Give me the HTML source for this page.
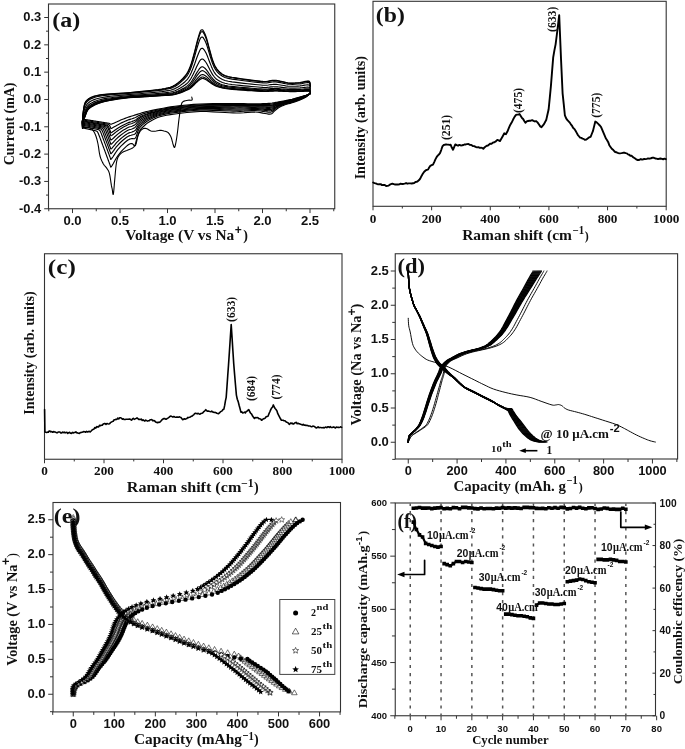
<!DOCTYPE html>
<html><head><meta charset="utf-8"><title>Figure</title>
<style>html,body{margin:0;padding:0;background:#fff;} svg{display:block;}</style>
</head><body>
<svg width="685" height="749" viewBox="0 0 685 749">
<rect x="0" y="0" width="685" height="749" fill="#fff"/>
<rect x="48.50" y="4.00" width="286.25" height="204.75" fill="none" stroke="#333" stroke-width="1.1"/>
<line x1="72.50" y1="208.75" x2="72.50" y2="213.05" stroke="#333" stroke-width="1.0" />
<line x1="120.00" y1="208.75" x2="120.00" y2="213.05" stroke="#333" stroke-width="1.0" />
<line x1="167.50" y1="208.75" x2="167.50" y2="213.05" stroke="#333" stroke-width="1.0" />
<line x1="215.00" y1="208.75" x2="215.00" y2="213.05" stroke="#333" stroke-width="1.0" />
<line x1="262.50" y1="208.75" x2="262.50" y2="213.05" stroke="#333" stroke-width="1.0" />
<line x1="310.00" y1="208.75" x2="310.00" y2="213.05" stroke="#333" stroke-width="1.0" />
<line x1="48.75" y1="208.75" x2="48.75" y2="211.25" stroke="#333" stroke-width="1.0" />
<line x1="96.25" y1="208.75" x2="96.25" y2="211.25" stroke="#333" stroke-width="1.0" />
<line x1="143.75" y1="208.75" x2="143.75" y2="211.25" stroke="#333" stroke-width="1.0" />
<line x1="191.25" y1="208.75" x2="191.25" y2="211.25" stroke="#333" stroke-width="1.0" />
<line x1="238.75" y1="208.75" x2="238.75" y2="211.25" stroke="#333" stroke-width="1.0" />
<line x1="286.25" y1="208.75" x2="286.25" y2="211.25" stroke="#333" stroke-width="1.0" />
<line x1="333.75" y1="208.75" x2="333.75" y2="211.25" stroke="#333" stroke-width="1.0" />
<line x1="48.50" y1="208.75" x2="44.20" y2="208.75" stroke="#333" stroke-width="1.0" />
<line x1="48.50" y1="181.43" x2="44.20" y2="181.43" stroke="#333" stroke-width="1.0" />
<line x1="48.50" y1="154.11" x2="44.20" y2="154.11" stroke="#333" stroke-width="1.0" />
<line x1="48.50" y1="126.79" x2="44.20" y2="126.79" stroke="#333" stroke-width="1.0" />
<line x1="48.50" y1="99.47" x2="44.20" y2="99.47" stroke="#333" stroke-width="1.0" />
<line x1="48.50" y1="72.15" x2="44.20" y2="72.15" stroke="#333" stroke-width="1.0" />
<line x1="48.50" y1="44.83" x2="44.20" y2="44.83" stroke="#333" stroke-width="1.0" />
<line x1="48.50" y1="17.51" x2="44.20" y2="17.51" stroke="#333" stroke-width="1.0" />
<line x1="48.50" y1="195.09" x2="46.00" y2="195.09" stroke="#333" stroke-width="1.0" />
<line x1="48.50" y1="167.77" x2="46.00" y2="167.77" stroke="#333" stroke-width="1.0" />
<line x1="48.50" y1="140.45" x2="46.00" y2="140.45" stroke="#333" stroke-width="1.0" />
<line x1="48.50" y1="113.13" x2="46.00" y2="113.13" stroke="#333" stroke-width="1.0" />
<line x1="48.50" y1="85.81" x2="46.00" y2="85.81" stroke="#333" stroke-width="1.0" />
<line x1="48.50" y1="58.49" x2="46.00" y2="58.49" stroke="#333" stroke-width="1.0" />
<line x1="48.50" y1="31.17" x2="46.00" y2="31.17" stroke="#333" stroke-width="1.0" />
<text x="72.50" y="224.60" font-family='"Liberation Sans", Arial, sans-serif' font-size="12.5" font-weight="bold" fill="#111" text-anchor="middle" textLength="18.20" lengthAdjust="spacingAndGlyphs" >0.0</text>
<text x="120.00" y="224.60" font-family='"Liberation Sans", Arial, sans-serif' font-size="12.5" font-weight="bold" fill="#111" text-anchor="middle" textLength="18.20" lengthAdjust="spacingAndGlyphs" >0.5</text>
<text x="167.50" y="224.60" font-family='"Liberation Sans", Arial, sans-serif' font-size="12.5" font-weight="bold" fill="#111" text-anchor="middle" textLength="18.20" lengthAdjust="spacingAndGlyphs" >1.0</text>
<text x="215.00" y="224.60" font-family='"Liberation Sans", Arial, sans-serif' font-size="12.5" font-weight="bold" fill="#111" text-anchor="middle" textLength="18.20" lengthAdjust="spacingAndGlyphs" >1.5</text>
<text x="262.50" y="224.60" font-family='"Liberation Sans", Arial, sans-serif' font-size="12.5" font-weight="bold" fill="#111" text-anchor="middle" textLength="18.20" lengthAdjust="spacingAndGlyphs" >2.0</text>
<text x="310.00" y="224.60" font-family='"Liberation Sans", Arial, sans-serif' font-size="12.5" font-weight="bold" fill="#111" text-anchor="middle" textLength="18.20" lengthAdjust="spacingAndGlyphs" >2.5</text>
<text x="41.20" y="212.65" font-family='"Liberation Sans", Arial, sans-serif' font-size="12.5" font-weight="bold" fill="#111" text-anchor="end" textLength="22.20" lengthAdjust="spacingAndGlyphs" >-0.4</text>
<text x="41.20" y="185.33" font-family='"Liberation Sans", Arial, sans-serif' font-size="12.5" font-weight="bold" fill="#111" text-anchor="end" textLength="22.20" lengthAdjust="spacingAndGlyphs" >-0.3</text>
<text x="41.20" y="158.01" font-family='"Liberation Sans", Arial, sans-serif' font-size="12.5" font-weight="bold" fill="#111" text-anchor="end" textLength="22.20" lengthAdjust="spacingAndGlyphs" >-0.2</text>
<text x="41.20" y="130.69" font-family='"Liberation Sans", Arial, sans-serif' font-size="12.5" font-weight="bold" fill="#111" text-anchor="end" textLength="22.20" lengthAdjust="spacingAndGlyphs" >-0.1</text>
<text x="41.20" y="103.37" font-family='"Liberation Sans", Arial, sans-serif' font-size="12.5" font-weight="bold" fill="#111" text-anchor="end" textLength="18.00" lengthAdjust="spacingAndGlyphs" >0.0</text>
<text x="41.20" y="76.05" font-family='"Liberation Sans", Arial, sans-serif' font-size="12.5" font-weight="bold" fill="#111" text-anchor="end" textLength="18.00" lengthAdjust="spacingAndGlyphs" >0.1</text>
<text x="41.20" y="48.73" font-family='"Liberation Sans", Arial, sans-serif' font-size="12.5" font-weight="bold" fill="#111" text-anchor="end" textLength="18.00" lengthAdjust="spacingAndGlyphs" >0.2</text>
<text x="41.20" y="21.41" font-family='"Liberation Sans", Arial, sans-serif' font-size="12.5" font-weight="bold" fill="#111" text-anchor="end" textLength="18.00" lengthAdjust="spacingAndGlyphs" >0.3</text>
<text x="52.30" y="26.50" font-family='"Liberation Serif", "Times New Roman", serif' font-size="20" font-weight="bold" fill="#111" textLength="28.00" lengthAdjust="spacingAndGlyphs" >(a)</text>
<text x="125.20" y="240.40" font-family='"Liberation Serif", "Times New Roman", serif' font-size="14" font-weight="bold" fill="#111" textLength="109.00" lengthAdjust="spacingAndGlyphs" >Voltage (V vs Na</text>
<text x="234.80" y="234.40" font-family='"Liberation Sans", Arial, sans-serif' font-size="12" font-weight="bold" fill="#111" >+</text>
<text x="243.20" y="240.40" font-family='"Liberation Serif", "Times New Roman", serif' font-size="14" font-weight="bold" fill="#111" >)</text>
<text x="14.30" y="123.90" font-family='"Liberation Serif", "Times New Roman", serif' font-size="15" font-weight="bold" fill="#111" text-anchor="middle" textLength="82.50" lengthAdjust="spacingAndGlyphs" transform="rotate(-90 14.30 123.90)" >Current (mA)</text>
<rect x="373.00" y="1.30" width="293.20" height="205.00" fill="none" stroke="#333" stroke-width="1.1"/>
<line x1="373.00" y1="206.30" x2="373.00" y2="210.30" stroke="#333" stroke-width="1.0" />
<line x1="431.64" y1="206.30" x2="431.64" y2="210.30" stroke="#333" stroke-width="1.0" />
<line x1="490.28" y1="206.30" x2="490.28" y2="210.30" stroke="#333" stroke-width="1.0" />
<line x1="548.92" y1="206.30" x2="548.92" y2="210.30" stroke="#333" stroke-width="1.0" />
<line x1="607.56" y1="206.30" x2="607.56" y2="210.30" stroke="#333" stroke-width="1.0" />
<line x1="666.20" y1="206.30" x2="666.20" y2="210.30" stroke="#333" stroke-width="1.0" />
<line x1="402.32" y1="206.30" x2="402.32" y2="208.50" stroke="#333" stroke-width="1.0" />
<line x1="460.96" y1="206.30" x2="460.96" y2="208.50" stroke="#333" stroke-width="1.0" />
<line x1="519.60" y1="206.30" x2="519.60" y2="208.50" stroke="#333" stroke-width="1.0" />
<line x1="578.24" y1="206.30" x2="578.24" y2="208.50" stroke="#333" stroke-width="1.0" />
<line x1="636.88" y1="206.30" x2="636.88" y2="208.50" stroke="#333" stroke-width="1.0" />
<text x="373.00" y="222.50" font-family='"Liberation Serif", "Times New Roman", serif' font-size="12.5" font-weight="bold" fill="#111" text-anchor="middle" textLength="6.60" lengthAdjust="spacingAndGlyphs" >0</text>
<text x="431.64" y="222.50" font-family='"Liberation Serif", "Times New Roman", serif' font-size="12.5" font-weight="bold" fill="#111" text-anchor="middle" textLength="19.80" lengthAdjust="spacingAndGlyphs" >200</text>
<text x="490.28" y="222.50" font-family='"Liberation Serif", "Times New Roman", serif' font-size="12.5" font-weight="bold" fill="#111" text-anchor="middle" textLength="19.80" lengthAdjust="spacingAndGlyphs" >400</text>
<text x="548.92" y="222.50" font-family='"Liberation Serif", "Times New Roman", serif' font-size="12.5" font-weight="bold" fill="#111" text-anchor="middle" textLength="19.80" lengthAdjust="spacingAndGlyphs" >600</text>
<text x="607.56" y="222.50" font-family='"Liberation Serif", "Times New Roman", serif' font-size="12.5" font-weight="bold" fill="#111" text-anchor="middle" textLength="19.80" lengthAdjust="spacingAndGlyphs" >800</text>
<text x="666.20" y="222.50" font-family='"Liberation Serif", "Times New Roman", serif' font-size="12.5" font-weight="bold" fill="#111" text-anchor="middle" textLength="26.40" lengthAdjust="spacingAndGlyphs" >1000</text>
<text x="375.80" y="22.00" font-family='"Liberation Serif", "Times New Roman", serif' font-size="20" font-weight="bold" fill="#111" textLength="29.00" lengthAdjust="spacingAndGlyphs" >(b)</text>
<text x="462.20" y="240.00" font-family='"Liberation Serif", "Times New Roman", serif' font-size="14" font-weight="bold" fill="#111" textLength="109.80" lengthAdjust="spacingAndGlyphs" >Raman shift (cm</text>
<text x="572.60" y="234.20" font-family='"Liberation Serif", "Times New Roman", serif' font-size="11.5" font-weight="bold" fill="#111" textLength="11.60" lengthAdjust="spacingAndGlyphs" >−1</text>
<text x="584.80" y="240.00" font-family='"Liberation Serif", "Times New Roman", serif' font-size="12" font-weight="bold" fill="#111" >)</text>
<text x="365.00" y="117.70" font-family='"Liberation Serif", "Times New Roman", serif' font-size="14" font-weight="bold" fill="#111" text-anchor="middle" transform="rotate(-90 365.00 117.70)" >Intensity (arb. units)</text>
<rect x="44.50" y="253.75" width="297.50" height="205.50" fill="none" stroke="#333" stroke-width="1.1"/>
<line x1="44.50" y1="459.25" x2="44.50" y2="463.25" stroke="#333" stroke-width="1.0" />
<line x1="104.00" y1="459.25" x2="104.00" y2="463.25" stroke="#333" stroke-width="1.0" />
<line x1="163.50" y1="459.25" x2="163.50" y2="463.25" stroke="#333" stroke-width="1.0" />
<line x1="223.00" y1="459.25" x2="223.00" y2="463.25" stroke="#333" stroke-width="1.0" />
<line x1="282.50" y1="459.25" x2="282.50" y2="463.25" stroke="#333" stroke-width="1.0" />
<line x1="342.00" y1="459.25" x2="342.00" y2="463.25" stroke="#333" stroke-width="1.0" />
<line x1="74.25" y1="459.25" x2="74.25" y2="461.45" stroke="#333" stroke-width="1.0" />
<line x1="133.75" y1="459.25" x2="133.75" y2="461.45" stroke="#333" stroke-width="1.0" />
<line x1="193.25" y1="459.25" x2="193.25" y2="461.45" stroke="#333" stroke-width="1.0" />
<line x1="252.75" y1="459.25" x2="252.75" y2="461.45" stroke="#333" stroke-width="1.0" />
<line x1="312.25" y1="459.25" x2="312.25" y2="461.45" stroke="#333" stroke-width="1.0" />
<text x="44.50" y="475.20" font-family='"Liberation Serif", "Times New Roman", serif' font-size="12.5" font-weight="bold" fill="#111" text-anchor="middle" textLength="6.60" lengthAdjust="spacingAndGlyphs" >0</text>
<text x="104.00" y="475.20" font-family='"Liberation Serif", "Times New Roman", serif' font-size="12.5" font-weight="bold" fill="#111" text-anchor="middle" textLength="19.80" lengthAdjust="spacingAndGlyphs" >200</text>
<text x="163.50" y="475.20" font-family='"Liberation Serif", "Times New Roman", serif' font-size="12.5" font-weight="bold" fill="#111" text-anchor="middle" textLength="19.80" lengthAdjust="spacingAndGlyphs" >400</text>
<text x="223.00" y="475.20" font-family='"Liberation Serif", "Times New Roman", serif' font-size="12.5" font-weight="bold" fill="#111" text-anchor="middle" textLength="19.80" lengthAdjust="spacingAndGlyphs" >600</text>
<text x="282.50" y="475.20" font-family='"Liberation Serif", "Times New Roman", serif' font-size="12.5" font-weight="bold" fill="#111" text-anchor="middle" textLength="19.80" lengthAdjust="spacingAndGlyphs" >800</text>
<text x="342.00" y="475.20" font-family='"Liberation Serif", "Times New Roman", serif' font-size="12.5" font-weight="bold" fill="#111" text-anchor="middle" textLength="26.40" lengthAdjust="spacingAndGlyphs" >1000</text>
<text x="47.80" y="274.00" font-family='"Liberation Serif", "Times New Roman", serif' font-size="20" font-weight="bold" fill="#111" textLength="28.00" lengthAdjust="spacingAndGlyphs" >(c)</text>
<text x="126.80" y="491.50" font-family='"Liberation Serif", "Times New Roman", serif' font-size="14" font-weight="bold" fill="#111" textLength="114.50" lengthAdjust="spacingAndGlyphs" >Raman shift (cm</text>
<text x="241.00" y="486.60" font-family='"Liberation Serif", "Times New Roman", serif' font-size="11.5" font-weight="bold" fill="#111" textLength="12.60" lengthAdjust="spacingAndGlyphs" >−1</text>
<text x="254.00" y="491.50" font-family='"Liberation Serif", "Times New Roman", serif' font-size="14" font-weight="bold" fill="#111" >)</text>
<text x="33.50" y="353.00" font-family='"Liberation Serif", "Times New Roman", serif' font-size="14" font-weight="bold" fill="#111" text-anchor="middle" transform="rotate(-90 33.50 353.00)" >Intensity (arb. units)</text>
<rect x="395.25" y="253.75" width="282.35" height="205.25" fill="none" stroke="#333" stroke-width="1.1"/>
<line x1="408.25" y1="459.00" x2="408.25" y2="463.50" stroke="#333" stroke-width="1.0" />
<line x1="457.09" y1="459.00" x2="457.09" y2="463.50" stroke="#333" stroke-width="1.0" />
<line x1="505.93" y1="459.00" x2="505.93" y2="463.50" stroke="#333" stroke-width="1.0" />
<line x1="554.77" y1="459.00" x2="554.77" y2="463.50" stroke="#333" stroke-width="1.0" />
<line x1="603.61" y1="459.00" x2="603.61" y2="463.50" stroke="#333" stroke-width="1.0" />
<line x1="652.45" y1="459.00" x2="652.45" y2="463.50" stroke="#333" stroke-width="1.0" />
<line x1="432.67" y1="459.00" x2="432.67" y2="462.00" stroke="#333" stroke-width="1.0" />
<line x1="481.51" y1="459.00" x2="481.51" y2="462.00" stroke="#333" stroke-width="1.0" />
<line x1="530.35" y1="459.00" x2="530.35" y2="462.00" stroke="#333" stroke-width="1.0" />
<line x1="579.19" y1="459.00" x2="579.19" y2="462.00" stroke="#333" stroke-width="1.0" />
<line x1="628.03" y1="459.00" x2="628.03" y2="462.00" stroke="#333" stroke-width="1.0" />
<line x1="676.87" y1="459.00" x2="676.87" y2="462.00" stroke="#333" stroke-width="1.0" />
<line x1="395.25" y1="442.25" x2="390.75" y2="442.25" stroke="#333" stroke-width="1.0" />
<line x1="395.25" y1="408.00" x2="390.75" y2="408.00" stroke="#333" stroke-width="1.0" />
<line x1="395.25" y1="373.75" x2="390.75" y2="373.75" stroke="#333" stroke-width="1.0" />
<line x1="395.25" y1="339.50" x2="390.75" y2="339.50" stroke="#333" stroke-width="1.0" />
<line x1="395.25" y1="305.25" x2="390.75" y2="305.25" stroke="#333" stroke-width="1.0" />
<line x1="395.25" y1="271.00" x2="390.75" y2="271.00" stroke="#333" stroke-width="1.0" />
<line x1="395.25" y1="459.38" x2="392.25" y2="459.38" stroke="#333" stroke-width="1.0" />
<line x1="395.25" y1="425.12" x2="392.25" y2="425.12" stroke="#333" stroke-width="1.0" />
<line x1="395.25" y1="390.88" x2="392.25" y2="390.88" stroke="#333" stroke-width="1.0" />
<line x1="395.25" y1="356.62" x2="392.25" y2="356.62" stroke="#333" stroke-width="1.0" />
<line x1="395.25" y1="322.38" x2="392.25" y2="322.38" stroke="#333" stroke-width="1.0" />
<line x1="395.25" y1="288.12" x2="392.25" y2="288.12" stroke="#333" stroke-width="1.0" />
<text x="408.25" y="474.80" font-family='"Liberation Sans", Arial, sans-serif' font-size="12.8" font-weight="bold" fill="#111" text-anchor="middle" >0</text>
<text x="457.09" y="474.80" font-family='"Liberation Sans", Arial, sans-serif' font-size="12.8" font-weight="bold" fill="#111" text-anchor="middle" >200</text>
<text x="505.93" y="474.80" font-family='"Liberation Sans", Arial, sans-serif' font-size="12.8" font-weight="bold" fill="#111" text-anchor="middle" >400</text>
<text x="554.77" y="474.80" font-family='"Liberation Sans", Arial, sans-serif' font-size="12.8" font-weight="bold" fill="#111" text-anchor="middle" >600</text>
<text x="603.61" y="474.80" font-family='"Liberation Sans", Arial, sans-serif' font-size="12.8" font-weight="bold" fill="#111" text-anchor="middle" >800</text>
<text x="652.45" y="474.80" font-family='"Liberation Sans", Arial, sans-serif' font-size="12.8" font-weight="bold" fill="#111" text-anchor="middle" >1000</text>
<text x="388.80" y="445.95" font-family='"Liberation Sans", Arial, sans-serif' font-size="13" font-weight="bold" fill="#111" text-anchor="end" >0.0</text>
<text x="388.80" y="411.70" font-family='"Liberation Sans", Arial, sans-serif' font-size="13" font-weight="bold" fill="#111" text-anchor="end" >0.5</text>
<text x="388.80" y="377.45" font-family='"Liberation Sans", Arial, sans-serif' font-size="13" font-weight="bold" fill="#111" text-anchor="end" >1.0</text>
<text x="388.80" y="343.20" font-family='"Liberation Sans", Arial, sans-serif' font-size="13" font-weight="bold" fill="#111" text-anchor="end" >1.5</text>
<text x="388.80" y="308.95" font-family='"Liberation Sans", Arial, sans-serif' font-size="13" font-weight="bold" fill="#111" text-anchor="end" >2.0</text>
<text x="388.80" y="274.70" font-family='"Liberation Sans", Arial, sans-serif' font-size="13" font-weight="bold" fill="#111" text-anchor="end" >2.5</text>
<text x="397.50" y="273.30" font-family='"Liberation Serif", "Times New Roman", serif' font-size="20" font-weight="bold" fill="#111" textLength="27.50" lengthAdjust="spacingAndGlyphs" >(d)</text>
<text x="453.40" y="490.50" font-family='"Liberation Serif", "Times New Roman", serif' font-size="14" font-weight="bold" fill="#111" textLength="112.60" lengthAdjust="spacingAndGlyphs" >Capacity (mAh. g</text>
<text x="566.60" y="483.60" font-family='"Liberation Serif", "Times New Roman", serif' font-size="11.5" font-weight="bold" fill="#111" textLength="11.20" lengthAdjust="spacingAndGlyphs" >−1</text>
<text x="578.80" y="490.60" font-family='"Liberation Serif", "Times New Roman", serif' font-size="12" font-weight="bold" fill="#111" >)</text>
<text x="360.60" y="425.60" font-family='"Liberation Serif", "Times New Roman", serif' font-size="14.5" font-weight="bold" fill="#111" transform="rotate(-90 360.60 425.60)" >Voltage (Na vs Na</text>
<text x="355.60" y="315.60" font-family='"Liberation Sans", Arial, sans-serif' font-size="12.5" font-weight="bold" fill="#111" transform="rotate(-90 355.60 315.60)" >+</text>
<text x="360.60" y="308.60" font-family='"Liberation Serif", "Times New Roman", serif' font-size="14.5" font-weight="bold" fill="#111" transform="rotate(-90 360.60 308.60)" >)</text>
<rect x="53.00" y="502.50" width="287.50" height="209.40" fill="none" stroke="#333" stroke-width="1.1"/>
<line x1="73.25" y1="711.90" x2="73.25" y2="716.40" stroke="#333" stroke-width="1.0" />
<line x1="114.30" y1="711.90" x2="114.30" y2="716.40" stroke="#333" stroke-width="1.0" />
<line x1="155.35" y1="711.90" x2="155.35" y2="716.40" stroke="#333" stroke-width="1.0" />
<line x1="196.40" y1="711.90" x2="196.40" y2="716.40" stroke="#333" stroke-width="1.0" />
<line x1="237.45" y1="711.90" x2="237.45" y2="716.40" stroke="#333" stroke-width="1.0" />
<line x1="278.50" y1="711.90" x2="278.50" y2="716.40" stroke="#333" stroke-width="1.0" />
<line x1="319.55" y1="711.90" x2="319.55" y2="716.40" stroke="#333" stroke-width="1.0" />
<line x1="52.73" y1="711.90" x2="52.73" y2="714.90" stroke="#333" stroke-width="1.0" />
<line x1="93.78" y1="711.90" x2="93.78" y2="714.90" stroke="#333" stroke-width="1.0" />
<line x1="134.82" y1="711.90" x2="134.82" y2="714.90" stroke="#333" stroke-width="1.0" />
<line x1="175.88" y1="711.90" x2="175.88" y2="714.90" stroke="#333" stroke-width="1.0" />
<line x1="216.92" y1="711.90" x2="216.92" y2="714.90" stroke="#333" stroke-width="1.0" />
<line x1="257.98" y1="711.90" x2="257.98" y2="714.90" stroke="#333" stroke-width="1.0" />
<line x1="299.02" y1="711.90" x2="299.02" y2="714.90" stroke="#333" stroke-width="1.0" />
<line x1="340.07" y1="711.90" x2="340.07" y2="714.90" stroke="#333" stroke-width="1.0" />
<line x1="53.00" y1="694.25" x2="48.20" y2="694.25" stroke="#333" stroke-width="1.0" />
<line x1="53.00" y1="659.35" x2="48.20" y2="659.35" stroke="#333" stroke-width="1.0" />
<line x1="53.00" y1="624.45" x2="48.20" y2="624.45" stroke="#333" stroke-width="1.0" />
<line x1="53.00" y1="589.55" x2="48.20" y2="589.55" stroke="#333" stroke-width="1.0" />
<line x1="53.00" y1="554.65" x2="48.20" y2="554.65" stroke="#333" stroke-width="1.0" />
<line x1="53.00" y1="519.75" x2="48.20" y2="519.75" stroke="#333" stroke-width="1.0" />
<line x1="53.00" y1="711.70" x2="50.00" y2="711.70" stroke="#333" stroke-width="1.0" />
<line x1="53.00" y1="676.80" x2="50.00" y2="676.80" stroke="#333" stroke-width="1.0" />
<line x1="53.00" y1="641.90" x2="50.00" y2="641.90" stroke="#333" stroke-width="1.0" />
<line x1="53.00" y1="607.00" x2="50.00" y2="607.00" stroke="#333" stroke-width="1.0" />
<line x1="53.00" y1="572.10" x2="50.00" y2="572.10" stroke="#333" stroke-width="1.0" />
<line x1="53.00" y1="537.20" x2="50.00" y2="537.20" stroke="#333" stroke-width="1.0" />
<text x="73.25" y="727.90" font-family='"Liberation Sans", Arial, sans-serif' font-size="12.9" font-weight="bold" fill="#111" text-anchor="middle" >0</text>
<text x="114.30" y="727.90" font-family='"Liberation Sans", Arial, sans-serif' font-size="12.9" font-weight="bold" fill="#111" text-anchor="middle" >100</text>
<text x="155.35" y="727.90" font-family='"Liberation Sans", Arial, sans-serif' font-size="12.9" font-weight="bold" fill="#111" text-anchor="middle" >200</text>
<text x="196.40" y="727.90" font-family='"Liberation Sans", Arial, sans-serif' font-size="12.9" font-weight="bold" fill="#111" text-anchor="middle" >300</text>
<text x="237.45" y="727.90" font-family='"Liberation Sans", Arial, sans-serif' font-size="12.9" font-weight="bold" fill="#111" text-anchor="middle" >400</text>
<text x="278.50" y="727.90" font-family='"Liberation Sans", Arial, sans-serif' font-size="12.9" font-weight="bold" fill="#111" text-anchor="middle" >500</text>
<text x="319.55" y="727.90" font-family='"Liberation Sans", Arial, sans-serif' font-size="12.9" font-weight="bold" fill="#111" text-anchor="middle" >600</text>
<text x="45.60" y="697.95" font-family='"Liberation Sans", Arial, sans-serif' font-size="13" font-weight="bold" fill="#111" text-anchor="end" >0.0</text>
<text x="45.60" y="663.05" font-family='"Liberation Sans", Arial, sans-serif' font-size="13" font-weight="bold" fill="#111" text-anchor="end" >0.5</text>
<text x="45.60" y="628.15" font-family='"Liberation Sans", Arial, sans-serif' font-size="13" font-weight="bold" fill="#111" text-anchor="end" >1.0</text>
<text x="45.60" y="593.25" font-family='"Liberation Sans", Arial, sans-serif' font-size="13" font-weight="bold" fill="#111" text-anchor="end" >1.5</text>
<text x="45.60" y="558.35" font-family='"Liberation Sans", Arial, sans-serif' font-size="13" font-weight="bold" fill="#111" text-anchor="end" >2.0</text>
<text x="45.60" y="523.45" font-family='"Liberation Sans", Arial, sans-serif' font-size="13" font-weight="bold" fill="#111" text-anchor="end" >2.5</text>
<text x="53.75" y="523.00" font-family='"Liberation Serif", "Times New Roman", serif' font-size="20" font-weight="bold" fill="#111" textLength="26.75" lengthAdjust="spacingAndGlyphs" >(e)</text>
<text x="134.00" y="744.30" font-family='"Liberation Serif", "Times New Roman", serif' font-size="14" font-weight="bold" fill="#111" textLength="107.90" lengthAdjust="spacingAndGlyphs" >Capacity (mAhg</text>
<text x="242.30" y="739.80" font-family='"Liberation Serif", "Times New Roman", serif' font-size="13" font-weight="bold" fill="#111" textLength="11.50" lengthAdjust="spacingAndGlyphs" >−1</text>
<text x="254.00" y="744.30" font-family='"Liberation Serif", "Times New Roman", serif' font-size="14" font-weight="bold" fill="#111" >)</text>
<text x="16.70" y="665.80" font-family='"Liberation Serif", "Times New Roman", serif' font-size="14.3" font-weight="bold" fill="#111" transform="rotate(-90 16.70 665.80)" >Voltage (V vs Na</text>
<text x="9.60" y="565.00" font-family='"Liberation Sans", Arial, sans-serif' font-size="12.5" font-weight="bold" fill="#111" transform="rotate(-90 9.60 565.00)" >+</text>
<text x="16.70" y="557.80" font-family='"Liberation Serif", "Times New Roman", serif' font-size="14.3" font-weight="normal" fill="#111" transform="rotate(-90 16.70 557.80)" >)</text>
<rect x="279.8" y="599.5" width="55" height="74.9" fill="#fff" stroke="#444" stroke-width="1"/>
<rect x="395.25" y="503.00" width="260.25" height="212.75" fill="none" stroke="#333" stroke-width="1.1"/>
<line x1="410.25" y1="715.75" x2="410.25" y2="720.25" stroke="#333" stroke-width="1.0" />
<line x1="441.05" y1="715.75" x2="441.05" y2="720.25" stroke="#333" stroke-width="1.0" />
<line x1="471.85" y1="715.75" x2="471.85" y2="720.25" stroke="#333" stroke-width="1.0" />
<line x1="502.65" y1="715.75" x2="502.65" y2="720.25" stroke="#333" stroke-width="1.0" />
<line x1="533.45" y1="715.75" x2="533.45" y2="720.25" stroke="#333" stroke-width="1.0" />
<line x1="564.25" y1="715.75" x2="564.25" y2="720.25" stroke="#333" stroke-width="1.0" />
<line x1="595.05" y1="715.75" x2="595.05" y2="720.25" stroke="#333" stroke-width="1.0" />
<line x1="625.85" y1="715.75" x2="625.85" y2="720.25" stroke="#333" stroke-width="1.0" />
<line x1="656.65" y1="715.75" x2="656.65" y2="720.25" stroke="#333" stroke-width="1.0" />
<line x1="394.85" y1="715.75" x2="394.85" y2="718.75" stroke="#333" stroke-width="1.0" />
<line x1="425.65" y1="715.75" x2="425.65" y2="718.75" stroke="#333" stroke-width="1.0" />
<line x1="456.45" y1="715.75" x2="456.45" y2="718.75" stroke="#333" stroke-width="1.0" />
<line x1="487.25" y1="715.75" x2="487.25" y2="718.75" stroke="#333" stroke-width="1.0" />
<line x1="518.05" y1="715.75" x2="518.05" y2="718.75" stroke="#333" stroke-width="1.0" />
<line x1="548.85" y1="715.75" x2="548.85" y2="718.75" stroke="#333" stroke-width="1.0" />
<line x1="579.65" y1="715.75" x2="579.65" y2="718.75" stroke="#333" stroke-width="1.0" />
<line x1="610.45" y1="715.75" x2="610.45" y2="718.75" stroke="#333" stroke-width="1.0" />
<line x1="641.25" y1="715.75" x2="641.25" y2="718.75" stroke="#333" stroke-width="1.0" />
<line x1="395.25" y1="715.75" x2="390.25" y2="715.75" stroke="#333" stroke-width="1.0" />
<line x1="395.25" y1="662.55" x2="390.25" y2="662.55" stroke="#333" stroke-width="1.0" />
<line x1="395.25" y1="609.35" x2="390.25" y2="609.35" stroke="#333" stroke-width="1.0" />
<line x1="395.25" y1="556.15" x2="390.25" y2="556.15" stroke="#333" stroke-width="1.0" />
<line x1="395.25" y1="502.95" x2="390.25" y2="502.95" stroke="#333" stroke-width="1.0" />
<line x1="395.25" y1="689.15" x2="391.95" y2="689.15" stroke="#333" stroke-width="1.0" />
<line x1="395.25" y1="635.95" x2="391.95" y2="635.95" stroke="#333" stroke-width="1.0" />
<line x1="395.25" y1="582.75" x2="391.95" y2="582.75" stroke="#333" stroke-width="1.0" />
<line x1="395.25" y1="529.55" x2="391.95" y2="529.55" stroke="#333" stroke-width="1.0" />
<line x1="655.50" y1="715.75" x2="652.50" y2="715.75" stroke="#333" stroke-width="1.0" />
<line x1="655.50" y1="673.20" x2="652.50" y2="673.20" stroke="#333" stroke-width="1.0" />
<line x1="655.50" y1="630.65" x2="652.50" y2="630.65" stroke="#333" stroke-width="1.0" />
<line x1="655.50" y1="588.10" x2="652.50" y2="588.10" stroke="#333" stroke-width="1.0" />
<line x1="655.50" y1="545.55" x2="652.50" y2="545.55" stroke="#333" stroke-width="1.0" />
<line x1="655.50" y1="503.00" x2="652.50" y2="503.00" stroke="#333" stroke-width="1.0" />
<line x1="655.50" y1="694.48" x2="653.50" y2="694.48" stroke="#333" stroke-width="1.0" />
<line x1="655.50" y1="651.92" x2="653.50" y2="651.92" stroke="#333" stroke-width="1.0" />
<line x1="655.50" y1="609.38" x2="653.50" y2="609.38" stroke="#333" stroke-width="1.0" />
<line x1="655.50" y1="566.83" x2="653.50" y2="566.83" stroke="#333" stroke-width="1.0" />
<line x1="655.50" y1="524.27" x2="653.50" y2="524.27" stroke="#333" stroke-width="1.0" />
<text x="410.25" y="731.80" font-family='"Liberation Sans", Arial, sans-serif' font-size="9.5" font-weight="bold" fill="#111" text-anchor="middle" >0</text>
<text x="441.05" y="731.80" font-family='"Liberation Sans", Arial, sans-serif' font-size="9.5" font-weight="bold" fill="#111" text-anchor="middle" >10</text>
<text x="471.85" y="731.80" font-family='"Liberation Sans", Arial, sans-serif' font-size="9.5" font-weight="bold" fill="#111" text-anchor="middle" >20</text>
<text x="502.65" y="731.80" font-family='"Liberation Sans", Arial, sans-serif' font-size="9.5" font-weight="bold" fill="#111" text-anchor="middle" >30</text>
<text x="533.45" y="731.80" font-family='"Liberation Sans", Arial, sans-serif' font-size="9.5" font-weight="bold" fill="#111" text-anchor="middle" >40</text>
<text x="564.25" y="731.80" font-family='"Liberation Sans", Arial, sans-serif' font-size="9.5" font-weight="bold" fill="#111" text-anchor="middle" >50</text>
<text x="595.05" y="731.80" font-family='"Liberation Sans", Arial, sans-serif' font-size="9.5" font-weight="bold" fill="#111" text-anchor="middle" >60</text>
<text x="625.85" y="731.80" font-family='"Liberation Sans", Arial, sans-serif' font-size="9.5" font-weight="bold" fill="#111" text-anchor="middle" >70</text>
<text x="656.65" y="731.80" font-family='"Liberation Sans", Arial, sans-serif' font-size="9.5" font-weight="bold" fill="#111" text-anchor="middle" >80</text>
<text x="387.00" y="718.75" font-family='"Liberation Sans", Arial, sans-serif' font-size="9.5" font-weight="bold" fill="#111" text-anchor="end" >400</text>
<text x="387.00" y="665.55" font-family='"Liberation Sans", Arial, sans-serif' font-size="9.5" font-weight="bold" fill="#111" text-anchor="end" >450</text>
<text x="387.00" y="612.35" font-family='"Liberation Sans", Arial, sans-serif' font-size="9.5" font-weight="bold" fill="#111" text-anchor="end" >500</text>
<text x="387.00" y="559.15" font-family='"Liberation Sans", Arial, sans-serif' font-size="9.5" font-weight="bold" fill="#111" text-anchor="end" >550</text>
<text x="387.00" y="505.95" font-family='"Liberation Sans", Arial, sans-serif' font-size="9.5" font-weight="bold" fill="#111" text-anchor="end" >600</text>
<text x="659.60" y="719.35" font-family='"Liberation Sans", Arial, sans-serif' font-size="10.2" font-weight="bold" fill="#111" >0</text>
<text x="659.60" y="676.80" font-family='"Liberation Sans", Arial, sans-serif' font-size="10.2" font-weight="bold" fill="#111" >20</text>
<text x="659.60" y="634.25" font-family='"Liberation Sans", Arial, sans-serif' font-size="10.2" font-weight="bold" fill="#111" >40</text>
<text x="659.60" y="591.70" font-family='"Liberation Sans", Arial, sans-serif' font-size="10.2" font-weight="bold" fill="#111" >60</text>
<text x="659.60" y="549.15" font-family='"Liberation Sans", Arial, sans-serif' font-size="10.2" font-weight="bold" fill="#111" >80</text>
<text x="659.60" y="506.60" font-family='"Liberation Sans", Arial, sans-serif' font-size="10.2" font-weight="bold" fill="#111" >100</text>
<text x="397.50" y="527.50" font-family='"Liberation Serif", "Times New Roman", serif' font-size="20" font-weight="bold" fill="#111" textLength="19.50" lengthAdjust="spacingAndGlyphs" >(f)</text>
<text x="472.20" y="744.20" font-family='"Liberation Serif", "Times New Roman", serif' font-size="13" font-weight="bold" fill="#111" textLength="76.40" lengthAdjust="spacingAndGlyphs" >Cycle number</text>
<text x="367.00" y="708.30" font-family='"Liberation Serif", "Times New Roman", serif' font-size="12.4" font-weight="bold" fill="#111" textLength="163.00" lengthAdjust="spacingAndGlyphs" transform="rotate(-90 367.00 708.30)" >Discharge capacity (mAh.g</text>
<text x="361.60" y="545.00" font-family='"Liberation Sans", Arial, sans-serif' font-size="9.5" font-weight="bold" fill="#111" transform="rotate(-90 361.60 545.00)" >-1</text>
<text x="367.00" y="535.00" font-family='"Liberation Serif", "Times New Roman", serif' font-size="12.4" font-weight="bold" fill="#111" transform="rotate(-90 367.00 535.00)" >)</text>
<text x="681.70" y="611.40" font-family='"Liberation Serif", "Times New Roman", serif' font-size="12.9" font-weight="bold" fill="#111" text-anchor="middle" textLength="145.50" lengthAdjust="spacingAndGlyphs" transform="rotate(-90 681.70 611.40)" >Coulombic efficency (%)</text>
<polyline points="373.20,182.51 374.42,183.11 375.64,183.36 376.86,183.94 378.08,184.40 379.30,184.18 380.67,184.12 382.03,185.13 383.40,184.98 384.77,185.03 386.13,186.02 387.50,185.91 388.67,185.61 389.83,184.72 391.00,184.19 392.40,183.72 393.80,184.12 395.20,184.54 396.60,184.33 398.00,184.53 399.34,184.40 400.69,183.63 402.03,184.05 403.37,183.95 404.71,183.54 406.06,183.03 407.40,183.70 408.80,183.37 410.20,183.40 411.60,183.48 413.00,183.21 414.23,182.98 415.45,182.05 416.67,181.89 417.90,181.17 419.07,180.04 420.23,178.56 421.40,176.16 422.80,173.82 424.20,171.72 425.60,170.44 426.80,169.85 428.00,169.66 429.15,167.54 430.30,165.85 431.65,165.21 433.00,164.59 434.20,162.09 435.40,159.43 436.60,157.08 437.73,155.63 438.87,154.53 440.00,153.20 441.20,150.05 442.40,146.45 443.60,145.02 444.80,144.79 446.00,144.32 447.15,144.66 448.30,144.61 449.45,144.94 450.60,144.70 451.80,147.55 453.00,149.78 454.15,147.08 455.30,144.36 456.67,145.18 458.03,145.68 459.40,144.91 460.77,145.48 462.13,145.30 463.50,145.01 464.67,144.47 465.83,144.44 467.00,144.17 468.45,143.94 469.90,144.86 471.35,144.93 472.80,146.07 474.20,146.08 475.60,146.84 477.00,147.38 478.40,147.20 479.80,147.83 480.97,147.78 482.13,147.87 483.30,148.85 484.47,147.40 485.63,146.45 486.80,145.72 487.98,145.45 489.15,144.48 490.32,143.64 491.50,143.88 492.95,142.58 494.40,142.21 495.85,141.37 497.30,139.87 498.65,140.38 500.00,141.02 501.43,138.56 502.87,135.96 504.30,133.32 506.00,134.17 507.40,131.55 508.80,128.20 510.20,124.99 511.65,122.62 513.10,119.55 514.55,116.83 516.00,114.92 517.17,114.67 518.33,114.61 519.50,114.00 520.75,115.98 522.00,117.99 523.13,119.04 524.27,121.08 525.40,122.83 526.70,121.41 528.00,120.99 529.40,120.72 530.80,120.72 532.20,120.20 533.47,120.89 534.73,121.43 536.00,121.09 537.50,122.37 539.00,124.47 540.25,126.40 541.50,127.20 542.75,125.57 544.00,124.07 545.10,121.98 546.20,120.09 547.40,114.77 548.60,109.56 549.75,98.12 550.90,86.19 552.05,71.59 553.20,57.43 554.40,50.36 555.60,44.32 556.80,35.00 558.00,25.01 559.20,15.15 561.00,58.61 562.60,93.29 563.75,104.18 564.90,115.48 566.05,118.14 567.20,119.91 568.37,121.13 569.53,122.33 570.70,124.06 571.88,125.57 573.05,127.70 574.23,128.83 575.40,130.54 576.58,132.65 577.75,134.80 578.92,136.23 580.10,137.63 581.27,137.84 582.45,138.65 583.62,138.86 584.80,139.90 586.40,139.54 588.00,138.31 589.30,137.29 590.60,136.93 591.75,133.99 592.90,131.22 594.10,126.38 595.30,121.58 596.65,122.38 598.00,123.69 599.55,125.22 601.10,127.07 602.27,129.86 603.43,132.62 604.60,135.35 605.77,138.26 606.95,139.96 608.12,141.92 609.30,145.17 610.53,146.95 611.77,148.68 613.00,149.68 614.10,150.99 615.20,152.03 616.30,152.23 617.53,152.78 618.77,153.22 620.00,153.34 621.50,153.14 623.00,152.82 624.50,152.76 625.67,153.12 626.83,153.39 628.00,154.38 629.17,154.76 630.33,155.81 631.50,155.69 632.95,157.20 634.40,158.02 635.85,159.08 637.30,159.94 638.48,160.02 639.66,159.74 640.84,159.06 642.02,159.66 643.20,159.28 644.40,158.99 645.60,159.11 646.80,158.82 648.00,158.42 649.50,158.69 651.00,158.25 652.50,157.62 653.88,157.68 655.25,158.54 656.62,158.60 658.00,159.14 659.30,158.79 660.60,158.52 661.90,158.82 663.20,159.25 664.50,158.72 665.80,159.23" fill="none" stroke="#000" stroke-width="1.9" stroke-linejoin="round" stroke-linecap="round" />
<text x="450.50" y="127.40" font-family='"Liberation Serif", "Times New Roman", serif' font-size="11.5" font-weight="bold" fill="#111" text-anchor="middle" textLength="25.20" lengthAdjust="spacingAndGlyphs" transform="rotate(-90 450.50 127.40)" >(251)</text>
<text x="522.40" y="100.50" font-family='"Liberation Serif", "Times New Roman", serif' font-size="11.5" font-weight="bold" fill="#111" text-anchor="middle" textLength="25.20" lengthAdjust="spacingAndGlyphs" transform="rotate(-90 522.40 100.50)" >(475)</text>
<text x="555.90" y="19.30" font-family='"Liberation Serif", "Times New Roman", serif' font-size="11.5" font-weight="bold" fill="#111" text-anchor="middle" textLength="25.20" lengthAdjust="spacingAndGlyphs" transform="rotate(-90 555.90 19.30)" >(633)</text>
<text x="599.80" y="105.20" font-family='"Liberation Serif", "Times New Roman", serif' font-size="11.5" font-weight="bold" fill="#111" text-anchor="middle" textLength="25.20" lengthAdjust="spacingAndGlyphs" transform="rotate(-90 599.80 105.20)" >(775)</text>
<polyline points="44.60,409.58 44.90,432.03 45.80,432.19 46.64,432.41 47.49,432.15 48.33,432.29 49.17,430.97 50.01,431.12 50.86,431.85 51.70,431.63 52.64,432.27 53.58,431.52 54.52,432.00 55.46,432.04 56.40,432.71 57.27,432.82 58.15,431.97 59.02,431.94 59.90,431.98 60.77,432.91 61.65,432.97 62.52,432.04 63.40,432.63 64.28,432.13 65.15,432.83 66.03,432.50 66.90,432.36 67.80,433.39 68.70,432.68 69.60,432.35 70.50,433.30 71.40,433.38 72.30,432.44 73.20,433.04 74.10,432.53 75.00,432.47 75.88,431.87 76.75,432.83 77.62,432.84 78.50,433.32 79.38,433.43 80.25,432.64 81.12,432.51 82.00,432.23 82.91,431.93 83.82,431.62 84.73,431.78 85.64,432.21 86.56,431.37 87.47,432.00 88.38,431.62 89.29,431.36 90.20,431.95 91.14,430.99 92.08,429.96 93.02,429.39 93.96,429.07 94.90,427.53 95.84,428.15 96.78,426.64 97.72,426.91 98.66,426.84 99.60,425.28 100.51,425.79 101.42,425.18 102.33,425.11 103.24,424.07 104.16,423.59 105.07,423.46 105.98,424.41 106.89,423.44 107.80,423.77 108.67,423.94 109.55,423.82 110.42,422.69 111.30,422.11 112.24,421.57 113.18,421.30 114.12,419.75 115.06,419.72 116.00,419.32 116.92,419.38 117.84,418.08 118.76,418.89 119.68,417.81 120.60,417.71 121.51,418.34 122.42,419.16 123.33,418.72 124.24,419.57 125.16,419.44 126.07,419.19 126.98,419.24 127.89,419.19 128.80,419.16 129.71,418.99 130.62,419.62 131.53,420.18 132.44,419.00 133.36,418.29 134.27,419.33 135.18,418.89 136.09,418.42 137.00,417.88 137.88,418.59 138.75,419.39 139.62,419.30 140.50,419.42 141.38,419.11 142.25,420.48 143.12,419.83 144.00,420.49 144.88,421.05 145.75,420.12 146.62,420.64 147.50,421.10 148.38,420.72 149.25,420.77 150.12,419.70 151.00,419.77 151.91,419.65 152.82,420.82 153.73,420.57 154.64,420.88 155.56,421.98 156.47,422.31 157.38,422.77 158.29,422.32 159.20,422.38 160.07,421.97 160.95,421.00 161.82,419.92 162.70,419.26 163.63,418.58 164.56,418.48 165.49,419.16 166.42,419.16 167.35,418.45 168.28,417.82 169.21,417.15 170.14,416.34 171.07,416.13 172.00,416.62 172.91,417.08 173.82,416.52 174.73,417.00 175.64,417.19 176.56,417.17 177.47,417.15 178.38,417.32 179.29,416.83 180.20,417.20 180.97,417.48 181.73,418.40 182.50,419.67 183.38,419.50 184.25,418.71 185.12,419.27 186.00,418.89 186.88,418.51 187.75,417.39 188.62,417.66 189.50,417.17 190.34,417.05 191.19,416.27 192.03,416.10 192.87,415.36 193.71,414.90 194.56,413.63 195.40,413.21 196.32,413.53 197.24,413.84 198.16,413.30 199.08,413.91 200.00,414.23 200.97,413.47 201.93,413.27 202.90,412.80 203.87,411.61 204.83,410.84 205.80,409.66 206.65,410.65 207.50,411.28 208.35,410.94 209.20,411.27 210.05,411.56 210.90,411.81 211.75,411.18 212.60,412.01 213.45,412.15 214.30,412.48 215.15,412.37 216.00,412.78 216.85,413.30 217.70,413.42 218.55,413.74 219.40,412.95 220.30,411.90 221.20,411.37 222.10,410.91 223.00,409.52 223.90,409.14 224.67,405.45 225.43,400.80 226.20,397.35 226.97,386.57 227.73,375.69 228.50,365.16 229.40,351.83 230.30,338.12 231.20,324.50 232.03,337.09 232.87,350.49 233.70,363.39 234.60,374.32 235.50,384.99 236.40,395.06 237.30,399.29 238.20,401.62 239.10,405.26 240.00,408.55 240.90,412.11 241.80,411.84 242.70,412.90 243.60,412.66 244.50,412.15 245.40,412.91 246.25,411.51 247.10,411.14 247.95,410.15 248.80,409.62 249.75,411.78 250.70,413.29 251.65,414.18 252.60,416.05 253.55,417.41 254.50,418.44 255.38,417.57 256.25,417.70 257.12,417.45 258.00,417.71 258.88,418.61 259.76,418.82 260.64,418.93 261.52,420.21 262.40,419.75 263.33,418.75 264.27,418.59 265.20,418.11 266.13,416.73 267.07,416.49 268.00,416.29 268.88,413.92 269.77,412.01 270.65,409.86 271.53,408.03 272.42,407.24 273.30,404.91 274.20,406.96 275.10,408.50 276.00,409.45 276.90,410.82 277.80,413.69 278.70,415.28 279.60,417.03 280.50,418.81 281.40,420.19 282.30,420.23 283.20,420.23 284.10,420.82 285.00,420.79 285.90,421.83 286.80,422.22 287.70,422.44 288.60,423.54 289.50,424.30 290.35,423.09 291.20,423.39 292.05,423.05 292.90,423.87 293.75,423.87 294.60,423.00 295.45,422.68 296.30,422.34 297.17,423.73 298.04,423.31 298.91,423.78 299.78,423.89 300.65,424.33 301.52,424.57 302.38,425.01 303.25,424.37 304.12,425.25 304.99,425.02 305.86,425.43 306.73,425.42 307.60,425.51 308.48,425.93 309.35,426.06 310.23,426.03 311.11,426.68 311.98,426.75 312.86,426.03 313.74,426.18 314.62,426.61 315.49,427.54 316.37,427.90 317.25,427.59 318.12,426.77 319.00,427.70 319.87,427.43 320.74,427.54 321.61,427.76 322.48,427.70 323.35,427.43 324.22,427.96 325.08,427.34 325.95,427.11 326.82,427.70 327.69,426.90 328.56,426.76 329.43,427.48 330.30,426.57 331.17,427.45 332.04,427.57 332.91,427.23 333.78,426.92 334.65,427.57 335.52,428.01 336.38,427.03 337.25,427.22 338.12,427.40 338.99,427.41 339.86,427.19 340.73,426.86 341.60,427.42" fill="none" stroke="#000" stroke-width="1.6" stroke-linejoin="round" stroke-linecap="round" />
<text x="234.70" y="309.40" font-family='"Liberation Serif", "Times New Roman", serif' font-size="11.5" font-weight="bold" fill="#111" text-anchor="middle" textLength="25.00" lengthAdjust="spacingAndGlyphs" transform="rotate(-90 234.70 309.40)" >(633)</text>
<text x="255.00" y="388.50" font-family='"Liberation Serif", "Times New Roman", serif' font-size="11.5" font-weight="bold" fill="#111" text-anchor="middle" textLength="25.00" lengthAdjust="spacingAndGlyphs" transform="rotate(-90 255.00 388.50)" >(684)</text>
<text x="280.00" y="387.00" font-family='"Liberation Serif", "Times New Roman", serif' font-size="11.5" font-weight="bold" fill="#111" text-anchor="middle" textLength="25.00" lengthAdjust="spacingAndGlyphs" transform="rotate(-90 280.00 387.00)" >(774)</text>
<polyline points="310.30,93.50 309.57,93.80 308.53,94.24 307.30,94.73 306.00,95.20 304.67,95.63 303.23,96.07 301.68,96.52 300.00,97.00 298.12,97.54 296.06,98.12 293.98,98.69 292.00,99.20 290.16,99.63 288.38,100.02 286.66,100.37 285.00,100.70 283.38,101.01 281.81,101.29 280.34,101.56 279.00,101.80 277.86,102.03 276.88,102.23 275.95,102.42 275.00,102.60 274.05,102.77 273.12,102.92 272.14,103.07 271.00,103.20 269.73,103.32 268.38,103.42 266.83,103.52 265.00,103.60 262.90,103.67 260.56,103.74 257.95,103.78 255.00,103.80 251.60,103.78 247.81,103.72 243.87,103.65 240.00,103.60 236.48,103.55 233.12,103.51 229.45,103.48 225.00,103.50 219.45,103.54 213.12,103.60 206.48,103.73 200.00,104.00 193.52,104.44 186.88,105.03 180.55,105.67 175.00,106.30 170.43,106.92 166.56,107.57 163.16,108.21 160.00,108.80 157.05,109.35 154.44,109.87 152.10,110.35 150.00,110.80 148.20,111.19 146.69,111.53 145.34,111.85 144.00,112.20 142.64,112.60 141.34,113.02 140.12,113.43 139.00,113.80 138.02,114.11 137.16,114.38 136.34,114.64 135.50,114.90 134.64,115.17 133.78,115.44 132.91,115.71 132.00,116.00 131.08,116.29 130.16,116.58 129.15,116.91 128.00,117.30 126.62,117.78 125.06,118.34 123.48,118.92 122.00,119.50 120.66,120.08 119.38,120.68 118.16,121.26 117.00,121.80 115.88,122.29 114.81,122.75 113.84,123.16 113.00,123.50 112.32,123.76 111.78,123.96 111.35,124.10 111.00,124.20 110.78,124.25 110.67,124.24 110.61,124.20 110.50,124.13 110.32,124.01 110.12,123.85 109.91,123.68 109.70,123.54 109.50,123.46 109.30,123.40 109.10,123.35 108.90,123.31 108.70,123.27 108.50,123.23 108.30,123.19 108.10,123.16 107.90,123.13 107.70,123.09 107.50,123.06 107.30,123.03 107.10,123.00 106.90,122.96 106.70,122.93 106.50,122.90 106.30,122.87 106.10,122.84 105.90,122.80 105.70,122.77 105.50,122.74 105.30,122.71 105.10,122.68 104.90,122.64 104.70,122.61 104.50,122.58 104.30,122.55 104.10,122.52 103.90,122.48 103.70,122.45 103.50,122.42 103.30,122.39 103.10,122.36 102.90,122.32 102.70,122.29 102.50,122.26 102.30,122.23 102.10,122.20 101.90,122.16 101.70,122.13 101.50,122.10 101.30,122.07 101.10,122.04 100.90,122.00 100.70,121.97 100.50,121.94 100.30,121.91 100.10,121.88 99.90,121.84 99.70,121.81 99.50,121.78 99.30,121.75 99.10,121.72 98.90,121.68 98.70,121.65 98.50,121.62 98.30,121.59 98.10,121.56 97.90,121.52 97.70,121.49 97.50,121.46 97.30,121.43 97.10,121.40 96.90,121.36 96.70,121.33 96.50,121.30 96.30,121.27 96.10,121.24 95.90,121.20 95.70,121.17 95.50,121.14 95.30,121.11 95.10,121.08 94.90,121.04 94.70,121.01 94.50,120.98 94.30,120.95 94.10,120.92 93.90,120.88 93.70,120.85 93.50,120.82 93.30,120.79 93.10,120.76 92.90,120.72 92.70,120.69 92.50,120.66 92.30,120.63 92.10,120.60 91.90,120.56 91.70,120.53 91.50,120.50 91.30,120.47 91.10,120.44 90.90,120.40 90.70,120.37 90.50,120.34 90.30,120.31 90.10,120.28 89.90,120.24 89.70,120.21 89.50,120.18 89.30,120.15 89.10,120.12 88.90,120.08 88.70,120.05 88.50,120.02 88.30,119.99 88.10,119.96 87.90,119.92 87.70,119.89 87.50,119.86 87.30,119.83 87.10,119.80 86.90,119.76 86.70,119.73 86.50,119.70 86.30,119.67 86.10,119.64 85.90,119.60 85.70,119.57 85.50,119.54 85.30,119.51 85.10,119.48 84.90,119.44 84.70,119.41 84.50,119.38 84.30,119.35 84.10,119.32 83.90,119.23 83.71,119.10 83.51,119.05 83.30,119.19 83.02,119.71 82.71,120.49 82.44,121.20 82.30,121.50 82.33,121.18 82.49,120.47 82.72,119.65 83.00,119.00 83.31,118.75 83.66,118.70 84.09,118.50 84.60,117.80 85.18,116.33 85.83,114.34 86.59,112.26 87.50,110.50 88.57,109.19 89.77,108.10 91.12,107.13 92.60,106.20 94.19,105.29 95.89,104.44 97.77,103.65 99.90,102.90 102.22,102.20 104.73,101.55 107.55,100.93 110.80,100.30 114.54,99.64 118.71,98.97 123.21,98.34 128.00,97.80 133.33,97.38 139.14,97.06 144.88,96.78 150.00,96.50 154.36,96.23 158.25,95.98 161.77,95.74 165.00,95.50 167.85,95.31 170.31,95.16 172.62,94.93 175.00,94.50 177.62,93.78 180.31,92.84 182.85,91.86 185.00,91.00 186.62,90.33 187.88,89.75 188.94,89.17 190.00,88.50 191.09,87.68 192.12,86.78 193.09,85.86 194.00,85.00 194.82,84.20 195.56,83.44 196.27,82.70 197.00,82.00 197.78,81.30 198.58,80.62 199.33,80.00 200.00,79.50 200.54,79.14 200.98,78.89 201.39,78.72 201.80,78.60 202.20,78.50 202.58,78.46 202.99,78.48 203.50,78.60 204.15,78.83 204.89,79.14 205.68,79.54 206.50,80.00 207.35,80.56 208.25,81.21 209.15,81.88 210.00,82.50 210.76,83.04 211.47,83.53 212.19,84.01 213.00,84.50 213.84,85.00 214.69,85.50 215.70,86.00 217.00,86.50 218.55,87.01 220.31,87.53 222.41,88.04 225.00,88.50 228.26,88.92 232.06,89.31 236.09,89.67 240.00,90.00 243.87,90.30 247.81,90.56 251.60,90.80 255.00,91.00 257.95,91.18 260.56,91.33 262.90,91.44 265.00,91.50 266.80,91.48 268.31,91.39 269.66,91.29 271.00,91.20 272.30,91.13 273.50,91.06 274.70,91.01 276.00,91.00 277.38,91.04 278.81,91.12 280.34,91.21 282.00,91.30 283.81,91.38 285.75,91.47 287.81,91.55 290.00,91.60 292.45,91.61 295.12,91.59 297.73,91.55 300.00,91.50 301.84,91.42 303.41,91.33 304.77,91.24 306.00,91.20 307.11,91.19 308.07,91.21 308.87,91.29 309.50,91.50 309.91,91.93 310.12,92.52 310.22,93.10 310.30,93.50" fill="none" stroke="#000" stroke-width="1.15" stroke-linejoin="round" stroke-linecap="round" />
<polyline points="310.30,93.50 309.57,93.84 308.53,94.32 307.30,94.86 306.00,95.38 304.67,95.85 303.23,96.32 301.68,96.80 300.00,97.30 298.12,97.86 296.06,98.45 293.98,99.04 292.00,99.56 290.16,100.00 288.38,100.40 286.66,100.76 285.00,101.11 283.38,101.45 281.81,101.77 280.34,102.08 279.00,102.37 277.86,102.64 276.88,102.90 275.95,103.15 275.00,103.39 274.05,103.64 273.12,103.88 272.14,104.10 271.00,104.28 269.73,104.40 268.38,104.49 266.83,104.55 265.00,104.59 262.90,104.62 260.56,104.63 257.95,104.63 255.00,104.62 251.60,104.61 247.81,104.59 243.87,104.57 240.00,104.54 236.48,104.50 233.12,104.44 229.45,104.40 225.00,104.40 219.45,104.41 213.12,104.42 206.48,104.51 200.00,104.75 193.52,105.19 186.88,105.77 180.55,106.43 175.00,107.07 170.43,107.69 166.56,108.34 163.16,108.98 160.00,109.60 157.05,110.20 154.44,110.78 152.10,111.34 150.00,111.86 148.20,112.32 146.69,112.73 145.34,113.14 144.00,113.58 142.64,114.07 141.34,114.60 140.12,115.12 139.00,115.62 138.02,116.10 137.16,116.56 136.34,117.00 135.50,117.41 134.64,117.78 133.78,118.11 132.91,118.43 132.00,118.75 131.08,119.05 130.16,119.33 129.15,119.65 128.00,120.07 126.62,120.62 125.06,121.26 123.48,121.94 122.00,122.62 120.66,123.30 119.38,123.99 118.16,124.67 117.00,125.32 115.88,125.94 114.81,126.55 113.84,127.09 113.00,127.55 112.32,127.92 111.78,128.22 111.35,128.42 111.00,128.48 110.78,128.37 110.67,128.12 110.61,127.79 110.50,127.43 110.32,127.02 110.12,126.55 109.91,126.09 109.70,125.68 109.50,125.36 109.30,125.09 109.10,124.86 108.90,124.66 108.70,124.52 108.50,124.41 108.30,124.33 108.10,124.26 107.90,124.20 107.70,124.15 107.50,124.11 107.30,124.07 107.10,124.03 106.90,124.00 106.70,123.96 106.50,123.93 106.30,123.89 106.10,123.86 105.90,123.83 105.70,123.79 105.50,123.76 105.30,123.73 105.10,123.69 104.90,123.66 104.70,123.63 104.50,123.59 104.30,123.56 104.10,123.53 103.90,123.49 103.70,123.46 103.50,123.43 103.30,123.39 103.10,123.36 102.90,123.33 102.70,123.29 102.50,123.26 102.30,123.23 102.10,123.19 101.90,123.16 101.70,123.13 101.50,123.10 101.30,123.06 101.10,123.03 100.90,123.00 100.70,122.96 100.50,122.93 100.30,122.90 100.10,122.86 99.90,122.83 99.70,122.80 99.50,122.76 99.30,122.73 99.10,122.70 98.90,122.66 98.70,122.63 98.50,122.60 98.30,122.56 98.10,122.53 97.90,122.50 97.70,122.46 97.50,122.43 97.30,122.40 97.10,122.36 96.90,122.33 96.70,122.30 96.50,122.27 96.30,122.23 96.10,122.20 95.90,122.17 95.70,122.13 95.50,122.10 95.30,122.07 95.10,122.03 94.90,122.00 94.70,121.97 94.50,121.93 94.30,121.90 94.10,121.87 93.90,121.83 93.70,121.80 93.50,121.77 93.30,121.73 93.10,121.70 92.90,121.67 92.70,121.63 92.50,121.60 92.30,121.57 92.10,121.53 91.90,121.50 91.70,121.47 91.50,121.43 91.30,121.40 91.10,121.37 90.90,121.34 90.70,121.30 90.50,121.27 90.30,121.24 90.10,121.20 89.90,121.17 89.70,121.14 89.50,121.10 89.30,121.07 89.10,121.04 88.90,121.00 88.70,120.97 88.50,120.94 88.30,120.90 88.10,120.87 87.90,120.84 87.70,120.80 87.50,120.77 87.30,120.74 87.10,120.70 86.90,120.67 86.70,120.64 86.50,120.61 86.30,120.57 86.10,120.54 85.90,120.51 85.70,120.47 85.50,120.44 85.30,120.41 85.10,120.37 84.90,120.34 84.70,120.31 84.50,120.27 84.30,120.24 84.10,120.21 83.90,120.12 83.71,120.01 83.51,119.96 83.30,120.07 83.02,120.55 82.71,121.27 82.44,121.90 82.30,122.08 82.33,121.60 82.49,120.69 82.72,119.66 83.00,118.86 83.31,118.50 83.66,118.37 84.09,118.12 84.60,117.39 85.18,115.92 85.83,113.95 86.59,111.90 87.50,110.17 88.57,108.88 89.77,107.80 91.12,106.84 92.60,105.92 94.19,105.01 95.89,104.18 97.77,103.40 99.90,102.66 102.22,101.97 104.73,101.33 107.55,100.72 110.80,100.11 114.54,99.46 118.71,98.80 123.21,98.18 128.00,97.65 133.33,97.23 139.14,96.89 144.88,96.60 150.00,96.32 154.36,96.04 158.25,95.79 161.77,95.54 165.00,95.29 167.85,95.09 170.31,94.92 172.62,94.67 175.00,94.22 177.62,93.46 180.31,92.48 182.85,91.46 185.00,90.55 186.62,89.83 187.88,89.21 188.94,88.58 190.00,87.86 191.09,86.97 192.12,86.00 193.09,85.01 194.00,84.07 194.82,83.20 195.56,82.37 196.27,81.57 197.00,80.80 197.78,80.04 198.58,79.29 199.33,78.62 200.00,78.08 200.54,77.69 200.98,77.43 201.39,77.26 201.80,77.14 202.20,77.04 202.58,77.00 202.99,77.03 203.50,77.17 204.15,77.43 204.89,77.78 205.68,78.22 206.50,78.74 207.35,79.37 208.25,80.11 209.15,80.86 210.00,81.56 210.76,82.16 211.47,82.71 212.19,83.25 213.00,83.80 213.84,84.35 214.69,84.89 215.70,85.43 217.00,85.97 218.55,86.53 220.31,87.08 222.41,87.62 225.00,88.11 228.26,88.55 232.06,88.95 236.09,89.32 240.00,89.66 243.87,89.96 247.81,90.23 251.60,90.48 255.00,90.69 257.95,90.87 260.56,91.03 262.90,91.14 265.00,91.20 266.80,91.18 268.31,91.08 269.66,90.97 271.00,90.88 272.30,90.81 273.50,90.74 274.70,90.69 276.00,90.68 277.38,90.72 278.81,90.81 280.34,90.91 282.00,91.01 283.81,91.10 285.75,91.20 287.81,91.29 290.00,91.34 292.45,91.35 295.12,91.33 297.73,91.28 300.00,91.23 301.84,91.15 303.41,91.04 304.77,90.94 306.00,90.90 307.11,90.89 308.07,90.90 308.87,90.99 309.50,91.20 309.91,91.64 310.12,92.26 310.22,92.86 310.30,93.28" fill="none" stroke="#000" stroke-width="1.15" stroke-linejoin="round" stroke-linecap="round" />
<polyline points="310.30,93.50 309.57,93.87 308.53,94.40 307.30,95.00 306.00,95.56 304.67,96.06 303.23,96.56 301.68,97.07 300.00,97.60 298.12,98.18 296.06,98.79 293.98,99.38 292.00,99.92 290.16,100.37 288.38,100.78 286.66,101.15 285.00,101.52 283.38,101.89 281.81,102.25 280.34,102.60 279.00,102.94 277.86,103.26 276.88,103.57 275.95,103.88 275.00,104.18 274.05,104.50 273.12,104.83 272.14,105.13 271.00,105.36 269.73,105.49 268.38,105.55 266.83,105.57 265.00,105.58 262.90,105.57 260.56,105.52 257.95,105.47 255.00,105.44 251.60,105.44 247.81,105.46 243.87,105.48 240.00,105.48 236.48,105.44 233.12,105.38 229.45,105.32 225.00,105.30 219.45,105.27 213.12,105.24 206.48,105.29 200.00,105.50 193.52,105.93 186.88,106.52 180.55,107.19 175.00,107.84 170.43,108.47 166.56,109.11 163.16,109.76 160.00,110.40 157.05,111.04 154.44,111.69 152.10,112.32 150.00,112.92 148.20,113.45 146.69,113.94 145.34,114.43 144.00,114.96 142.64,115.55 141.34,116.17 140.12,116.81 139.00,117.44 138.02,118.08 137.16,118.74 136.34,119.37 135.50,119.93 134.64,120.39 133.78,120.79 132.91,121.14 132.00,121.50 131.08,121.81 130.16,122.09 129.15,122.40 128.00,122.84 126.62,123.45 125.06,124.18 123.48,124.96 122.00,125.74 120.66,126.51 119.38,127.30 118.16,128.08 117.00,128.84 115.88,129.59 114.81,130.34 113.84,131.03 113.00,131.60 112.32,132.06 111.78,132.42 111.35,132.67 111.00,132.76 110.78,132.66 110.67,132.40 110.61,132.04 110.50,131.64 110.32,131.17 110.12,130.63 109.91,130.06 109.70,129.51 109.50,129.00 109.30,128.48 109.10,127.99 108.90,127.53 108.70,127.10 108.50,126.70 108.30,126.33 108.10,126.02 107.90,125.77 107.70,125.57 107.50,125.42 107.30,125.28 107.10,125.17 106.90,125.10 106.70,125.04 106.50,124.99 106.30,124.94 106.10,124.89 105.90,124.86 105.70,124.82 105.50,124.78 105.30,124.75 105.10,124.71 104.90,124.68 104.70,124.64 104.50,124.61 104.30,124.57 104.10,124.54 103.90,124.50 103.70,124.47 103.50,124.43 103.30,124.40 103.10,124.37 102.90,124.33 102.70,124.30 102.50,124.26 102.30,124.23 102.10,124.19 101.90,124.16 101.70,124.12 101.50,124.09 101.30,124.06 101.10,124.02 100.90,123.99 100.70,123.95 100.50,123.92 100.30,123.88 100.10,123.85 99.90,123.81 99.70,123.78 99.50,123.75 99.30,123.71 99.10,123.68 98.90,123.64 98.70,123.61 98.50,123.57 98.30,123.54 98.10,123.51 97.90,123.47 97.70,123.44 97.50,123.40 97.30,123.37 97.10,123.33 96.90,123.30 96.70,123.26 96.50,123.23 96.30,123.20 96.10,123.16 95.90,123.13 95.70,123.09 95.50,123.06 95.30,123.02 95.10,122.99 94.90,122.95 94.70,122.92 94.50,122.89 94.30,122.85 94.10,122.82 93.90,122.78 93.70,122.75 93.50,122.71 93.30,122.68 93.10,122.65 92.90,122.61 92.70,122.58 92.50,122.54 92.30,122.51 92.10,122.47 91.90,122.44 91.70,122.40 91.50,122.37 91.30,122.34 91.10,122.30 90.90,122.27 90.70,122.23 90.50,122.20 90.30,122.16 90.10,122.13 89.90,122.09 89.70,122.06 89.50,122.03 89.30,121.99 89.10,121.96 88.90,121.92 88.70,121.89 88.50,121.85 88.30,121.82 88.10,121.79 87.90,121.75 87.70,121.72 87.50,121.68 87.30,121.65 87.10,121.61 86.90,121.58 86.70,121.54 86.50,121.51 86.30,121.48 86.10,121.44 85.90,121.41 85.70,121.37 85.50,121.34 85.30,121.30 85.10,121.27 84.90,121.23 84.70,121.20 84.50,121.17 84.30,121.13 84.10,121.10 83.90,121.02 83.71,120.91 83.51,120.86 83.30,120.96 83.02,121.39 82.71,122.05 82.44,122.60 82.30,122.66 82.33,122.00 82.49,120.86 82.72,119.61 83.00,118.62 83.31,118.11 83.66,117.84 84.09,117.49 84.60,116.70 85.18,115.22 85.83,113.30 86.59,111.31 87.50,109.63 88.57,108.35 89.77,107.29 91.12,106.35 92.60,105.44 94.19,104.56 95.89,103.74 97.77,102.98 99.90,102.26 102.22,101.59 104.73,100.97 107.55,100.38 110.80,99.78 114.54,99.15 118.71,98.52 123.21,97.92 128.00,97.39 133.33,96.97 139.14,96.62 144.88,96.32 150.00,96.02 154.36,95.73 158.25,95.47 161.77,95.21 165.00,94.94 167.85,94.71 170.31,94.52 172.62,94.24 175.00,93.74 177.62,92.93 180.31,91.88 182.85,90.78 185.00,89.80 186.62,89.01 187.88,88.31 188.94,87.60 190.00,86.78 191.09,85.79 192.12,84.69 193.09,83.58 194.00,82.52 194.82,81.54 195.56,80.59 196.27,79.67 197.00,78.80 197.78,77.93 198.58,77.08 199.33,76.31 200.00,75.70 200.54,75.28 200.98,75.00 201.39,74.82 201.80,74.70 202.20,74.60 202.58,74.57 202.99,74.62 203.50,74.79 204.15,75.10 204.89,75.51 205.68,76.03 206.50,76.64 207.35,77.39 208.25,78.26 209.15,79.16 210.00,79.98 210.76,80.69 211.47,81.35 212.19,81.99 213.00,82.62 213.84,83.25 214.69,83.88 215.70,84.49 217.00,85.10 218.55,85.72 220.31,86.33 222.41,86.92 225.00,87.46 228.26,87.93 232.06,88.35 236.09,88.73 240.00,89.08 243.87,89.40 247.81,89.69 251.60,89.94 255.00,90.16 257.95,90.35 260.56,90.52 262.90,90.64 265.00,90.70 266.80,90.67 268.31,90.57 269.66,90.44 271.00,90.34 272.30,90.27 273.50,90.20 274.70,90.15 276.00,90.14 277.38,90.20 278.81,90.29 280.34,90.41 282.00,90.52 283.81,90.63 285.75,90.75 287.81,90.85 290.00,90.91 292.45,90.92 295.12,90.89 297.73,90.84 300.00,90.78 301.84,90.69 303.41,90.56 304.77,90.45 306.00,90.40 307.11,90.38 308.07,90.39 308.87,90.48 309.50,90.70 309.91,91.17 310.12,91.82 310.22,92.46 310.30,92.90" fill="none" stroke="#000" stroke-width="1.15" stroke-linejoin="round" stroke-linecap="round" />
<polyline points="310.30,93.50 309.57,93.89 308.53,94.46 307.30,95.09 306.00,95.69 304.67,96.22 303.23,96.74 301.68,97.26 300.00,97.81 298.12,98.40 296.06,99.02 293.98,99.63 292.00,100.17 290.16,100.63 288.38,101.04 286.66,101.42 285.00,101.81 283.38,102.20 281.81,102.59 280.34,102.97 279.00,103.34 277.86,103.70 276.88,104.05 275.95,104.39 275.00,104.73 274.05,105.11 273.12,105.50 272.14,105.86 271.00,106.12 269.73,106.25 268.38,106.30 266.83,106.29 265.00,106.27 262.90,106.23 260.56,106.15 257.95,106.06 255.00,106.01 251.60,106.03 247.81,106.07 243.87,106.12 240.00,106.14 236.48,106.10 233.12,106.04 229.45,105.97 225.00,105.93 219.45,105.88 213.12,105.82 206.48,105.84 200.00,106.03 193.52,106.45 186.88,107.05 180.55,107.72 175.00,108.38 170.43,109.01 166.56,109.65 163.16,110.30 160.00,110.96 157.05,111.64 154.44,112.33 152.10,113.01 150.00,113.66 148.20,114.25 146.69,114.79 145.34,115.33 144.00,115.93 142.64,116.58 141.34,117.27 140.12,117.99 139.00,118.71 138.02,119.48 137.16,120.28 136.34,121.04 135.50,121.71 134.64,122.23 133.78,122.67 132.91,123.05 132.00,123.43 131.08,123.75 130.16,124.01 129.15,124.32 128.00,124.78 126.62,125.43 125.06,126.22 123.48,127.08 122.00,127.92 120.66,128.76 119.38,129.61 118.16,130.47 117.00,131.30 115.88,132.15 114.81,133.00 113.84,133.79 113.00,134.44 112.32,134.95 111.78,135.36 111.35,135.64 111.00,135.76 110.78,135.68 110.67,135.42 110.61,135.06 110.50,134.66 110.32,134.19 110.12,133.64 109.91,133.06 109.70,132.50 109.50,131.96 109.30,131.43 109.10,130.89 108.90,130.37 108.70,129.85 108.50,129.33 108.30,128.82 108.10,128.35 107.90,127.90 107.70,127.47 107.50,127.08 107.30,126.75 107.10,126.47 106.90,126.25 106.70,126.06 106.50,125.91 106.30,125.78 106.10,125.70 105.90,125.64 105.70,125.57 105.50,125.52 105.30,125.47 105.10,125.43 104.90,125.39 104.70,125.36 104.50,125.32 104.30,125.28 104.10,125.25 103.90,125.21 103.70,125.17 103.50,125.14 103.30,125.10 103.10,125.07 102.90,125.03 102.70,125.00 102.50,124.96 102.30,124.93 102.10,124.89 101.90,124.86 101.70,124.82 101.50,124.79 101.30,124.75 101.10,124.72 100.90,124.68 100.70,124.65 100.50,124.61 100.30,124.58 100.10,124.54 99.90,124.50 99.70,124.47 99.50,124.43 99.30,124.40 99.10,124.36 98.90,124.33 98.70,124.29 98.50,124.26 98.30,124.22 98.10,124.19 97.90,124.15 97.70,124.12 97.50,124.08 97.30,124.05 97.10,124.01 96.90,123.98 96.70,123.94 96.50,123.91 96.30,123.87 96.10,123.84 95.90,123.80 95.70,123.76 95.50,123.73 95.30,123.69 95.10,123.66 94.90,123.62 94.70,123.59 94.50,123.55 94.30,123.52 94.10,123.48 93.90,123.45 93.70,123.41 93.50,123.38 93.30,123.34 93.10,123.31 92.90,123.27 92.70,123.24 92.50,123.20 92.30,123.17 92.10,123.13 91.90,123.09 91.70,123.06 91.50,123.02 91.30,122.99 91.10,122.95 90.90,122.92 90.70,122.88 90.50,122.85 90.30,122.81 90.10,122.78 89.90,122.74 89.70,122.71 89.50,122.67 89.30,122.64 89.10,122.60 88.90,122.57 88.70,122.53 88.50,122.50 88.30,122.46 88.10,122.43 87.90,122.39 87.70,122.35 87.50,122.32 87.30,122.28 87.10,122.25 86.90,122.21 86.70,122.18 86.50,122.14 86.30,122.11 86.10,122.07 85.90,122.04 85.70,122.00 85.50,121.97 85.30,121.93 85.10,121.90 84.90,121.86 84.70,121.83 84.50,121.79 84.30,121.76 84.10,121.72 83.90,121.65 83.71,121.55 83.51,121.50 83.30,121.58 83.02,121.98 82.71,122.62 82.44,123.10 82.30,123.07 82.33,122.25 82.49,120.91 82.72,119.43 83.00,118.23 83.31,117.52 83.66,117.04 84.09,116.50 84.60,115.59 85.18,114.11 85.83,112.26 86.59,110.37 87.50,108.76 88.57,107.52 89.77,106.48 91.12,105.56 92.60,104.68 94.19,103.83 95.89,103.04 97.77,102.31 99.90,101.62 102.22,100.98 104.73,100.39 107.55,99.83 110.80,99.26 114.54,98.67 118.71,98.06 123.21,97.49 128.00,96.98 133.33,96.56 139.14,96.19 144.88,95.86 150.00,95.54 154.36,95.24 158.25,94.96 161.77,94.68 165.00,94.38 167.85,94.12 170.31,93.88 172.62,93.55 175.00,92.98 177.62,92.07 180.31,90.92 182.85,89.71 185.00,88.60 186.62,87.69 187.88,86.87 188.94,86.03 190.00,85.06 191.09,83.90 192.12,82.61 193.09,81.29 194.00,80.04 194.82,78.87 195.56,77.74 196.27,76.64 197.00,75.60 197.78,74.56 198.58,73.54 199.33,72.63 200.00,71.90 200.54,71.41 200.98,71.10 201.39,70.92 201.80,70.79 202.20,70.70 202.58,70.68 202.99,70.76 203.50,70.98 204.15,71.37 204.89,71.88 205.68,72.52 206.50,73.28 207.35,74.21 208.25,75.31 209.15,76.43 210.00,77.46 210.76,78.35 211.47,79.18 212.19,79.96 213.00,80.74 213.84,81.51 214.69,82.25 215.70,82.98 217.00,83.70 218.55,84.42 220.31,85.14 222.41,85.81 225.00,86.42 228.26,86.94 232.06,87.39 236.09,87.79 240.00,88.16 243.87,88.50 247.81,88.81 251.60,89.08 255.00,89.32 257.95,89.53 260.56,89.71 262.90,89.84 265.00,89.90 266.80,89.86 268.31,89.74 269.66,89.60 271.00,89.49 272.30,89.41 273.50,89.33 274.70,89.29 276.00,89.29 277.38,89.35 278.81,89.47 280.34,89.60 282.00,89.73 283.81,89.87 285.75,90.02 287.81,90.15 290.00,90.22 292.45,90.24 295.12,90.20 297.73,90.14 300.00,90.06 301.84,89.95 303.41,89.80 304.77,89.67 306.00,89.60 307.11,89.57 308.07,89.57 308.87,89.66 309.50,89.90 309.91,90.41 310.12,91.12 310.22,91.82 310.30,92.30" fill="none" stroke="#000" stroke-width="1.15" stroke-linejoin="round" stroke-linecap="round" />
<polyline points="310.30,93.50 309.57,93.93 308.53,94.54 307.30,95.23 306.00,95.87 304.67,96.43 303.23,96.98 301.68,97.54 300.00,98.11 298.12,98.72 296.06,99.36 293.98,99.97 292.00,100.53 290.16,101.00 288.38,101.42 286.66,101.81 285.00,102.22 283.38,102.64 281.81,103.07 280.34,103.49 279.00,103.91 277.86,104.32 276.88,104.72 275.95,105.12 275.00,105.52 274.05,105.97 273.12,106.46 272.14,106.89 271.00,107.20 269.73,107.34 268.38,107.36 266.83,107.32 265.00,107.26 262.90,107.17 260.56,107.04 257.95,106.91 255.00,106.83 251.60,106.86 247.81,106.94 243.87,107.04 240.00,107.08 236.48,107.05 233.12,106.97 229.45,106.89 225.00,106.83 219.45,106.75 213.12,106.64 206.48,106.61 200.00,106.78 193.52,107.19 186.88,107.80 180.55,108.48 175.00,109.15 170.43,109.78 166.56,110.42 163.16,111.08 160.00,111.76 157.05,112.48 154.44,113.24 152.10,114.00 150.00,114.72 148.20,115.38 146.69,116.00 145.34,116.62 144.00,117.31 142.64,118.06 141.34,118.85 140.12,119.68 139.00,120.53 138.02,121.48 137.16,122.49 136.34,123.47 135.50,124.29 134.64,124.90 133.78,125.38 132.91,125.78 132.00,126.18 131.08,126.51 130.16,126.76 129.15,127.07 128.00,127.55 126.62,128.27 125.06,129.15 123.48,130.10 122.00,131.04 120.66,131.97 119.38,132.92 118.16,133.88 117.00,134.82 115.88,135.80 114.81,136.79 113.84,137.72 113.00,138.49 112.32,139.08 111.78,139.56 111.35,139.88 111.00,140.04 110.78,139.98 110.67,139.74 110.61,139.38 110.50,138.97 110.32,138.51 110.12,137.96 109.91,137.38 109.70,136.81 109.50,136.27 109.30,135.73 109.10,135.20 108.90,134.66 108.70,134.12 108.50,133.58 108.30,133.04 108.10,132.51 107.90,131.97 107.70,131.44 107.50,130.91 107.30,130.40 107.10,129.89 106.90,129.39 106.70,128.91 106.50,128.48 106.30,128.09 106.10,127.73 105.90,127.41 105.70,127.14 105.50,126.93 105.30,126.77 105.10,126.65 104.90,126.54 104.70,126.45 104.50,126.38 104.30,126.33 104.10,126.28 103.90,126.23 103.70,126.19 103.50,126.15 103.30,126.11 103.10,126.08 102.90,126.04 102.70,126.00 102.50,125.96 102.30,125.93 102.10,125.89 101.90,125.85 101.70,125.82 101.50,125.78 101.30,125.75 101.10,125.71 100.90,125.67 100.70,125.64 100.50,125.60 100.30,125.56 100.10,125.53 99.90,125.49 99.70,125.45 99.50,125.42 99.30,125.38 99.10,125.34 98.90,125.31 98.70,125.27 98.50,125.23 98.30,125.20 98.10,125.16 97.90,125.13 97.70,125.09 97.50,125.05 97.30,125.02 97.10,124.98 96.90,124.94 96.70,124.91 96.50,124.87 96.30,124.83 96.10,124.80 95.90,124.76 95.70,124.72 95.50,124.69 95.30,124.65 95.10,124.62 94.90,124.58 94.70,124.54 94.50,124.51 94.30,124.47 94.10,124.43 93.90,124.40 93.70,124.36 93.50,124.32 93.30,124.29 93.10,124.25 92.90,124.21 92.70,124.18 92.50,124.14 92.30,124.11 92.10,124.07 91.90,124.03 91.70,124.00 91.50,123.96 91.30,123.92 91.10,123.89 90.90,123.85 90.70,123.81 90.50,123.78 90.30,123.74 90.10,123.70 89.90,123.67 89.70,123.63 89.50,123.60 89.30,123.56 89.10,123.52 88.90,123.49 88.70,123.45 88.50,123.41 88.30,123.38 88.10,123.34 87.90,123.30 87.70,123.27 87.50,123.23 87.30,123.19 87.10,123.16 86.90,123.12 86.70,123.08 86.50,123.05 86.30,123.01 86.10,122.98 85.90,122.94 85.70,122.90 85.50,122.87 85.30,122.83 85.10,122.79 84.90,122.76 84.70,122.72 84.50,122.68 84.30,122.65 84.10,122.61 83.90,122.54 83.71,122.46 83.51,122.41 83.30,122.47 83.02,122.83 82.71,123.41 82.44,123.81 82.30,123.65 82.33,122.63 82.49,121.03 82.72,119.29 83.00,117.85 83.31,116.91 83.66,116.22 84.09,115.50 84.60,114.49 85.18,113.00 85.83,111.22 86.59,109.43 87.50,107.88 88.57,106.68 89.77,105.67 91.12,104.78 92.60,103.92 94.19,103.10 95.89,102.34 97.77,101.64 99.90,100.98 102.22,100.37 104.73,99.81 107.55,99.28 110.80,98.74 114.54,98.18 118.71,97.61 123.21,97.07 128.00,96.58 133.33,96.14 139.14,95.76 144.88,95.40 150.00,95.06 154.36,94.74 158.25,94.45 161.77,94.15 165.00,93.82 167.85,93.52 170.31,93.24 172.62,92.85 175.00,92.22 177.62,91.22 180.31,89.96 182.85,88.63 185.00,87.40 186.62,86.37 187.88,85.43 188.94,84.46 190.00,83.34 191.09,82.00 192.12,80.52 193.09,79.00 194.00,77.56 194.82,76.21 195.56,74.89 196.27,73.62 197.00,72.40 197.78,71.19 198.58,70.00 199.33,68.94 200.00,68.10 200.54,67.54 200.98,67.21 201.39,67.01 201.80,66.89 202.20,66.80 202.58,66.78 202.99,66.90 203.50,67.18 204.15,67.64 204.89,68.25 205.68,69.02 206.50,69.92 207.35,71.04 208.25,72.36 209.15,73.71 210.00,74.94 210.76,76.01 211.47,77.00 212.19,77.94 213.00,78.86 213.84,79.76 214.69,80.63 215.70,81.48 217.00,82.30 218.55,83.12 220.31,83.94 222.41,84.70 225.00,85.38 228.26,85.95 232.06,86.42 236.09,86.85 240.00,87.24 243.87,87.61 247.81,87.94 251.60,88.23 255.00,88.48 257.95,88.70 260.56,88.90 262.90,89.04 265.00,89.10 266.80,89.05 268.31,88.92 269.66,88.76 271.00,88.63 272.30,88.55 273.50,88.47 274.70,88.43 276.00,88.43 277.38,88.51 278.81,88.64 280.34,88.80 282.00,88.95 283.81,89.11 285.75,89.29 287.81,89.44 290.00,89.54 292.45,89.55 295.12,89.51 297.73,89.43 300.00,89.34 301.84,89.21 303.41,89.04 304.77,88.88 306.00,88.80 307.11,88.76 308.07,88.75 308.87,88.84 309.50,89.10 309.91,89.65 310.12,90.42 310.22,91.18 310.30,91.70" fill="none" stroke="#000" stroke-width="1.15" stroke-linejoin="round" stroke-linecap="round" />
<polyline points="310.30,93.50 309.57,93.96 308.53,94.63 307.30,95.36 306.00,96.05 304.67,96.65 303.23,97.23 301.68,97.81 300.00,98.41 298.12,99.04 296.06,99.69 293.98,100.32 292.00,100.89 290.16,101.38 288.38,101.80 286.66,102.20 285.00,102.63 283.38,103.08 281.81,103.55 280.34,104.01 279.00,104.48 277.86,104.94 276.88,105.39 275.95,105.85 275.00,106.31 274.05,106.84 273.12,107.41 272.14,107.92 271.00,108.28 269.73,108.42 268.38,108.42 266.83,108.35 265.00,108.25 262.90,108.12 260.56,107.93 257.95,107.75 255.00,107.65 251.60,107.69 247.81,107.82 243.87,107.95 240.00,108.02 236.48,107.99 233.12,107.91 229.45,107.81 225.00,107.73 219.45,107.61 213.12,107.46 206.48,107.39 200.00,107.53 193.52,107.93 186.88,108.54 180.55,109.24 175.00,109.92 170.43,110.55 166.56,111.19 163.16,111.85 160.00,112.56 157.05,113.33 154.44,114.15 152.10,114.99 150.00,115.78 148.20,116.51 146.69,117.21 145.34,117.91 144.00,118.69 142.64,119.53 141.34,120.41 140.12,121.35 139.00,122.35 138.02,123.50 137.16,124.76 136.34,125.97 135.50,126.96 134.64,127.65 133.78,128.14 132.91,128.54 132.00,128.93 131.08,129.26 130.16,129.51 129.15,129.81 128.00,130.32 126.62,131.10 125.06,132.07 123.48,133.12 122.00,134.16 120.66,135.19 119.38,136.23 118.16,137.29 117.00,138.34 115.88,139.45 114.81,140.59 113.84,141.66 113.00,142.53 112.32,143.22 111.78,143.75 111.35,144.12 111.00,144.32 110.78,144.28 110.67,144.05 110.61,143.70 110.50,143.29 110.32,142.83 110.12,142.29 109.91,141.70 109.70,141.13 109.50,140.59 109.30,140.05 109.10,139.51 108.90,138.97 108.70,138.43 108.50,137.89 108.30,137.35 108.10,136.81 107.90,136.28 107.70,135.74 107.50,135.20 107.30,134.66 107.10,134.12 106.90,133.58 106.70,133.05 106.50,132.52 106.30,131.99 106.10,131.46 105.90,130.94 105.70,130.45 105.50,129.97 105.30,129.50 105.10,129.07 104.90,128.69 104.70,128.36 104.50,128.07 104.30,127.83 104.10,127.63 103.90,127.47 103.70,127.36 103.50,127.27 103.30,127.19 103.10,127.12 102.90,127.07 102.70,127.02 102.50,126.98 102.30,126.94 102.10,126.89 101.90,126.86 101.70,126.82 101.50,126.78 101.30,126.74 101.10,126.70 100.90,126.66 100.70,126.63 100.50,126.59 100.30,126.55 100.10,126.51 99.90,126.48 99.70,126.44 99.50,126.40 99.30,126.36 99.10,126.32 98.90,126.29 98.70,126.25 98.50,126.21 98.30,126.17 98.10,126.14 97.90,126.10 97.70,126.06 97.50,126.02 97.30,125.99 97.10,125.95 96.90,125.91 96.70,125.87 96.50,125.84 96.30,125.80 96.10,125.76 95.90,125.72 95.70,125.68 95.50,125.65 95.30,125.61 95.10,125.57 94.90,125.53 94.70,125.50 94.50,125.46 94.30,125.42 94.10,125.38 93.90,125.35 93.70,125.31 93.50,125.27 93.30,125.23 93.10,125.20 92.90,125.16 92.70,125.12 92.50,125.08 92.30,125.05 92.10,125.01 91.90,124.97 91.70,124.93 91.50,124.89 91.30,124.86 91.10,124.82 90.90,124.78 90.70,124.74 90.50,124.71 90.30,124.67 90.10,124.63 89.90,124.59 89.70,124.56 89.50,124.52 89.30,124.48 89.10,124.44 88.90,124.41 88.70,124.37 88.50,124.33 88.30,124.29 88.10,124.25 87.90,124.22 87.70,124.18 87.50,124.14 87.30,124.10 87.10,124.07 86.90,124.03 86.70,123.99 86.50,123.95 86.30,123.92 86.10,123.88 85.90,123.84 85.70,123.80 85.50,123.77 85.30,123.73 85.10,123.69 84.90,123.65 84.70,123.61 84.50,123.58 84.30,123.54 84.10,123.50 83.90,123.44 83.71,123.36 83.51,123.32 83.30,123.35 83.02,123.69 82.71,124.23 82.44,124.55 82.30,124.23 82.33,122.95 82.49,121.01 82.72,118.89 83.00,117.08 83.31,115.75 83.66,114.62 84.09,113.52 84.60,112.28 85.18,110.78 85.83,109.14 86.59,107.54 87.50,106.14 88.57,105.01 89.77,104.05 91.12,103.21 92.60,102.40 94.19,101.64 95.89,100.94 97.77,100.30 99.90,99.70 102.22,99.15 104.73,98.65 107.55,98.18 110.80,97.70 114.54,97.20 118.71,96.71 123.21,96.22 128.00,95.76 133.33,95.32 139.14,94.90 144.88,94.49 150.00,94.10 154.36,93.75 158.25,93.42 161.77,93.09 165.00,92.70 167.85,92.33 170.31,91.97 172.62,91.47 175.00,90.70 177.62,89.52 180.31,88.04 182.85,86.47 185.00,85.00 186.62,83.73 187.88,82.55 188.94,81.32 190.00,79.90 191.09,78.21 192.12,76.34 193.09,74.43 194.00,72.60 194.82,70.88 195.56,69.19 196.27,67.56 197.00,66.00 197.78,64.45 198.58,62.93 199.33,61.56 200.00,60.50 200.54,59.81 200.98,59.42 201.39,59.21 201.80,59.08 202.20,58.99 202.58,59.00 202.99,59.17 203.50,59.56 204.15,60.18 204.89,60.99 205.68,62.00 206.50,63.20 207.35,64.70 208.25,66.45 209.15,68.26 210.00,69.90 210.76,71.32 211.47,72.64 212.19,73.89 213.00,75.10 213.84,76.27 214.69,77.39 215.70,78.46 217.00,79.50 218.55,80.53 220.31,81.54 222.41,82.48 225.00,83.30 228.26,83.96 232.06,84.50 236.09,84.96 240.00,85.40 243.87,85.82 247.81,86.19 251.60,86.52 255.00,86.80 257.95,87.05 260.56,87.27 262.90,87.43 265.00,87.50 266.80,87.44 268.31,87.27 269.66,87.07 271.00,86.92 272.30,86.82 273.50,86.74 274.70,86.70 276.00,86.72 277.38,86.82 278.81,86.99 280.34,87.19 282.00,87.38 283.81,87.59 285.75,87.83 287.81,88.04 290.00,88.16 292.45,88.18 295.12,88.12 297.73,88.02 300.00,87.90 301.84,87.73 303.41,87.52 304.77,87.32 306.00,87.20 307.11,87.14 308.07,87.12 308.87,87.21 309.50,87.50 309.91,88.13 310.12,89.02 310.22,89.90 310.30,90.50" fill="none" stroke="#000" stroke-width="1.15" stroke-linejoin="round" stroke-linecap="round" />
<polyline points="310.30,93.50 309.57,94.00 308.53,94.72 307.30,95.51 306.00,96.24 304.67,96.88 303.23,97.50 301.68,98.12 300.00,98.74 298.12,99.39 296.06,100.06 293.98,100.70 292.00,101.29 290.16,101.78 288.38,102.22 286.66,102.63 285.00,103.08 283.38,103.57 281.81,104.07 280.34,104.59 279.00,105.11 277.86,105.62 276.88,106.13 275.95,106.65 275.00,107.18 274.05,107.79 273.12,108.46 272.14,109.06 271.00,109.46 269.73,109.62 268.38,109.59 266.83,109.48 265.00,109.34 262.90,109.16 260.56,108.91 257.95,108.68 255.00,108.56 251.60,108.61 247.81,108.78 243.87,108.96 240.00,109.05 236.48,109.03 233.12,108.94 229.45,108.83 225.00,108.72 219.45,108.56 213.12,108.36 206.48,108.25 200.00,108.35 193.52,108.75 186.88,109.37 180.55,110.08 175.00,110.77 170.43,111.40 166.56,112.03 163.16,112.71 160.00,113.44 157.05,114.26 154.44,115.16 152.10,116.07 150.00,116.95 148.20,117.76 146.69,118.54 145.34,119.33 144.00,120.20 142.64,121.14 141.34,122.13 140.12,123.19 139.00,124.36 138.02,125.76 137.16,127.35 136.34,128.87 135.50,130.07 134.64,130.82 133.78,131.28 132.91,131.60 132.00,131.95 131.08,132.27 130.16,132.51 129.15,132.83 128.00,133.37 126.62,134.22 125.06,135.28 123.48,136.45 122.00,137.60 120.66,138.72 119.38,139.87 118.16,141.04 117.00,142.22 115.88,143.46 114.81,144.76 113.84,145.99 113.00,146.99 112.32,147.76 111.78,148.37 111.35,148.79 111.00,149.02 110.78,149.02 110.67,148.80 110.61,148.44 110.50,148.05 110.32,147.59 110.12,147.04 109.91,146.45 109.70,145.89 109.50,145.35 109.30,144.81 109.10,144.27 108.90,143.73 108.70,143.19 108.50,142.65 108.30,142.11 108.10,141.57 107.90,141.03 107.70,140.49 107.50,139.95 107.30,139.41 107.10,138.87 106.90,138.33 106.70,137.79 106.50,137.25 106.30,136.71 106.10,136.17 105.90,135.63 105.70,135.09 105.50,134.55 105.30,134.02 105.10,133.48 104.90,132.96 104.70,132.43 104.50,131.91 104.30,131.40 104.10,130.92 103.90,130.46 103.70,130.02 103.50,129.61 103.30,129.26 103.10,128.97 102.90,128.72 102.70,128.52 102.50,128.34 102.30,128.21 102.10,128.11 101.90,128.04 101.70,127.97 101.50,127.90 101.30,127.85 101.10,127.81 100.90,127.77 100.70,127.72 100.50,127.68 100.30,127.64 100.10,127.60 99.90,127.56 99.70,127.52 99.50,127.48 99.30,127.44 99.10,127.40 98.90,127.36 98.70,127.33 98.50,127.29 98.30,127.25 98.10,127.21 97.90,127.17 97.70,127.13 97.50,127.09 97.30,127.05 97.10,127.01 96.90,126.97 96.70,126.94 96.50,126.90 96.30,126.86 96.10,126.82 95.90,126.78 95.70,126.74 95.50,126.70 95.30,126.66 95.10,126.62 94.90,126.59 94.70,126.55 94.50,126.51 94.30,126.47 94.10,126.43 93.90,126.39 93.70,126.35 93.50,126.31 93.30,126.27 93.10,126.23 92.90,126.20 92.70,126.16 92.50,126.12 92.30,126.08 92.10,126.04 91.90,126.00 91.70,125.96 91.50,125.92 91.30,125.88 91.10,125.85 90.90,125.81 90.70,125.77 90.50,125.73 90.30,125.69 90.10,125.65 89.90,125.61 89.70,125.57 89.50,125.53 89.30,125.49 89.10,125.46 88.90,125.42 88.70,125.38 88.50,125.34 88.30,125.30 88.10,125.26 87.90,125.22 87.70,125.18 87.50,125.14 87.30,125.10 87.10,125.07 86.90,125.03 86.70,124.99 86.50,124.95 86.30,124.91 86.10,124.87 85.90,124.83 85.70,124.79 85.50,124.75 85.30,124.72 85.10,124.68 84.90,124.64 84.70,124.60 84.50,124.56 84.30,124.52 84.10,124.48 83.90,124.43 83.71,124.36 83.51,124.32 83.30,124.33 83.02,124.63 82.71,125.14 82.44,125.37 82.30,124.86 82.33,123.27 82.49,120.90 82.72,118.31 83.00,116.02 83.31,114.15 83.66,112.43 84.09,110.80 84.60,109.24 85.18,107.73 85.83,106.28 86.59,104.94 87.50,103.74 88.57,102.71 89.77,101.83 91.12,101.04 92.60,100.31 94.19,99.63 95.89,99.01 97.77,98.46 99.90,97.94 102.22,97.47 104.73,97.06 107.55,96.67 110.80,96.27 114.54,95.86 118.71,95.47 123.21,95.06 128.00,94.64 133.33,94.18 139.14,93.71 144.88,93.23 150.00,92.78 154.36,92.38 158.25,92.01 161.77,91.62 165.00,91.16 167.85,90.69 170.31,90.22 172.62,89.58 175.00,88.61 177.62,87.18 180.31,85.40 182.85,83.50 185.00,81.70 186.62,80.11 187.88,78.59 188.94,76.99 190.00,75.17 191.09,73.00 192.12,70.60 193.09,68.14 194.00,65.78 194.82,63.54 195.56,61.35 196.27,59.23 197.00,57.20 197.78,55.18 198.58,53.20 199.33,51.42 200.00,50.05 200.54,49.18 200.98,48.70 201.39,48.47 201.80,48.34 202.20,48.26 202.58,48.30 202.99,48.55 203.50,49.09 204.15,49.92 204.89,51.01 205.68,52.35 206.50,53.96 207.35,55.97 208.25,58.33 209.15,60.76 210.00,62.97 210.76,64.88 211.47,66.66 212.19,68.33 213.00,69.93 213.84,71.47 214.69,72.93 215.70,74.31 217.00,75.65 218.55,76.97 220.31,78.25 222.41,79.43 225.00,80.44 228.26,81.23 232.06,81.85 236.09,82.37 240.00,82.87 243.87,83.35 247.81,83.78 251.60,84.16 255.00,84.49 257.95,84.79 260.56,85.04 262.90,85.23 265.00,85.30 266.80,85.21 268.31,85.00 269.66,84.75 271.00,84.57 272.30,84.45 273.50,84.37 274.70,84.33 276.00,84.37 277.38,84.50 278.81,84.72 280.34,84.97 282.00,85.22 283.81,85.50 285.75,85.82 287.81,86.10 290.00,86.27 292.45,86.29 295.12,86.22 297.73,86.08 300.00,85.92 301.84,85.70 303.41,85.42 304.77,85.16 306.00,85.00 307.11,84.91 308.07,84.87 308.87,84.97 309.50,85.30 309.91,86.04 310.12,87.09 310.22,88.14 310.30,88.85" fill="none" stroke="#000" stroke-width="1.15" stroke-linejoin="round" stroke-linecap="round" />
<polyline points="310.30,93.50 309.57,94.04 308.53,94.81 307.30,95.66 306.00,96.44 304.67,97.12 303.23,97.78 301.68,98.42 300.00,99.07 298.12,99.74 296.06,100.43 293.98,101.08 292.00,101.68 290.16,102.19 288.38,102.63 286.66,103.06 285.00,103.53 283.38,104.05 281.81,104.60 280.34,105.17 279.00,105.73 277.86,106.30 276.88,106.87 275.95,107.45 275.00,108.05 274.05,108.75 273.12,109.51 272.14,110.19 271.00,110.65 269.73,110.81 268.38,110.76 266.83,110.61 265.00,110.43 262.90,110.20 260.56,109.89 257.95,109.61 255.00,109.46 251.60,109.53 247.81,109.73 243.87,109.96 240.00,110.09 236.48,110.07 233.12,109.97 229.45,109.84 225.00,109.71 219.45,109.52 213.12,109.27 206.48,109.10 200.00,109.17 193.52,109.57 186.88,110.19 180.55,110.91 175.00,111.61 170.43,112.25 166.56,112.88 163.16,113.56 160.00,114.32 157.05,115.20 154.44,116.16 152.10,117.15 150.00,118.11 148.20,119.00 146.69,119.87 145.34,120.75 144.00,121.72 142.64,122.75 141.34,123.82 140.12,125.00 139.00,126.36 138.02,128.09 137.16,130.09 136.34,132.00 135.50,133.44 134.64,134.22 133.78,134.56 132.91,134.73 132.00,134.98 131.08,135.27 130.16,135.50 129.15,135.83 128.00,136.41 126.62,137.33 125.06,138.49 123.48,139.77 122.00,141.03 120.66,142.25 119.38,143.51 118.16,144.79 117.00,146.09 115.88,147.48 114.81,148.94 113.84,150.31 113.00,151.44 112.32,152.31 111.78,152.98 111.35,153.46 111.00,153.73 110.78,153.75 110.67,153.54 110.61,153.19 110.50,152.80 110.32,152.34 110.12,151.79 109.91,151.21 109.70,150.64 109.50,150.10 109.30,149.56 109.10,149.02 108.90,148.48 108.70,147.94 108.50,147.40 108.30,146.86 108.10,146.32 107.90,145.78 107.70,145.24 107.50,144.70 107.30,144.16 107.10,143.62 106.90,143.08 106.70,142.54 106.50,142.00 106.30,141.46 106.10,140.92 105.90,140.38 105.70,139.84 105.50,139.30 105.30,138.76 105.10,138.22 104.90,137.68 104.70,137.14 104.50,136.60 104.30,136.06 104.10,135.53 103.90,134.99 103.70,134.45 103.50,133.92 103.30,133.40 103.10,132.88 102.90,132.36 102.70,131.87 102.50,131.40 102.30,130.96 102.10,130.55 101.90,130.18 101.70,129.85 101.50,129.59 101.30,129.38 101.10,129.21 100.90,129.06 100.70,128.94 100.50,128.85 100.30,128.79 100.10,128.73 99.90,128.67 99.70,128.62 99.50,128.57 99.30,128.53 99.10,128.49 98.90,128.44 98.70,128.40 98.50,128.36 98.30,128.32 98.10,128.28 97.90,128.24 97.70,128.20 97.50,128.16 97.30,128.12 97.10,128.08 96.90,128.04 96.70,128.00 96.50,127.96 96.30,127.92 96.10,127.88 95.90,127.84 95.70,127.80 95.50,127.76 95.30,127.72 95.10,127.68 94.90,127.64 94.70,127.60 94.50,127.56 94.30,127.52 94.10,127.48 93.90,127.43 93.70,127.39 93.50,127.35 93.30,127.31 93.10,127.27 92.90,127.23 92.70,127.19 92.50,127.15 92.30,127.11 92.10,127.07 91.90,127.03 91.70,126.99 91.50,126.95 91.30,126.91 91.10,126.87 90.90,126.83 90.70,126.79 90.50,126.75 90.30,126.71 90.10,126.67 89.90,126.63 89.70,126.59 89.50,126.55 89.30,126.51 89.10,126.47 88.90,126.43 88.70,126.39 88.50,126.35 88.30,126.31 88.10,126.27 87.90,126.23 87.70,126.19 87.50,126.15 87.30,126.11 87.10,126.07 86.90,126.03 86.70,125.98 86.50,125.94 86.30,125.90 86.10,125.86 85.90,125.82 85.70,125.78 85.50,125.74 85.30,125.70 85.10,125.66 84.90,125.62 84.70,125.58 84.50,125.54 84.30,125.50 84.10,125.46 83.90,125.41 83.71,125.36 83.51,125.31 83.30,125.30 83.02,125.58 82.71,126.05 82.44,126.20 82.30,125.50 82.33,123.57 82.49,120.78 82.72,117.70 83.00,114.92 83.31,112.49 83.66,110.14 84.09,107.96 84.60,106.07 85.18,104.54 85.83,103.29 86.59,102.23 87.50,101.23 88.57,100.31 89.77,99.50 91.12,98.79 92.60,98.12 94.19,97.53 95.89,97.00 97.77,96.53 99.90,96.10 102.22,95.72 104.73,95.39 107.55,95.09 110.80,94.77 114.54,94.46 118.71,94.17 123.21,93.85 128.00,93.47 133.33,93.00 139.14,92.47 144.88,91.92 150.00,91.40 154.36,90.95 158.25,90.54 161.77,90.10 165.00,89.55 167.85,88.98 170.31,88.38 172.62,87.59 175.00,86.42 177.62,84.73 180.31,82.64 182.85,80.40 185.00,78.25 186.62,76.32 187.88,74.45 188.94,72.48 190.00,70.22 191.09,67.56 192.12,64.60 193.09,61.56 194.00,58.65 194.82,55.88 195.56,53.16 196.27,50.52 197.00,48.00 197.78,45.50 198.58,43.02 199.33,40.82 200.00,39.12 200.54,38.07 200.98,37.50 201.39,37.25 201.80,37.12 202.20,37.04 202.58,37.12 202.99,37.45 203.50,38.14 204.15,39.20 204.89,40.57 205.68,42.27 206.50,44.30 207.35,46.85 208.25,49.85 209.15,52.93 210.00,55.73 210.76,58.15 211.47,60.40 212.19,62.51 213.00,64.53 213.84,66.45 214.69,68.26 215.70,69.98 217.00,71.62 218.55,73.24 220.31,74.81 222.41,76.24 225.00,77.45 228.26,78.38 232.06,79.09 236.09,79.67 240.00,80.22 243.87,80.77 247.81,81.27 251.60,81.70 255.00,82.08 257.95,82.41 260.56,82.71 262.90,82.92 265.00,83.00 266.80,82.89 268.31,82.62 269.66,82.32 271.00,82.11 272.30,81.98 273.50,81.88 274.70,81.85 276.00,81.91 277.38,82.08 278.81,82.34 280.34,82.66 282.00,82.97 283.81,83.32 285.75,83.72 287.81,84.08 290.00,84.29 292.45,84.32 295.12,84.22 297.73,84.05 300.00,83.85 301.84,83.58 303.41,83.23 304.77,82.90 306.00,82.70 307.11,82.58 308.07,82.52 308.87,82.62 309.50,83.00 309.91,83.86 310.12,85.08 310.22,86.29 310.30,87.12" fill="none" stroke="#000" stroke-width="1.15" stroke-linejoin="round" stroke-linecap="round" />
<polyline points="310.30,93.50 309.57,94.08 308.53,94.91 307.30,95.84 306.00,96.68 304.67,97.40 303.23,98.10 301.68,98.78 300.00,99.46 298.12,100.16 296.06,100.86 293.98,101.54 292.00,102.15 290.16,102.67 288.38,103.12 286.66,103.57 285.00,104.06 283.38,104.63 281.81,105.22 280.34,105.85 279.00,106.47 277.86,107.10 276.88,107.74 275.95,108.40 275.00,109.08 274.05,109.87 273.12,110.75 272.14,111.54 271.00,112.06 269.73,112.22 268.38,112.15 266.83,111.94 265.00,111.72 262.90,111.43 260.56,111.05 257.95,110.70 255.00,110.52 251.60,110.61 247.81,110.87 243.87,111.15 240.00,111.31 236.48,111.29 233.12,111.19 229.45,111.04 225.00,110.88 219.45,110.64 213.12,110.33 206.48,110.11 200.00,110.15 193.52,110.53 186.88,111.16 180.55,111.90 175.00,112.61 170.43,113.25 166.56,113.88 163.16,114.57 160.00,115.36 157.05,116.30 154.44,117.35 152.10,118.43 150.00,119.49 148.20,120.48 146.69,121.44 145.34,122.43 144.00,123.52 142.64,124.64 141.34,125.80 140.12,127.12 139.00,128.73 138.02,130.94 137.16,133.61 136.34,136.13 135.50,137.92 134.64,138.66 133.78,138.72 132.91,138.54 132.00,138.56 131.08,138.78 130.16,139.01 129.15,139.38 128.00,140.01 126.62,141.02 125.06,142.29 123.48,143.70 122.00,145.08 120.66,146.43 119.38,147.81 118.16,149.22 117.00,150.66 115.88,152.22 114.81,153.87 113.84,155.43 113.00,156.71 112.32,157.68 111.78,158.44 111.35,158.97 111.00,159.30 110.78,159.35 110.67,159.15 110.61,158.81 110.50,158.41 110.32,157.96 110.12,157.41 109.91,156.82 109.70,156.25 109.50,155.71 109.30,155.17 109.10,154.63 108.90,154.09 108.70,153.55 108.50,153.01 108.30,152.47 108.10,151.93 107.90,151.39 107.70,150.85 107.50,150.31 107.30,149.77 107.10,149.23 106.90,148.69 106.70,148.15 106.50,147.61 106.30,147.07 106.10,146.53 105.90,145.99 105.70,145.45 105.50,144.91 105.30,144.37 105.10,143.83 104.90,143.29 104.70,142.75 104.50,142.21 104.30,141.67 104.10,141.13 103.90,140.59 103.70,140.05 103.50,139.51 103.30,138.98 103.10,138.44 102.90,137.90 102.70,137.36 102.50,136.82 102.30,136.28 102.10,135.75 101.90,135.21 101.70,134.69 101.50,134.16 101.30,133.64 101.10,133.13 100.90,132.65 100.70,132.19 100.50,131.75 100.30,131.35 100.10,131.00 99.90,130.70 99.70,130.46 99.50,130.25 99.30,130.07 99.10,129.94 98.90,129.84 98.70,129.76 98.50,129.69 98.30,129.62 98.10,129.57 97.90,129.52 97.70,129.48 97.50,129.43 97.30,129.38 97.10,129.34 96.90,129.30 96.70,129.26 96.50,129.21 96.30,129.17 96.10,129.13 95.90,129.09 95.70,129.05 95.50,129.00 95.30,128.96 95.10,128.92 94.90,128.88 94.70,128.84 94.50,128.79 94.30,128.75 94.10,128.71 93.90,128.67 93.70,128.63 93.50,128.59 93.30,128.54 93.10,128.50 92.90,128.46 92.70,128.42 92.50,128.38 92.30,128.33 92.10,128.29 91.90,128.25 91.70,128.21 91.50,128.17 91.30,128.13 91.10,128.08 90.90,128.04 90.70,128.00 90.50,127.96 90.30,127.92 90.10,127.87 89.90,127.83 89.70,127.79 89.50,127.75 89.30,127.71 89.10,127.66 88.90,127.62 88.70,127.58 88.50,127.54 88.30,127.50 88.10,127.46 87.90,127.41 87.70,127.37 87.50,127.33 87.30,127.29 87.10,127.25 86.90,127.20 86.70,127.16 86.50,127.12 86.30,127.08 86.10,127.04 85.90,127.00 85.70,126.95 85.50,126.91 85.30,126.87 85.10,126.83 84.90,126.79 84.70,126.74 84.50,126.70 84.30,126.66 84.10,126.62 83.90,126.58 83.71,126.54 83.51,126.50 83.30,126.45 83.02,126.68 82.71,127.08 82.44,127.13 82.30,126.26 82.33,124.06 82.49,120.93 82.72,117.49 83.00,114.39 83.31,111.66 83.66,109.01 84.09,106.59 84.60,104.55 85.18,103.01 85.83,101.86 86.59,100.93 87.50,100.04 88.57,99.16 89.77,98.39 91.12,97.71 92.60,97.08 94.19,96.52 95.89,96.04 97.77,95.61 99.90,95.22 102.22,94.88 104.73,94.60 107.55,94.33 110.80,94.06 114.54,93.79 118.71,93.54 123.21,93.26 128.00,92.90 133.33,92.43 139.14,91.87 144.88,91.29 150.00,90.74 154.36,90.27 158.25,89.84 161.77,89.37 165.00,88.78 167.85,88.16 170.31,87.51 172.62,86.64 175.00,85.38 177.62,83.56 180.31,81.32 182.85,78.92 185.00,76.60 186.62,74.50 187.88,72.47 188.94,70.32 190.00,67.86 191.09,64.95 192.12,61.73 193.09,58.42 194.00,55.24 194.82,52.22 195.56,49.24 196.27,46.35 197.00,43.60 197.78,40.86 198.58,38.16 199.33,35.75 200.00,33.90 200.54,32.75 200.98,32.15 201.39,31.88 201.80,31.75 202.20,31.68 202.58,31.77 202.99,32.14 203.50,32.90 204.15,34.07 204.89,35.58 205.68,37.45 206.50,39.68 207.35,42.48 208.25,45.79 209.15,49.18 210.00,52.26 210.76,54.93 211.47,57.40 212.19,59.72 213.00,61.94 213.84,64.05 214.69,66.03 215.70,67.91 217.00,69.70 218.55,71.46 220.31,73.16 222.41,74.71 225.00,76.02 228.26,77.02 232.06,77.76 236.09,78.37 240.00,78.96 243.87,79.54 247.81,80.06 251.60,80.52 255.00,80.92 257.95,81.28 260.56,81.59 262.90,81.82 265.00,81.90 266.80,81.78 268.31,81.49 269.66,81.16 271.00,80.93 272.30,80.79 273.50,80.69 274.70,80.66 276.00,80.73 277.38,80.92 278.81,81.21 280.34,81.55 282.00,81.89 283.81,82.28 285.75,82.72 287.81,83.11 290.00,83.34 292.45,83.38 295.12,83.27 297.73,83.08 300.00,82.86 301.84,82.56 303.41,82.18 304.77,81.82 306.00,81.60 307.11,81.47 308.07,81.40 308.87,81.50 309.50,81.90 309.91,82.81 310.12,84.12 310.22,85.41 310.30,86.30" fill="none" stroke="#000" stroke-width="1.15" stroke-linejoin="round" stroke-linecap="round" />
<polyline points="310.30,93.50 309.57,94.14 308.53,95.06 307.30,96.08 306.00,97.00 304.67,97.79 303.23,98.54 301.68,99.28 300.00,100.00 298.12,100.73 296.06,101.46 293.98,102.16 292.00,102.80 290.16,103.34 288.38,103.81 286.66,104.27 285.00,104.80 283.38,105.42 281.81,106.09 280.34,106.79 279.00,107.50 277.86,108.22 276.88,108.95 275.95,109.71 275.00,110.50 274.05,111.43 273.12,112.47 272.14,113.39 271.00,114.00 269.73,114.18 268.38,114.06 266.83,113.79 265.00,113.50 262.90,113.14 260.56,112.66 257.95,112.22 255.00,112.00 251.60,112.11 247.81,112.44 243.87,112.80 240.00,113.00 236.48,112.99 233.12,112.88 229.45,112.70 225.00,112.50 219.45,112.20 213.12,111.81 206.48,111.52 200.00,111.50 193.52,111.87 186.88,112.51 180.55,113.27 175.00,114.00 170.43,114.64 166.56,115.27 163.16,115.97 160.00,116.80 157.05,117.82 154.44,118.99 152.10,120.21 150.00,121.40 148.20,122.52 146.69,123.61 145.34,124.75 144.00,126.00 142.64,127.23 141.34,128.45 140.12,129.95 139.00,132.01 138.02,135.19 137.16,139.19 136.34,142.94 135.50,145.39 134.64,145.92 133.78,145.20 132.91,144.11 132.00,143.52 131.08,143.56 130.16,143.79 129.15,144.26 128.00,145.00 126.62,146.11 125.06,147.55 123.48,149.13 122.00,150.70 120.66,152.22 119.38,153.77 118.16,155.36 117.00,157.00 115.88,158.79 114.81,160.71 113.84,162.51 113.00,164.00 112.32,165.12 111.78,165.99 111.35,166.61 111.00,167.00 110.78,167.10 110.67,166.92 110.61,166.58 110.50,166.19 110.32,165.74 110.12,165.19 109.91,164.60 109.70,164.03 109.50,163.49 109.30,162.95 109.10,162.41 108.90,161.87 108.70,161.33 108.50,160.79 108.30,160.25 108.10,159.71 107.90,159.17 107.70,158.63 107.50,158.09 107.30,157.55 107.10,157.01 106.90,156.47 106.70,155.93 106.50,155.39 106.30,154.85 106.10,154.31 105.90,153.77 105.70,153.23 105.50,152.69 105.30,152.15 105.10,151.61 104.90,151.07 104.70,150.53 104.50,149.99 104.30,149.45 104.10,148.91 103.90,148.37 103.70,147.83 103.50,147.29 103.30,146.75 103.10,146.21 102.90,145.67 102.70,145.13 102.50,144.59 102.30,144.05 102.10,143.51 101.90,142.97 101.70,142.43 101.50,141.89 101.30,141.35 101.10,140.81 100.90,140.27 100.70,139.73 100.50,139.19 100.30,138.65 100.10,138.12 99.90,137.58 99.70,137.04 99.50,136.51 99.30,135.98 99.10,135.46 98.90,134.93 98.70,134.42 98.50,133.94 98.30,133.48 98.10,133.04 97.90,132.63 97.70,132.27 97.50,131.97 97.30,131.72 97.10,131.51 96.90,131.33 96.70,131.18 96.50,131.08 96.30,131.00 96.10,130.92 95.90,130.85 95.70,130.80 95.50,130.75 95.30,130.70 95.10,130.65 94.90,130.60 94.70,130.56 94.50,130.51 94.30,130.47 94.10,130.42 93.90,130.38 93.70,130.33 93.50,130.29 93.30,130.25 93.10,130.20 92.90,130.16 92.70,130.11 92.50,130.07 92.30,130.03 92.10,129.98 91.90,129.94 91.70,129.89 91.50,129.85 91.30,129.81 91.10,129.76 90.90,129.72 90.70,129.67 90.50,129.63 90.30,129.59 90.10,129.54 89.90,129.50 89.70,129.45 89.50,129.41 89.30,129.37 89.10,129.32 88.90,129.28 88.70,129.23 88.50,129.19 88.30,129.15 88.10,129.10 87.90,129.06 87.70,129.01 87.50,128.97 87.30,128.93 87.10,128.88 86.90,128.84 86.70,128.79 86.50,128.75 86.30,128.71 86.10,128.66 85.90,128.62 85.70,128.57 85.50,128.53 85.30,128.49 85.10,128.44 84.90,128.40 84.70,128.35 84.50,128.31 84.30,128.27 84.10,128.22 83.90,128.19 83.71,128.17 83.51,128.13 83.30,128.05 83.02,128.19 82.71,128.48 82.44,128.37 82.30,127.30 82.33,124.83 82.49,121.34 82.72,117.56 83.00,114.20 83.31,111.31 83.66,108.56 84.09,106.07 84.60,104.00 85.18,102.46 85.83,101.34 86.59,100.46 87.50,99.60 88.57,98.74 89.77,97.99 91.12,97.31 92.60,96.70 94.19,96.16 95.89,95.69 97.77,95.27 99.90,94.90 102.22,94.58 104.73,94.31 107.55,94.06 110.80,93.80 114.54,93.55 118.71,93.32 123.21,93.05 128.00,92.70 133.33,92.22 139.14,91.66 144.88,91.06 150.00,90.50 154.36,90.02 158.25,89.58 161.77,89.10 165.00,88.50 167.85,87.86 170.31,87.19 172.62,86.30 175.00,85.00 177.62,83.14 180.31,80.84 182.85,78.38 185.00,76.00 186.62,73.84 187.88,71.75 188.94,69.53 190.00,67.00 191.09,64.01 192.12,60.69 193.09,57.27 194.00,54.00 194.82,50.88 195.56,47.81 196.27,44.84 197.00,42.00 197.78,39.18 198.58,36.39 199.33,33.90 200.00,32.00 200.54,30.82 200.98,30.20 201.39,29.93 201.80,29.80 202.20,29.72 202.58,29.82 202.99,30.21 203.50,31.00 204.15,32.20 204.89,33.76 205.68,35.69 206.50,38.00 207.35,40.90 208.25,44.31 209.15,47.82 210.00,51.00 210.76,53.76 211.47,56.31 212.19,58.71 213.00,61.00 213.84,63.18 214.69,65.22 215.70,67.15 217.00,69.00 218.55,70.81 220.31,72.56 222.41,74.16 225.00,75.50 228.26,76.52 232.06,77.28 236.09,77.90 240.00,78.50 243.87,79.09 247.81,79.62 251.60,80.09 255.00,80.50 257.95,80.87 260.56,81.19 262.90,81.41 265.00,81.50 266.80,81.37 268.31,81.08 269.66,80.74 271.00,80.50 272.30,80.36 273.50,80.26 274.70,80.23 276.00,80.30 277.38,80.49 278.81,80.79 280.34,81.15 282.00,81.50 283.81,81.90 285.75,82.36 287.81,82.76 290.00,83.00 292.45,83.03 295.12,82.92 297.73,82.73 300.00,82.50 301.84,82.19 303.41,81.80 304.77,81.43 306.00,81.20 307.11,81.06 308.07,80.99 308.87,81.09 309.50,81.50 309.91,82.44 310.12,83.77 310.22,85.09 310.30,86.00" fill="none" stroke="#000" stroke-width="1.15" stroke-linejoin="round" stroke-linecap="round" />
<polyline points="191.80,97.10 191.93,97.68 192.15,98.54 192.24,99.40 192.00,100.00 191.32,100.21 190.32,100.19 189.17,100.12 188.00,100.20 186.75,100.42 185.38,100.69 184.06,101.10 183.00,101.70 182.29,102.37 181.81,103.13 181.43,104.25 181.00,106.00 180.49,108.64 179.97,111.96 179.46,115.55 179.00,119.00 178.59,122.32 178.22,125.69 177.86,128.96 177.50,132.00 177.12,134.82 176.75,137.47 176.38,139.89 176.00,142.00 175.62,143.90 175.25,145.59 174.88,146.86 174.50,147.50 174.14,147.34 173.78,146.53 173.41,145.33 173.00,144.00 172.56,142.44 172.09,140.56 171.58,138.66 171.00,137.00 170.34,135.63 169.62,134.41 168.84,133.36 168.00,132.50 167.07,131.90 166.06,131.51 165.02,131.25 164.00,131.00 163.02,130.73 162.06,130.50 161.07,130.34 160.00,130.30 158.80,130.44 157.50,130.72 156.20,131.01 155.00,131.20 153.93,131.27 152.94,131.29 151.98,131.22 151.00,131.00 149.99,130.55 148.97,129.91 147.96,129.26 147.00,128.80 146.09,128.51 145.22,128.33 144.36,128.30 143.50,128.50 142.61,128.94 141.72,129.57 140.84,130.43 140.00,131.50 139.19,132.87 138.41,134.50 137.67,136.26 137.00,138.00 136.44,139.81 135.97,141.72 135.51,143.52 135.00,145.00 134.46,146.05 133.91,146.81 133.28,147.41 132.50,148.00 131.53,148.57 130.41,149.06 129.21,149.52 128.00,150.00 126.75,150.48 125.44,150.94 124.16,151.43 123.00,152.00 121.99,152.66 121.08,153.38 120.25,154.16 119.50,155.00 118.84,155.86 118.26,156.75 117.76,157.77 117.30,159.00 116.91,160.38 116.59,161.88 116.30,163.69 116.00,166.00 115.68,169.00 115.36,172.53 115.03,176.30 114.70,180.00 114.35,184.06 113.99,188.47 113.63,192.27 113.30,194.50 113.00,194.49 112.71,192.88 112.45,190.71 112.20,189.00 112.01,188.16 111.86,187.61 111.68,186.85 111.40,185.40 111.00,182.83 110.52,179.51 109.98,176.13 109.40,173.40 108.79,171.58 108.13,170.26 107.43,169.18 106.70,168.10 105.92,167.08 105.09,166.22 104.25,165.27 103.40,164.00 102.52,162.37 101.62,160.49 100.75,158.37 100.00,156.00 99.42,153.22 98.95,150.08 98.51,146.90 98.00,144.00 97.42,141.41 96.83,138.97 96.16,136.73 95.40,134.70 94.53,132.85 93.58,131.19 92.53,129.78 91.40,128.70 90.10,128.05 88.67,127.77 87.25,127.68 86.00,127.60 84.91,127.52 83.91,127.53 83.08,127.57 82.50,127.60" fill="none" stroke="#000" stroke-width="1.1" stroke-linejoin="round" stroke-linecap="round" />
<polyline points="408.25,271.00 408.29,271.90 408.34,273.18 408.41,274.74 408.49,276.48 408.57,278.48 408.66,280.76 408.78,283.13 408.98,285.38 409.27,287.49 409.62,289.54 410.03,291.57 410.49,293.61 411.02,295.75 411.62,297.95 412.22,300.03 412.76,301.83 413.18,303.22 413.54,304.33 413.89,305.30 414.29,306.28 414.73,307.20 415.18,308.01 415.69,308.90 416.29,310.05 417.04,311.51 417.90,313.19 418.80,315.01 419.67,316.89 420.50,318.85 421.34,320.92 422.17,323.03 423.00,325.12 423.86,327.19 424.73,329.27 425.57,331.33 426.32,333.33 426.95,335.27 427.49,337.15 427.99,339.00 428.50,340.87 429.03,342.79 429.54,344.74 430.05,346.64 430.54,348.40 431.01,350.02 431.46,351.53 431.90,352.93 432.33,354.23 432.73,355.40 433.11,356.45 433.49,357.41 433.89,358.34 434.31,359.21 434.74,360.01 435.18,360.78 435.66,361.56 436.13,362.33 436.60,363.09 437.14,363.85 437.78,364.64 438.61,365.47 439.56,366.33 440.54,367.18 441.46,368.00 442.28,368.79 443.06,369.55 443.84,370.29 444.64,371.02 445.46,371.74 446.30,372.44 447.16,373.13 448.05,373.82 449.01,374.50 450.01,375.18 451.01,375.87 451.96,376.57 452.85,377.29 453.69,378.03 454.52,378.79 455.38,379.57 456.28,380.41 457.20,381.28 458.12,382.16 459.04,383.00 459.93,383.81 460.80,384.59 461.70,385.36 462.71,386.08 463.83,386.75 465.04,387.38 466.31,387.99 467.59,388.61 468.87,389.24 470.15,389.85 471.51,390.50 472.96,391.22 474.56,392.04 476.26,392.93 478.02,393.86 479.80,394.78 481.65,395.71 483.59,396.66 485.46,397.58 487.13,398.41 488.53,399.12 489.75,399.73 490.88,400.32 492.01,400.94 493.12,401.62 494.18,402.30 495.25,402.99 496.41,403.68 497.73,404.40 499.15,405.13 500.55,405.82 501.78,406.42 502.81,406.92 503.70,407.34 504.49,407.70 505.20,408.00 505.80,408.19 506.29,408.27 506.72,408.39 507.13,408.69 507.48,409.18 507.77,409.80 508.07,410.55 508.47,411.43 508.97,412.46 509.53,413.65 510.16,414.92 510.86,416.22 511.62,417.51 512.45,418.83 513.34,420.22 514.28,421.70 515.31,423.36 516.41,425.16 517.53,426.94 518.63,428.55 519.67,429.94 520.70,431.20 521.73,432.36 522.78,433.48 523.88,434.58 525.01,435.63 526.12,436.60 527.18,437.45 528.14,438.19 529.05,438.82 529.94,439.36 530.84,439.85 531.75,440.28 532.67,440.65 533.59,440.96 534.50,441.22 535.47,441.44 536.49,441.61 537.42,441.74 538.16,441.84 538.67,441.91 539.00,441.95 539.22,441.96 539.39,441.98" fill="none" stroke="#000" stroke-width="1.25" stroke-linejoin="round" stroke-linecap="round" />
<polyline points="408.25,271.00 408.29,271.90 408.34,273.18 408.41,274.74 408.49,276.48 408.58,278.48 408.66,280.76 408.78,283.13 408.98,285.38 409.27,287.49 409.62,289.54 410.04,291.57 410.49,293.61 411.02,295.75 411.63,297.95 412.23,300.03 412.77,301.83 413.19,303.22 413.55,304.33 413.91,305.30 414.31,306.28 414.75,307.20 415.20,308.01 415.71,308.90 416.32,310.05 417.08,311.51 417.94,313.19 418.85,315.01 419.73,316.89 420.57,318.85 421.42,320.92 422.26,323.03 423.10,325.12 423.97,327.19 424.86,329.27 425.71,331.33 426.47,333.33 427.11,335.27 427.66,337.15 428.18,339.00 428.70,340.87 429.23,342.79 429.76,344.74 430.27,346.64 430.77,348.40 431.25,350.02 431.72,351.53 432.17,352.93 432.61,354.23 433.02,355.40 433.41,356.45 433.79,357.41 434.20,358.34 434.63,359.21 435.07,360.01 435.53,360.78 436.02,361.56 436.51,362.33 437.00,363.09 437.55,363.85 438.21,364.64 439.04,365.47 439.99,366.33 440.98,367.19 441.90,368.02 442.73,368.82 443.51,369.59 444.28,370.36 445.08,371.11 445.90,371.84 446.74,372.55 447.60,373.26 448.49,373.97 449.45,374.68 450.45,375.38 451.45,376.08 452.40,376.81 453.28,377.55 454.13,378.31 454.96,379.08 455.82,379.88 456.72,380.72 457.64,381.59 458.56,382.47 459.48,383.31 460.37,384.11 461.24,384.90 462.14,385.66 463.15,386.39 464.27,387.06 465.48,387.69 466.75,388.30 468.03,388.92 469.30,389.55 470.59,390.16 471.94,390.81 473.40,391.53 475.00,392.35 476.70,393.24 478.46,394.17 480.24,395.09 482.09,396.02 484.03,396.97 485.89,397.89 487.57,398.72 488.97,399.42 490.19,400.04 491.32,400.63 492.45,401.25 493.56,401.92 494.62,402.61 495.69,403.30 496.85,403.99 498.17,404.71 499.59,405.44 500.99,406.13 502.22,406.73 503.24,407.24 504.14,407.67 504.92,408.03 505.64,408.31 506.26,408.43 506.79,408.42 507.25,408.45 507.68,408.69 508.05,409.16 508.36,409.78 508.67,410.54 509.08,411.43 509.61,412.46 510.20,413.65 510.85,414.92 511.57,416.22 512.37,417.51 513.23,418.83 514.15,420.22 515.13,421.70 516.19,423.36 517.32,425.16 518.47,426.94 519.58,428.55 520.63,429.94 521.66,431.20 522.68,432.36 523.73,433.48 524.83,434.58 525.96,435.63 527.07,436.60 528.13,437.45 529.10,438.19 530.01,438.82 530.89,439.36 531.79,439.85 532.71,440.28 533.62,440.65 534.54,440.96 535.45,441.22 536.43,441.44 537.44,441.61 538.37,441.74 539.12,441.84 539.62,441.91 539.96,441.95 540.18,441.96 540.34,441.98" fill="none" stroke="#000" stroke-width="1.25" stroke-linejoin="round" stroke-linecap="round" />
<polyline points="408.25,271.00 408.29,271.90 408.34,273.18 408.41,274.74 408.49,276.48 408.58,278.48 408.66,280.76 408.78,283.13 408.98,285.38 409.27,287.49 409.63,289.54 410.04,291.57 410.49,293.61 411.03,295.75 411.63,297.95 412.24,300.03 412.78,301.83 413.20,303.22 413.57,304.33 413.92,305.30 414.32,306.28 414.76,307.20 415.22,308.01 415.73,308.90 416.35,310.05 417.11,311.51 417.98,313.19 418.90,315.01 419.79,316.89 420.64,318.85 421.50,320.92 422.35,323.03 423.20,325.12 424.08,327.19 424.98,329.27 425.85,331.33 426.62,333.33 427.27,335.27 427.84,337.15 428.36,339.00 428.89,340.87 429.43,342.79 429.97,344.74 430.50,346.64 431.01,348.40 431.50,350.02 431.97,351.53 432.43,352.93 432.88,354.23 433.30,355.40 433.70,356.45 434.10,357.41 434.52,358.34 434.96,359.21 435.41,360.01 435.88,360.78 436.38,361.56 436.88,362.33 437.39,363.09 437.96,363.85 438.63,364.64 439.47,365.47 440.43,366.33 441.42,367.19 442.34,368.03 443.17,368.84 443.95,369.64 444.72,370.42 445.51,371.19 446.34,371.94 447.18,372.67 448.04,373.40 448.93,374.13 449.89,374.85 450.89,375.57 451.89,376.30 452.84,377.04 453.72,377.81 454.57,378.59 455.40,379.38 456.26,380.19 457.16,381.03 458.08,381.91 459.00,382.78 459.92,383.61 460.81,384.42 461.68,385.21 462.58,385.97 463.59,386.70 464.71,387.37 465.92,387.99 467.19,388.61 468.47,389.23 469.74,389.85 471.03,390.47 472.38,391.11 473.84,391.83 475.44,392.66 477.14,393.55 478.90,394.48 480.68,395.40 482.53,396.32 484.46,397.28 486.33,398.19 488.01,399.03 489.41,399.73 490.63,400.35 491.76,400.94 492.89,401.56 494.00,402.23 495.06,402.92 496.13,403.61 497.29,404.30 498.61,405.01 500.03,405.74 501.43,406.44 502.66,407.04 503.68,407.55 504.57,408.00 505.36,408.36 506.08,408.62 506.72,408.68 507.28,408.58 507.78,408.52 508.24,408.69 508.63,409.13 508.94,409.76 509.27,410.53 509.70,411.43 510.25,412.46 510.86,413.65 511.54,414.92 512.29,416.22 513.12,417.51 514.01,418.83 514.97,420.22 515.98,421.70 517.07,423.36 518.23,425.16 519.40,426.94 520.53,428.55 521.59,429.94 522.62,431.20 523.64,432.36 524.68,433.48 525.78,434.58 526.91,435.63 528.03,436.60 529.08,437.45 530.05,438.19 530.96,438.82 531.84,439.36 532.74,439.85 533.66,440.28 534.57,440.65 535.49,440.96 536.41,441.22 537.38,441.44 538.39,441.61 539.33,441.74 540.07,441.84 540.57,441.91 540.91,441.95 541.13,441.96 541.29,441.98" fill="none" stroke="#000" stroke-width="1.25" stroke-linejoin="round" stroke-linecap="round" />
<polyline points="408.25,271.00 408.29,271.90 408.34,273.18 408.41,274.74 408.49,276.48 408.58,278.48 408.66,280.76 408.78,283.13 408.98,285.38 409.27,287.49 409.63,289.54 410.04,291.57 410.49,293.61 411.03,295.75 411.64,297.95 412.25,300.03 412.78,301.83 413.21,303.22 413.58,304.33 413.93,305.30 414.34,306.28 414.78,307.20 415.24,308.01 415.76,308.90 416.38,310.05 417.15,311.51 418.02,313.19 418.95,315.01 419.85,316.89 420.71,318.85 421.57,320.92 422.44,323.03 423.30,325.12 424.20,327.19 425.11,329.27 425.99,331.33 426.77,333.33 427.43,335.27 428.01,337.15 428.54,339.00 429.08,340.87 429.64,342.79 430.18,344.74 430.72,346.64 431.24,348.40 431.74,350.02 432.23,351.53 432.70,352.93 433.16,354.23 433.59,355.40 434.00,356.45 434.40,357.41 434.83,358.34 435.28,359.21 435.75,360.01 436.23,360.78 436.74,361.56 437.26,362.33 437.79,363.09 438.37,363.85 439.06,364.64 439.90,365.47 440.86,366.34 441.85,367.20 442.78,368.05 443.61,368.87 444.39,369.68 445.16,370.48 445.95,371.27 446.78,372.04 447.62,372.79 448.48,373.53 449.37,374.28 450.33,375.03 451.33,375.77 452.33,376.52 453.28,377.28 454.16,378.07 455.01,378.86 455.84,379.67 456.70,380.50 457.60,381.35 458.52,382.22 459.44,383.09 460.36,383.92 461.25,384.73 462.12,385.52 463.02,386.28 464.03,387.00 465.15,387.68 466.36,388.30 467.63,388.91 468.91,389.54 470.18,390.16 471.47,390.78 472.82,391.42 474.28,392.14 475.88,392.96 477.58,393.86 479.34,394.79 481.12,395.70 482.97,396.63 484.90,397.58 486.77,398.50 488.45,399.33 489.85,400.04 491.07,400.66 492.20,401.25 493.33,401.87 494.44,402.54 495.50,403.23 496.57,403.92 497.72,404.61 499.05,405.32 500.47,406.05 501.87,406.75 503.10,407.35 504.12,407.87 505.00,408.32 505.79,408.69 506.52,408.92 507.18,408.92 507.77,408.73 508.30,408.58 508.79,408.69 509.20,409.11 509.53,409.74 509.87,410.53 510.32,411.43 510.88,412.46 511.52,413.65 512.23,414.92 513.01,416.22 513.87,417.51 514.80,418.83 515.79,420.22 516.83,421.70 517.95,423.36 519.14,425.16 520.34,426.94 521.49,428.55 522.55,429.94 523.58,431.20 524.59,432.36 525.64,433.48 526.74,434.58 527.87,435.63 528.98,436.60 530.03,437.45 531.00,438.19 531.91,438.82 532.80,439.36 533.70,439.85 534.61,440.28 535.53,440.65 536.44,440.96 537.36,441.22 538.33,441.44 539.34,441.61 540.28,441.74 541.02,441.84 541.53,441.91 541.86,441.95 542.08,441.96 542.24,441.98" fill="none" stroke="#000" stroke-width="1.25" stroke-linejoin="round" stroke-linecap="round" />
<polyline points="408.25,271.00 408.29,271.90 408.34,273.18 408.41,274.74 408.49,276.48 408.58,278.48 408.66,280.76 408.78,283.13 408.98,285.38 409.27,287.49 409.63,289.54 410.04,291.57 410.50,293.61 411.03,295.75 411.64,297.95 412.25,300.03 412.79,301.83 413.22,303.22 413.59,304.33 413.95,305.30 414.36,306.28 414.80,307.20 415.26,308.01 415.78,308.90 416.41,310.05 417.18,311.51 418.07,313.19 419.00,315.01 419.90,316.89 420.78,318.85 421.65,320.92 422.53,323.03 423.40,325.12 424.31,327.19 425.23,329.27 426.13,331.33 426.92,333.33 427.60,335.27 428.18,337.15 428.72,339.00 429.27,340.87 429.84,342.79 430.40,344.74 430.95,346.64 431.48,348.40 431.99,350.02 432.48,351.53 432.97,352.93 433.43,354.23 433.87,355.40 434.29,356.45 434.71,357.41 435.15,358.34 435.61,359.21 436.09,360.01 436.58,360.78 437.11,361.56 437.64,362.33 438.18,363.09 438.78,363.85 439.48,364.64 440.33,365.47 441.30,366.34 442.29,367.21 443.22,368.06 444.05,368.90 444.83,369.73 445.60,370.55 446.39,371.35 447.22,372.14 448.06,372.91 448.92,373.67 449.81,374.44 450.77,375.20 451.77,375.96 452.77,376.73 453.72,377.52 454.60,378.32 455.44,379.14 456.28,379.97 457.14,380.81 458.04,381.66 458.96,382.53 459.88,383.40 460.80,384.23 461.69,385.04 462.56,385.83 463.46,386.59 464.46,387.31 465.59,387.98 466.80,388.61 468.06,389.22 469.35,389.85 470.62,390.47 471.91,391.08 473.26,391.73 474.72,392.45 476.32,393.27 478.02,394.17 479.78,395.09 481.56,396.01 483.41,396.94 485.34,397.89 487.21,398.81 488.88,399.64 490.29,400.35 491.51,400.97 492.64,401.56 493.77,402.18 494.88,402.85 495.94,403.53 497.01,404.23 498.16,404.92 499.48,405.63 500.91,406.36 502.31,407.05 503.54,407.66 504.55,408.18 505.43,408.65 506.22,409.02 506.96,409.23 507.64,409.17 508.27,408.89 508.83,408.64 509.35,408.69 509.77,409.09 510.12,409.72 510.47,410.52 510.94,411.43 511.52,412.46 512.19,413.65 512.92,414.92 513.73,416.22 514.62,417.51 515.58,418.83 516.61,420.22 517.68,421.70 518.83,423.36 520.05,425.16 521.27,426.94 522.44,428.55 523.51,429.94 524.54,431.20 525.55,432.36 526.59,433.48 527.69,434.58 528.82,435.63 529.93,436.60 530.98,437.45 531.95,438.19 532.86,438.82 533.75,439.36 534.65,439.85 535.56,440.28 536.48,440.65 537.40,440.96 538.31,441.22 539.28,441.44 540.30,441.61 541.23,441.74 541.97,441.84 542.48,441.91 542.81,441.95 543.03,441.96 543.19,441.98" fill="none" stroke="#000" stroke-width="1.25" stroke-linejoin="round" stroke-linecap="round" />
<polyline points="408.25,271.00 408.29,271.90 408.34,273.18 408.41,274.74 408.49,276.48 408.58,278.48 408.66,280.76 408.78,283.13 408.98,285.38 409.27,287.49 409.63,289.54 410.04,291.57 410.50,293.61 411.04,295.75 411.65,297.95 412.26,300.03 412.80,301.83 413.23,303.22 413.60,304.33 413.96,305.30 414.37,306.28 414.82,307.20 415.28,308.01 415.81,308.90 416.44,310.05 417.22,311.51 418.11,313.19 419.05,315.01 419.96,316.89 420.85,318.85 421.73,320.92 422.61,323.03 423.50,325.12 424.42,327.19 425.36,329.27 426.26,331.33 427.08,333.33 427.76,335.27 428.35,337.15 428.91,339.00 429.46,340.87 430.04,342.79 430.61,344.74 431.17,346.64 431.71,348.40 432.23,350.02 432.74,351.53 433.23,352.93 433.71,354.23 434.16,355.40 434.59,356.45 435.01,357.41 435.46,358.34 435.94,359.21 436.42,360.01 436.93,360.78 437.47,361.56 438.02,362.33 438.58,363.08 439.19,363.85 439.91,364.64 440.77,365.48 441.74,366.34 442.73,367.22 443.66,368.08 444.49,368.93 445.27,369.78 446.04,370.61 446.83,371.43 447.66,372.24 448.50,373.02 449.36,373.80 450.25,374.59 451.21,375.38 452.21,376.16 453.21,376.95 454.16,377.75 455.04,378.58 455.88,379.42 456.72,380.26 457.58,381.11 458.48,381.97 459.39,382.84 460.32,383.71 461.24,384.54 462.13,385.35 463.00,386.14 463.90,386.90 464.90,387.62 466.03,388.29 467.24,388.92 468.50,389.53 469.79,390.16 471.06,390.78 472.35,391.39 473.70,392.04 475.16,392.76 476.76,393.58 478.46,394.48 480.22,395.40 482.00,396.32 483.85,397.25 485.78,398.20 487.65,399.12 489.32,399.95 490.73,400.66 491.95,401.27 493.08,401.86 494.21,402.49 495.32,403.16 496.38,403.84 497.45,404.54 498.60,405.23 499.92,405.94 501.35,406.67 502.75,407.36 503.98,407.97 504.99,408.50 505.86,408.98 506.65,409.35 507.40,409.54 508.11,409.41 508.76,409.04 509.36,408.70 509.90,408.69 510.35,409.07 510.71,409.70 511.08,410.51 511.56,411.43 512.16,412.46 512.85,413.65 513.61,414.92 514.45,416.22 515.37,417.51 516.36,418.83 517.42,420.22 518.53,421.70 519.70,423.36 520.95,425.16 522.21,426.94 523.39,428.55 524.47,429.94 525.50,431.20 526.50,432.36 527.54,433.48 528.64,434.58 529.77,435.63 530.88,436.60 531.94,437.45 532.90,438.19 533.81,438.82 534.70,439.36 535.60,439.85 536.52,440.28 537.43,440.65 538.35,440.96 539.26,441.22 540.24,441.44 541.25,441.61 542.18,441.74 542.93,441.84 543.43,441.91 543.77,441.95 543.99,441.96 544.15,441.98" fill="none" stroke="#000" stroke-width="1.25" stroke-linejoin="round" stroke-linecap="round" />
<polyline points="408.25,271.00 408.29,271.90 408.34,273.18 408.41,274.74 408.49,276.48 408.58,278.48 408.66,280.76 408.78,283.13 408.98,285.38 409.27,287.49 409.63,289.54 410.04,291.57 410.50,293.61 411.04,295.75 411.65,297.95 412.27,300.03 412.81,301.83 413.25,303.22 413.61,304.33 413.98,305.30 414.39,306.28 414.84,307.20 415.30,308.01 415.83,308.90 416.47,310.05 417.25,311.51 418.15,313.19 419.10,315.01 420.02,316.89 420.92,318.85 421.81,320.92 422.70,323.03 423.60,325.12 424.53,327.19 425.49,329.27 426.40,331.33 427.23,333.33 427.92,335.27 428.53,337.15 429.09,339.00 429.66,340.87 430.24,342.79 430.83,344.74 431.39,346.64 431.94,348.40 432.48,350.02 433.00,351.53 433.50,352.93 433.99,354.23 434.44,355.40 434.88,356.45 435.32,357.41 435.78,358.34 436.26,359.21 436.76,360.01 437.28,360.78 437.83,361.56 438.39,362.33 438.97,363.08 439.61,363.85 440.33,364.64 441.20,365.48 442.17,366.35 443.17,367.23 444.10,368.10 444.93,368.96 445.71,369.82 446.48,370.68 447.27,371.52 448.10,372.34 448.94,373.14 449.80,373.94 450.69,374.74 451.65,375.55 452.65,376.35 453.65,377.16 454.60,377.99 455.48,378.84 456.32,379.69 457.16,380.56 458.02,381.42 458.92,382.29 459.83,383.16 460.76,384.01 461.68,384.85 462.57,385.65 463.44,386.44 464.34,387.21 465.34,387.93 466.47,388.60 467.68,389.23 468.94,389.84 470.23,390.46 471.50,391.09 472.79,391.70 474.14,392.35 475.60,393.07 477.20,393.89 478.90,394.78 480.66,395.71 482.44,396.63 484.29,397.56 486.22,398.51 488.09,399.43 489.76,400.26 491.17,400.97 492.39,401.58 493.52,402.17 494.65,402.79 495.76,403.46 496.82,404.15 497.89,404.84 499.04,405.53 500.36,406.25 501.79,406.98 503.19,407.67 504.42,408.27 505.43,408.81 506.30,409.31 507.08,409.68 507.83,409.85 508.57,409.66 509.25,409.19 509.89,408.77 510.46,408.69 510.92,409.05 511.29,409.68 511.68,410.50 512.17,411.43 512.80,412.46 513.51,413.65 514.30,414.92 515.17,416.22 516.12,417.51 517.15,418.83 518.24,420.22 519.38,421.70 520.58,423.36 521.86,425.16 523.14,426.94 524.34,428.55 525.43,429.94 526.45,431.20 527.46,432.36 528.49,433.48 529.59,434.58 530.72,435.63 531.84,436.60 532.89,437.45 533.86,438.19 534.77,438.82 535.65,439.36 536.55,439.85 537.47,440.28 538.38,440.65 539.30,440.96 540.22,441.22 541.19,441.44 542.20,441.61 543.13,441.74 543.88,441.84 544.38,441.91 544.72,441.95 544.94,441.96 545.10,441.98" fill="none" stroke="#000" stroke-width="1.25" stroke-linejoin="round" stroke-linecap="round" />
<polyline points="408.25,271.00 408.29,271.90 408.34,273.18 408.41,274.74 408.49,276.48 408.58,278.48 408.66,280.76 408.78,283.13 408.98,285.38 409.27,287.49 409.63,289.54 410.04,291.57 410.50,293.61 411.04,295.75 411.66,297.95 412.27,300.03 412.82,301.83 413.26,303.22 413.63,304.33 413.99,305.30 414.41,306.28 414.86,307.20 415.33,308.01 415.86,308.90 416.50,310.05 417.29,311.51 418.19,313.19 419.15,315.01 420.08,316.89 420.98,318.85 421.89,320.92 422.79,323.03 423.70,325.12 424.65,327.19 425.61,329.27 426.54,331.33 427.38,333.33 428.09,335.27 428.70,337.15 429.27,339.00 429.85,340.87 430.45,342.79 431.04,344.74 431.62,346.64 432.18,348.40 432.72,350.02 433.25,351.53 433.76,352.93 434.26,354.23 434.73,355.40 435.17,356.45 435.62,357.41 436.09,358.34 436.59,359.21 437.10,360.01 437.63,360.78 438.19,361.56 438.77,362.33 439.37,363.08 440.02,363.84 440.75,364.64 441.63,365.48 442.61,366.35 443.61,367.23 444.54,368.11 445.37,368.99 446.15,369.87 446.92,370.74 447.71,371.60 448.54,372.44 449.38,373.26 450.24,374.08 451.13,374.90 452.09,375.72 453.09,376.55 454.08,377.38 455.04,378.23 455.92,379.09 456.76,379.97 457.60,380.86 458.46,381.73 459.36,382.60 460.27,383.47 461.20,384.32 462.12,385.16 463.01,385.96 463.88,386.75 464.78,387.51 465.78,388.24 466.91,388.91 468.12,389.53 469.38,390.15 470.67,390.77 471.94,391.40 473.23,392.01 474.58,392.66 476.04,393.38 477.63,394.20 479.34,395.09 481.10,396.02 482.88,396.94 484.73,397.87 486.66,398.82 488.53,399.74 490.20,400.57 491.61,401.27 492.83,401.89 493.96,402.48 495.09,403.10 496.20,403.77 497.25,404.46 498.33,405.15 499.48,405.84 500.80,406.55 502.23,407.29 503.63,407.98 504.86,408.58 505.86,409.13 506.73,409.63 507.51,410.01 508.27,410.16 509.03,409.91 509.75,409.35 510.41,408.83 511.01,408.69 511.50,409.03 511.88,409.66 512.28,410.50 512.79,411.43 513.44,412.46 514.18,413.65 514.99,414.92 515.88,416.22 516.87,417.51 517.93,418.83 519.06,420.22 520.23,421.70 521.46,423.36 522.77,425.16 524.08,426.94 525.30,428.55 526.39,429.94 527.41,431.20 528.41,432.36 529.45,433.48 530.55,434.58 531.67,435.63 532.79,436.60 533.84,437.45 534.81,438.19 535.72,438.82 536.61,439.36 537.51,439.85 538.42,440.28 539.34,440.65 540.25,440.96 541.17,441.22 542.14,441.44 543.15,441.61 544.09,441.74 544.83,441.84 545.34,441.91 545.67,441.95 545.89,441.96 546.05,441.98" fill="none" stroke="#000" stroke-width="1.25" stroke-linejoin="round" stroke-linecap="round" />
<polyline points="408.25,271.00 408.29,271.90 408.34,273.18 408.41,274.74 408.49,276.48 408.58,278.48 408.66,280.76 408.78,283.13 408.98,285.38 409.27,287.49 409.63,289.54 410.04,291.57 410.51,293.61 411.05,295.75 411.66,297.95 412.28,300.03 412.83,301.83 413.27,303.22 413.64,304.33 414.00,305.30 414.42,306.28 414.88,307.20 415.35,308.01 415.88,308.90 416.53,310.05 417.32,311.51 418.24,313.19 419.20,315.01 420.14,316.89 421.05,318.85 421.96,320.92 422.88,323.03 423.80,325.12 424.76,327.19 425.74,329.27 426.68,331.33 427.53,333.33 428.25,335.27 428.87,337.15 429.45,339.00 430.04,340.87 430.65,342.79 431.25,344.74 431.84,346.64 432.41,348.40 432.97,350.02 433.51,351.53 434.03,352.93 434.54,354.23 435.02,355.40 435.47,356.45 435.92,357.41 436.41,358.34 436.91,359.21 437.43,360.01 437.98,360.78 438.55,361.56 439.15,362.33 439.76,363.08 440.43,363.84 441.18,364.64 442.06,365.48 443.04,366.35 444.04,367.24 444.98,368.13 445.81,369.01 446.59,369.91 447.36,370.80 448.15,371.68 448.98,372.54 449.82,373.38 450.68,374.21 451.57,375.05 452.52,375.90 453.52,376.74 454.52,377.60 455.48,378.46 456.36,379.35 457.20,380.25 458.04,381.15 458.90,382.04 459.80,382.91 460.71,383.78 461.64,384.63 462.56,385.46 463.45,386.27 464.32,387.06 465.22,387.82 466.22,388.55 467.35,389.22 468.56,389.84 469.82,390.45 471.11,391.08 472.38,391.70 473.67,392.32 475.02,392.96 476.48,393.68 478.07,394.50 479.78,395.40 481.54,396.33 483.32,397.25 485.17,398.17 487.10,399.12 488.97,400.04 490.64,400.88 492.05,401.58 493.27,402.20 494.40,402.79 495.53,403.41 496.64,404.08 497.69,404.77 498.77,405.46 499.92,406.15 501.24,406.86 502.67,407.59 504.07,408.29 505.30,408.89 506.30,409.44 507.16,409.96 507.94,410.34 508.71,410.47 509.49,410.15 510.24,409.50 510.94,408.89 511.57,408.69 512.07,409.00 512.47,409.64 512.88,410.49 513.41,411.43 514.08,412.46 514.84,413.65 515.68,414.92 516.60,416.22 517.61,417.51 518.72,418.83 519.88,420.22 521.08,421.70 522.34,423.36 523.68,425.16 525.01,426.94 526.25,428.55 527.35,429.94 528.37,431.20 529.37,432.36 530.40,433.48 531.50,434.58 532.63,435.63 533.74,436.60 534.79,437.45 535.76,438.19 536.67,438.82 537.56,439.36 538.46,439.85 539.37,440.28 540.29,440.65 541.20,440.96 542.12,441.22 543.09,441.44 544.10,441.61 545.04,441.74 545.78,441.84 546.29,441.91 546.62,441.95 546.84,441.96 547.00,441.98" fill="none" stroke="#000" stroke-width="1.25" stroke-linejoin="round" stroke-linecap="round" />
<polyline points="408.25,318.26 408.31,319.65 408.40,321.65 408.54,323.84 408.74,325.80 409.02,327.31 409.36,328.63 409.76,330.07 410.20,331.96 410.71,334.64 411.28,337.83 411.89,341.00 412.50,343.61 413.11,345.45 413.73,346.82 414.38,347.96 415.09,349.09 415.84,350.22 416.63,351.25 417.48,352.23 418.41,353.20 419.44,354.18 420.56,355.15 421.73,356.08 422.90,356.97 423.98,357.79 425.01,358.56 426.19,359.31 427.71,360.05 429.67,360.77 431.93,361.46 434.42,362.18 437.02,363.00 439.72,363.87 442.58,364.79 445.58,365.84 448.74,367.11 452.16,368.71 455.80,370.56 459.45,372.47 462.85,374.23 465.97,375.79 468.93,377.26 471.74,378.65 474.43,379.98 476.95,381.25 479.32,382.44 481.62,383.58 483.95,384.71 486.26,385.84 488.53,386.94 490.89,388.01 493.48,389.03 496.42,390.00 499.61,390.93 502.85,391.80 505.93,392.59 508.73,393.27 511.38,393.86 514.05,394.41 516.92,394.99 520.11,395.55 523.51,396.09 526.91,396.68 530.11,397.38 533.01,398.26 535.74,399.25 538.40,400.29 541.09,401.29 544.01,402.31 547.03,403.38 549.83,404.33 552.08,404.99 553.59,405.24 554.56,405.20 555.27,405.04 555.99,404.92 556.74,404.82 557.38,404.67 558.00,404.57 558.68,404.57 559.45,404.72 560.26,404.96 561.08,405.28 561.85,405.67 562.53,406.17 563.15,406.78 563.79,407.41 564.54,408.00 565.33,408.52 566.14,409.01 567.13,409.49 568.45,409.99 570.22,410.50 572.34,411.03 574.59,411.57 576.75,412.11 578.76,412.65 580.73,413.19 582.73,413.76 584.81,414.37 587.01,415.05 589.29,415.78 591.59,416.52 593.84,417.25 595.90,417.91 597.86,418.53 599.94,419.19 602.39,419.99 605.49,420.97 609.04,422.09 612.57,423.24 615.58,424.30 617.91,425.26 619.83,426.17 621.52,427.03 623.15,427.87 624.64,428.63 625.94,429.33 627.25,430.06 628.76,430.88 630.57,431.86 632.55,432.94 634.59,434.04 636.58,435.06 638.53,435.99 640.48,436.89 642.38,437.73 644.15,438.48 645.74,439.15 647.21,439.75 648.62,440.27 650.01,440.74 651.51,441.17 653.06,441.54 654.43,441.83 655.38,442.04" fill="none" stroke="#000" stroke-width="0.95" stroke-linejoin="round" stroke-linecap="round" />
<polyline points="408.25,442.25 408.27,441.76 408.29,441.05 408.33,440.26 408.38,439.51 408.44,438.80 408.51,438.08 408.61,437.38 408.75,436.77 408.92,436.26 409.13,435.83 409.38,435.44 409.65,435.06 409.95,434.71 410.28,434.39 410.64,434.07 411.05,433.69 411.51,433.25 412.01,432.77 412.55,432.23 413.16,431.63 413.86,430.95 414.64,430.20 415.44,429.39 416.20,428.55 416.91,427.70 417.60,426.84 418.28,425.88 418.95,424.78 419.60,423.48 420.25,422.02 420.87,420.49 421.47,418.96 422.04,417.44 422.59,415.90 423.11,414.34 423.63,412.80 424.12,411.25 424.60,409.71 425.06,408.17 425.53,406.63 426.01,405.09 426.48,403.55 426.95,402.01 427.43,400.47 427.91,398.94 428.40,397.43 428.90,395.89 429.44,394.30 430.02,392.64 430.63,390.92 431.27,389.18 431.92,387.45 432.61,385.67 433.33,383.85 434.04,382.12 434.68,380.60 435.23,379.39 435.71,378.40 436.17,377.48 436.64,376.49 437.14,375.41 437.64,374.32 438.15,373.19 438.65,372.04 439.08,370.86 439.45,369.65 439.93,368.40 440.64,367.11 441.65,365.69 442.87,364.19 444.23,362.73 445.66,361.42 447.18,360.31 448.83,359.34 450.50,358.44 452.08,357.58 453.53,356.76 454.90,355.99 456.27,355.27 457.73,354.57 459.20,353.92 460.67,353.33 462.31,352.74 464.27,352.10 466.82,351.38 469.79,350.61 472.74,349.87 475.20,349.23 476.98,348.74 478.34,348.37 479.53,348.01 480.78,347.58 482.14,347.08 483.49,346.54 484.79,345.96 486.00,345.32 487.07,344.63 488.04,343.88 488.97,343.08 489.93,342.24 490.94,341.35 491.95,340.40 492.97,339.42 493.99,338.40 495.00,337.38 496.01,336.34 497.02,335.23 498.03,334.02 499.04,332.69 500.05,331.26 501.05,329.76 502.03,328.20 502.97,326.57 503.88,324.88 504.80,323.13 505.74,321.35 506.72,319.51 507.73,317.62 508.74,315.71 509.74,313.81 510.71,311.93 511.67,310.04 512.62,308.16 513.58,306.28 514.55,304.39 515.53,302.51 516.50,300.64 517.48,298.81 518.46,297.04 519.44,295.31 520.42,293.60 521.39,291.89 522.34,290.19 523.29,288.50 524.23,286.81 525.17,285.11 526.12,283.37 527.07,281.59 528.01,279.85 528.93,278.19 529.88,276.56 530.84,274.93 531.70,273.49 532.36,272.37 532.74,271.68 532.91,271.32 532.98,271.14 533.04,271.00" fill="none" stroke="#000" stroke-width="1.25" stroke-linejoin="round" stroke-linecap="round" />
<polyline points="408.25,442.25 408.27,441.76 408.30,441.05 408.35,440.26 408.40,439.51 408.48,438.80 408.56,438.08 408.66,437.38 408.80,436.77 408.99,436.26 409.20,435.83 409.45,435.44 409.72,435.06 410.03,434.71 410.36,434.39 410.73,434.07 411.14,433.69 411.60,433.25 412.10,432.77 412.66,432.23 413.27,431.63 413.98,430.95 414.76,430.20 415.57,429.39 416.34,428.55 417.06,427.70 417.77,426.84 418.46,425.88 419.13,424.78 419.80,423.48 420.45,422.02 421.09,420.49 421.69,418.96 422.27,417.44 422.82,415.90 423.35,414.34 423.86,412.80 424.36,411.25 424.84,409.71 425.31,408.17 425.78,406.63 426.26,405.09 426.73,403.55 427.20,402.01 427.69,400.47 428.18,398.94 428.67,397.43 429.17,395.89 429.72,394.30 430.30,392.64 430.92,390.92 431.56,389.18 432.22,387.45 432.91,385.67 433.64,383.85 434.35,382.12 435.00,380.60 435.55,379.39 436.04,378.40 436.50,377.48 436.98,376.49 437.48,375.41 437.99,374.32 438.49,373.19 439.00,372.04 439.43,370.86 439.82,369.65 440.29,368.40 441.01,367.11 442.03,365.69 443.26,364.19 444.63,362.73 446.06,361.42 447.59,360.31 449.24,359.34 450.91,358.44 452.49,357.58 453.94,356.76 455.32,355.99 456.70,355.27 458.16,354.57 459.63,353.92 461.11,353.33 462.75,352.74 464.71,352.10 467.27,351.38 470.25,350.61 473.19,349.87 475.66,349.23 477.44,348.74 478.81,348.37 480.00,348.01 481.24,347.58 482.61,347.08 483.96,346.54 485.27,345.96 486.48,345.32 487.55,344.63 488.53,343.88 489.46,343.08 490.43,342.24 491.44,341.35 492.46,340.40 493.49,339.42 494.51,338.40 495.53,337.38 496.54,336.34 497.56,335.23 498.58,334.02 499.59,332.69 500.61,331.26 501.62,329.76 502.61,328.20 503.56,326.57 504.49,324.88 505.41,323.13 506.37,321.35 507.37,319.51 508.39,317.62 509.41,315.71 510.42,313.81 511.41,311.93 512.38,310.04 513.34,308.16 514.32,306.28 515.30,304.39 516.29,302.51 517.29,300.64 518.28,298.81 519.27,297.04 520.27,295.31 521.26,293.60 522.25,291.89 523.21,290.19 524.17,288.50 525.13,286.81 526.08,285.11 527.05,283.37 528.02,281.59 528.98,279.85 529.91,278.19 530.87,276.56 531.85,274.93 532.73,273.49 533.40,272.37 533.78,271.68 533.96,271.32 534.03,271.14 534.09,271.00" fill="none" stroke="#000" stroke-width="1.25" stroke-linejoin="round" stroke-linecap="round" />
<polyline points="408.25,442.25 408.28,441.76 408.31,441.05 408.37,440.26 408.43,439.51 408.51,438.80 408.60,438.08 408.71,437.38 408.86,436.77 409.05,436.26 409.27,435.83 409.52,435.44 409.80,435.06 410.10,434.71 410.44,434.39 410.81,434.07 411.23,433.69 411.70,433.25 412.20,432.77 412.76,432.23 413.38,431.63 414.10,430.95 414.89,430.20 415.70,429.39 416.48,428.55 417.22,427.70 417.93,426.84 418.63,425.88 419.32,424.78 420.00,423.48 420.66,422.02 421.31,420.49 421.92,418.96 422.50,417.44 423.05,415.90 423.58,414.34 424.10,412.80 424.60,411.25 425.08,409.71 425.55,408.17 426.03,406.63 426.50,405.09 426.98,403.55 427.46,402.01 427.95,400.47 428.44,398.94 428.93,397.43 429.44,395.89 429.99,394.30 430.58,392.64 431.20,390.92 431.85,389.18 432.51,387.45 433.21,385.67 433.95,383.85 434.67,382.12 435.32,380.60 435.87,379.39 436.36,378.40 436.83,377.48 437.31,376.49 437.82,375.41 438.33,374.32 438.84,373.19 439.35,372.04 439.79,370.86 440.18,369.65 440.66,368.40 441.38,367.11 442.40,365.69 443.64,364.19 445.02,362.73 446.45,361.42 447.99,360.31 449.64,359.34 451.32,358.44 452.91,357.58 454.36,356.76 455.74,355.99 457.13,355.27 458.59,354.57 460.07,353.92 461.54,353.33 463.19,352.74 465.16,352.10 467.71,351.38 470.70,350.61 473.65,349.87 476.11,349.23 477.90,348.74 479.27,348.37 480.46,348.01 481.71,347.58 483.08,347.08 484.44,346.54 485.74,345.96 486.96,345.32 488.04,344.63 489.01,343.88 489.95,343.08 490.93,342.24 491.94,341.35 492.97,340.40 494.00,339.42 495.03,338.40 496.05,337.38 497.08,336.34 498.10,335.23 499.12,334.02 500.15,332.69 501.17,331.26 502.19,329.76 503.19,328.20 504.15,326.57 505.09,324.88 506.03,323.13 507.00,321.35 508.01,319.51 509.04,317.62 510.08,315.71 511.10,313.81 512.10,311.93 513.09,310.04 514.07,308.16 515.06,306.28 516.06,304.39 517.06,302.51 518.07,300.64 519.08,298.81 520.09,297.04 521.10,295.31 522.11,293.60 523.10,291.89 524.09,290.19 525.06,288.50 526.03,286.81 527.00,285.11 527.98,283.37 528.97,281.59 529.94,279.85 530.89,278.19 531.87,276.56 532.86,274.93 533.76,273.49 534.43,272.37 534.82,271.68 535.01,271.32 535.08,271.14 535.14,271.00" fill="none" stroke="#000" stroke-width="1.25" stroke-linejoin="round" stroke-linecap="round" />
<polyline points="408.25,442.25 408.28,441.76 408.33,441.05 408.39,440.26 408.46,439.51 408.55,438.80 408.64,438.08 408.76,437.38 408.92,436.77 409.11,436.26 409.33,435.83 409.59,435.44 409.87,435.06 410.18,434.71 410.52,434.39 410.90,434.07 411.32,433.69 411.79,433.25 412.30,432.77 412.86,432.23 413.49,431.63 414.21,430.95 415.01,430.20 415.84,429.39 416.63,428.55 417.37,427.70 418.10,426.84 418.81,425.88 419.51,424.78 420.19,423.48 420.87,422.02 421.52,420.49 422.15,418.96 422.73,417.44 423.28,415.90 423.81,414.34 424.33,412.80 424.84,411.25 425.32,409.71 425.79,408.17 426.27,406.63 426.75,405.09 427.23,403.55 427.72,402.01 428.21,400.47 428.70,398.94 429.20,397.43 429.72,395.89 430.27,394.30 430.86,392.64 431.49,390.92 432.14,389.18 432.81,387.45 433.51,385.67 434.26,383.85 434.98,382.12 435.64,380.60 436.20,379.39 436.69,378.40 437.16,377.48 437.65,376.49 438.16,375.41 438.67,374.32 439.19,373.19 439.70,372.04 440.14,370.86 440.54,369.65 441.03,368.40 441.75,367.11 442.78,365.69 444.03,364.19 445.41,362.73 446.85,361.42 448.39,360.31 450.05,359.34 451.73,358.44 453.33,357.58 454.78,356.76 456.17,355.99 457.55,355.27 459.02,354.57 460.50,353.92 461.98,353.33 463.63,352.74 465.60,352.10 468.16,351.38 471.15,350.61 474.10,349.87 476.57,349.23 478.36,348.74 479.73,348.37 480.93,348.01 482.18,347.58 483.55,347.08 484.91,346.54 486.22,345.96 487.44,345.32 488.52,344.63 489.50,343.88 490.45,343.08 491.42,342.24 492.44,341.35 493.48,340.40 494.51,339.42 495.55,338.40 496.58,337.38 497.61,336.34 498.64,335.23 499.67,334.02 500.70,332.69 501.74,331.26 502.77,329.76 503.77,328.20 504.75,326.57 505.70,324.88 506.65,323.13 507.63,321.35 508.65,319.51 509.70,317.62 510.75,315.71 511.79,313.81 512.80,311.93 513.80,310.04 514.79,308.16 515.80,306.28 516.81,304.39 517.83,302.51 518.86,300.64 519.88,298.81 520.90,297.04 521.93,295.31 522.95,293.60 523.96,291.89 524.96,290.19 525.95,288.50 526.93,286.81 527.92,285.11 528.92,283.37 529.92,281.59 530.91,279.85 531.87,278.19 532.86,276.56 533.87,274.93 534.78,273.49 535.47,272.37 535.87,271.68 536.05,271.32 536.13,271.14 536.19,271.00" fill="none" stroke="#000" stroke-width="1.25" stroke-linejoin="round" stroke-linecap="round" />
<polyline points="408.25,442.25 408.29,441.76 408.34,441.05 408.41,440.26 408.49,439.51 408.58,438.80 408.68,438.08 408.81,437.38 408.97,436.77 409.17,436.26 409.40,435.83 409.66,435.44 409.95,435.06 410.26,434.71 410.60,434.39 410.98,434.07 411.41,433.69 411.88,433.25 412.40,432.77 412.97,432.23 413.60,431.63 414.33,430.95 415.14,430.20 415.97,429.39 416.77,428.55 417.52,427.70 418.26,426.84 418.99,425.88 419.69,424.78 420.39,423.48 421.08,422.02 421.74,420.49 422.37,418.96 422.96,417.44 423.52,415.90 424.05,414.34 424.57,412.80 425.07,411.25 425.56,409.71 426.04,408.17 426.52,406.63 427.00,405.09 427.49,403.55 427.97,402.01 428.47,400.47 428.97,398.94 429.47,397.43 429.99,395.89 430.54,394.30 431.14,392.64 431.77,390.92 432.43,389.18 433.10,387.45 433.82,385.67 434.56,383.85 435.29,382.12 435.96,380.60 436.52,379.39 437.02,378.40 437.49,377.48 437.98,376.49 438.50,375.41 439.01,374.32 439.53,373.19 440.05,372.04 440.50,370.86 440.90,369.65 441.39,368.40 442.12,367.11 443.16,365.69 444.41,364.19 445.80,362.73 447.25,361.42 448.79,360.31 450.46,359.34 452.14,358.44 453.74,357.58 455.20,356.76 456.59,355.99 457.98,355.27 459.45,354.57 460.93,353.92 462.42,353.33 464.07,352.74 466.04,352.10 468.61,351.38 471.60,350.61 474.56,349.87 477.03,349.23 478.82,348.74 480.19,348.37 481.39,348.01 482.64,347.58 484.02,347.08 485.38,346.54 486.70,345.96 487.92,345.32 489.00,344.63 489.99,343.88 490.94,343.08 491.92,342.24 492.94,341.35 493.98,340.40 495.03,339.42 496.07,338.40 497.10,337.38 498.14,336.34 499.18,335.23 500.21,334.02 501.25,332.69 502.30,331.26 503.34,329.76 504.36,328.20 505.34,326.57 506.30,324.88 507.26,323.13 508.26,321.35 509.29,319.51 510.35,317.62 511.42,315.71 512.47,313.81 513.50,311.93 514.51,310.04 515.52,308.16 516.54,306.28 517.57,304.39 518.60,302.51 519.64,300.64 520.68,298.81 521.72,297.04 522.76,295.31 523.79,293.60 524.82,291.89 525.83,290.19 526.83,288.50 527.83,286.81 528.84,285.11 529.85,283.37 530.87,281.59 531.87,279.85 532.85,278.19 533.86,276.56 534.89,274.93 535.81,273.49 536.51,272.37 536.91,271.68 537.10,271.32 537.17,271.14 537.24,271.00" fill="none" stroke="#000" stroke-width="1.25" stroke-linejoin="round" stroke-linecap="round" />
<polyline points="408.25,442.25 408.29,441.76 408.35,441.05 408.43,440.26 408.52,439.51 408.62,438.80 408.73,438.08 408.86,437.38 409.03,436.77 409.23,436.26 409.46,435.83 409.73,435.44 410.02,435.06 410.34,434.71 410.68,434.39 411.06,434.07 411.50,433.69 411.98,433.25 412.50,432.77 413.07,432.23 413.71,431.63 414.45,430.95 415.27,430.20 416.11,429.39 416.91,428.55 417.68,427.70 418.43,426.84 419.16,425.88 419.88,424.78 420.59,423.48 421.29,422.02 421.96,420.49 422.60,418.96 423.19,417.44 423.75,415.90 424.28,414.34 424.80,412.80 425.31,411.25 425.80,409.71 426.28,408.17 426.77,406.63 427.25,405.09 427.74,403.55 428.23,402.01 428.73,400.47 429.23,398.94 429.74,397.43 430.26,395.89 430.82,394.30 431.42,392.64 432.06,390.92 432.72,389.18 433.40,387.45 434.12,385.67 434.87,383.85 435.61,382.12 436.28,380.60 436.84,379.39 437.34,378.40 437.82,377.48 438.31,376.49 438.83,375.41 439.36,374.32 439.88,373.19 440.40,372.04 440.86,370.86 441.26,369.65 441.76,368.40 442.50,367.11 443.54,365.69 444.79,364.19 446.19,362.73 447.65,361.42 449.20,360.31 450.86,359.34 452.55,358.44 454.16,357.58 455.62,356.76 457.01,355.99 458.41,355.27 459.88,354.57 461.37,353.92 462.85,353.33 464.51,352.74 466.49,352.10 469.05,351.38 472.05,350.61 475.01,349.87 477.49,349.23 479.28,348.74 480.66,348.37 481.85,348.01 483.11,347.58 484.49,347.08 485.85,346.54 487.17,345.96 488.40,345.32 489.49,344.63 490.47,343.88 491.43,343.08 492.41,342.24 493.45,341.35 494.49,340.40 495.54,339.42 496.58,338.40 497.63,337.38 498.67,336.34 499.71,335.23 500.76,334.02 501.81,332.69 502.86,331.26 503.91,329.76 504.94,328.20 505.93,326.57 506.91,324.88 507.88,323.13 508.88,321.35 509.93,319.51 511.01,317.62 512.09,315.71 513.15,313.81 514.19,311.93 515.22,310.04 516.24,308.16 517.28,306.28 518.32,304.39 519.37,302.51 520.43,300.64 521.48,298.81 522.53,297.04 523.58,295.31 524.63,293.60 525.68,291.89 526.70,290.19 527.72,288.50 528.74,286.81 529.75,285.11 530.78,283.37 531.82,281.59 532.84,279.85 533.83,278.19 534.86,276.56 535.90,274.93 536.83,273.49 537.54,272.37 537.95,271.68 538.15,271.32 538.22,271.14 538.29,271.00" fill="none" stroke="#000" stroke-width="1.25" stroke-linejoin="round" stroke-linecap="round" />
<polyline points="408.25,442.25 408.30,441.76 408.36,441.05 408.45,440.26 408.55,439.51 408.65,438.80 408.77,438.08 408.91,437.38 409.08,436.77 409.29,436.26 409.53,435.83 409.80,435.44 410.09,435.06 410.42,434.71 410.76,434.39 411.15,434.07 411.58,433.69 412.07,433.25 412.59,432.77 413.18,432.23 413.82,431.63 414.57,430.95 415.39,430.20 416.24,429.39 417.06,428.55 417.83,427.70 418.59,426.84 419.34,425.88 420.06,424.78 420.78,423.48 421.49,422.02 422.18,420.49 422.82,418.96 423.42,417.44 423.98,415.90 424.51,414.34 425.04,412.80 425.55,411.25 426.04,409.71 426.52,408.17 427.01,406.63 427.50,405.09 427.99,403.55 428.49,402.01 428.99,400.47 429.50,398.94 430.00,397.43 430.53,395.89 431.09,394.30 431.70,392.64 432.35,390.92 433.01,389.18 433.70,387.45 434.42,385.67 435.18,383.85 435.92,382.12 436.59,380.60 437.17,379.39 437.67,378.40 438.15,377.48 438.65,376.49 439.17,375.41 439.70,374.32 440.23,373.19 440.76,372.04 441.21,370.86 441.62,369.65 442.12,368.40 442.87,367.11 443.91,365.69 445.18,364.19 446.58,362.73 448.04,361.42 449.60,360.31 451.27,359.34 452.96,358.44 454.57,357.58 456.04,356.76 457.44,355.99 458.83,355.27 460.31,354.57 461.80,353.92 463.29,353.33 464.94,352.74 466.93,352.10 469.50,351.38 472.50,350.61 475.47,349.87 477.94,349.23 479.74,348.74 481.12,348.37 482.32,348.01 483.58,347.58 484.96,347.08 486.33,346.54 487.65,345.96 488.87,345.32 489.97,344.63 490.96,343.88 491.92,343.08 492.91,342.24 493.95,341.35 495.00,340.40 496.05,339.42 497.10,338.40 498.15,337.38 499.20,336.34 500.25,335.23 501.30,334.02 502.36,332.69 503.43,331.26 504.48,329.76 505.52,328.20 506.53,326.57 507.51,324.88 508.50,323.13 509.51,321.35 510.57,319.51 511.66,317.62 512.76,315.71 513.83,313.81 514.89,311.93 515.93,310.04 516.97,308.16 518.02,306.28 519.08,304.39 520.14,302.51 521.21,300.64 522.28,298.81 523.34,297.04 524.41,295.31 525.48,293.60 526.53,291.89 527.58,290.19 528.61,288.50 529.64,286.81 530.67,285.11 531.72,283.37 532.77,281.59 533.81,279.85 534.82,278.19 535.85,276.56 536.91,274.93 537.86,273.49 538.58,272.37 539.00,271.68 539.19,271.32 539.27,271.14 539.34,271.00" fill="none" stroke="#000" stroke-width="1.25" stroke-linejoin="round" stroke-linecap="round" />
<polyline points="408.25,442.25 408.30,441.76 408.38,441.05 408.47,440.26 408.57,439.51 408.69,438.80 408.81,438.08 408.96,437.38 409.14,436.77 409.35,436.26 409.60,435.83 409.87,435.44 410.17,435.06 410.49,434.71 410.84,434.39 411.23,434.07 411.67,433.69 412.16,433.25 412.69,432.77 413.28,432.23 413.93,431.63 414.68,430.95 415.52,430.20 416.38,429.39 417.20,428.55 417.98,427.70 418.76,426.84 419.51,425.88 420.25,424.78 420.98,423.48 421.70,422.02 422.40,420.49 423.05,418.96 423.65,417.44 424.21,415.90 424.75,414.34 425.27,412.80 425.79,411.25 426.28,409.71 426.77,408.17 427.26,406.63 427.75,405.09 428.25,403.55 428.74,402.01 429.25,400.47 429.76,398.94 430.27,397.43 430.80,395.89 431.37,394.30 431.98,392.64 432.63,390.92 433.30,389.18 433.99,387.45 434.72,385.67 435.49,383.85 436.24,382.12 436.91,380.60 437.49,379.39 438.00,378.40 438.48,377.48 438.98,376.49 439.51,375.41 440.04,374.32 440.57,373.19 441.11,372.04 441.57,370.86 441.98,369.65 442.49,368.40 443.24,367.11 444.29,365.69 445.56,364.19 446.97,362.73 448.44,361.42 450.00,360.31 451.68,359.34 453.37,358.44 454.99,357.58 456.46,356.76 457.86,355.99 459.26,355.27 460.74,354.57 462.24,353.92 463.73,353.33 465.38,352.74 467.37,352.10 469.95,351.38 472.95,350.61 475.92,349.87 478.40,349.23 480.20,348.74 481.58,348.37 482.78,348.01 484.04,347.58 485.42,347.08 486.80,346.54 488.12,345.96 489.35,345.32 490.45,344.63 491.45,343.88 492.41,343.08 493.41,342.24 494.45,341.35 495.50,340.40 496.56,339.42 497.62,338.40 498.68,337.38 499.73,336.34 500.79,335.23 501.85,334.02 502.92,332.69 503.99,331.26 505.06,329.76 506.10,328.20 507.12,326.57 508.12,324.88 509.11,323.13 510.14,321.35 511.21,319.51 512.32,317.62 513.42,315.71 514.52,313.81 515.58,311.93 516.64,310.04 517.69,308.16 518.76,306.28 519.83,304.39 520.91,302.51 521.99,300.64 523.08,298.81 524.16,297.04 525.24,295.31 526.32,293.60 527.39,291.89 528.45,290.19 529.50,288.50 530.54,286.81 531.59,285.11 532.65,283.37 533.72,281.59 534.77,279.85 535.80,278.19 536.85,276.56 537.92,274.93 538.88,273.49 539.62,272.37 540.04,271.68 540.24,271.32 540.32,271.14 540.39,271.00" fill="none" stroke="#000" stroke-width="1.25" stroke-linejoin="round" stroke-linecap="round" />
<polyline points="408.25,442.25 408.31,441.76 408.39,441.05 408.49,440.26 408.60,439.51 408.72,438.80 408.86,438.08 409.01,437.38 409.20,436.77 409.42,436.26 409.66,435.83 409.94,435.44 410.24,435.06 410.57,434.71 410.92,434.39 411.32,434.07 411.76,433.69 412.25,433.25 412.79,432.77 413.38,432.23 414.04,431.63 414.80,430.95 415.64,430.20 416.51,429.39 417.34,428.55 418.14,427.70 418.92,426.84 419.69,425.88 420.44,424.78 421.18,423.48 421.91,422.02 422.61,420.49 423.27,418.96 423.88,417.44 424.44,415.90 424.98,414.34 425.51,412.80 426.02,411.25 426.52,409.71 427.01,408.17 427.50,406.63 428.00,405.09 428.50,403.55 429.00,402.01 429.51,400.47 430.02,398.94 430.54,397.43 431.07,395.89 431.65,394.30 432.26,392.64 432.92,390.92 433.59,389.18 434.29,387.45 435.02,385.67 435.79,383.85 436.55,382.12 437.23,380.60 437.81,379.39 438.32,378.40 438.81,377.48 439.32,376.49 439.85,375.41 440.38,374.32 440.92,373.19 441.46,372.04 441.92,370.86 442.34,369.65 442.86,368.40 443.61,367.11 444.67,365.69 445.95,364.19 447.36,362.73 448.84,361.42 450.40,360.31 452.09,359.34 453.78,358.44 455.40,357.58 456.88,356.76 458.28,355.99 459.69,355.27 461.17,354.57 462.67,353.92 464.16,353.33 465.82,352.74 467.81,352.10 470.39,351.38 473.40,350.61 476.38,349.87 478.86,349.23 480.66,348.74 482.04,348.37 483.25,348.01 484.51,347.58 485.89,347.08 487.27,346.54 488.60,345.96 489.83,345.32 490.93,344.63 491.94,343.88 492.90,343.08 493.90,342.24 494.95,341.35 496.01,340.40 497.08,339.42 498.14,338.40 499.20,337.38 500.26,336.34 501.33,335.23 502.39,334.02 503.47,332.69 504.55,331.26 505.63,329.76 506.69,328.20 507.71,326.57 508.72,324.88 509.73,323.13 510.77,321.35 511.86,319.51 512.97,317.62 514.09,315.71 515.20,313.81 516.28,311.93 517.35,310.04 518.42,308.16 519.50,306.28 520.58,304.39 521.68,302.51 522.78,300.64 523.87,298.81 524.97,297.04 526.07,295.31 527.16,293.60 528.25,291.89 529.32,290.19 530.38,288.50 531.44,286.81 532.51,285.11 533.58,283.37 534.67,281.59 535.74,279.85 536.78,278.19 537.85,276.56 538.93,274.93 539.91,273.49 540.65,272.37 541.08,271.68 541.29,271.32 541.37,271.14 541.44,271.00" fill="none" stroke="#000" stroke-width="1.25" stroke-linejoin="round" stroke-linecap="round" />
<polyline points="408.25,442.25 408.42,441.76 408.67,441.05 408.96,440.26 409.27,439.51 409.58,438.80 409.92,438.08 410.28,437.38 410.65,436.77 411.03,436.26 411.41,435.83 411.82,435.44 412.25,435.06 412.70,434.71 413.16,434.39 413.66,434.07 414.24,433.69 414.89,433.25 415.59,432.77 416.38,432.23 417.26,431.63 418.28,430.95 419.42,430.20 420.60,429.39 421.75,428.55 422.91,427.70 424.10,426.84 425.23,425.88 426.25,424.78 427.13,423.48 427.90,422.02 428.61,420.49 429.29,418.96 429.94,417.44 430.55,415.90 431.13,414.34 431.69,412.80 432.21,411.25 432.70,409.71 433.18,408.17 433.65,406.63 434.10,405.09 434.54,403.55 434.98,402.01 435.41,400.47 435.83,398.94 436.25,397.43 436.67,395.89 437.10,394.30 437.57,392.64 438.04,390.92 438.53,389.18 439.02,387.45 439.52,385.67 440.03,383.85 440.53,382.12 440.98,380.60 441.37,379.39 441.71,378.40 442.04,377.48 442.36,376.49 442.69,375.41 443.02,374.32 443.33,373.19 443.63,372.04 443.83,370.86 443.95,369.65 444.18,368.40 444.70,367.11 445.58,365.69 446.71,364.19 448.03,362.73 449.49,361.42 451.17,360.31 453.07,359.34 455.01,358.44 456.83,357.58 458.46,356.76 460.00,355.99 461.53,355.27 463.16,354.57 464.81,353.92 466.46,353.33 468.30,352.74 470.51,352.10 473.38,351.38 476.72,350.61 480.04,349.87 482.81,349.23 484.82,348.74 486.37,348.37 487.73,348.01 489.17,347.58 490.78,347.08 492.40,346.54 493.99,345.96 495.47,345.32 496.85,344.63 498.15,343.88 499.38,343.08 500.55,342.24 501.64,341.35 502.64,340.40 503.62,339.42 504.61,338.40 505.62,337.38 506.64,336.34 507.65,335.23 508.66,334.02 509.67,332.69 510.68,331.26 511.68,329.76 512.66,328.20 513.61,326.57 514.52,324.88 515.44,323.13 516.39,321.35 517.37,319.51 518.38,317.62 519.40,315.71 520.40,313.81 521.37,311.93 522.33,310.04 523.29,308.16 524.25,306.28 525.23,304.39 526.20,302.51 527.19,300.64 528.17,298.81 529.15,297.04 530.13,295.31 531.12,293.60 532.09,291.89 533.05,290.19 533.99,288.50 534.94,286.81 535.88,285.11 536.83,283.37 537.79,281.59 538.74,279.85 539.66,278.19 540.61,276.56 541.57,274.93 542.44,273.49 543.10,272.37 543.48,271.68 543.66,271.32 543.72,271.14 543.78,271.00" fill="none" stroke="#000" stroke-width="0.95" stroke-linejoin="round" stroke-linecap="round" />
<polyline points="408.25,442.25 408.45,441.76 408.74,441.05 409.07,440.26 409.42,439.51 409.78,438.80 410.17,438.08 410.58,437.38 410.99,436.77 411.40,436.26 411.82,435.83 412.26,435.44 412.72,435.06 413.19,434.71 413.67,434.39 414.20,434.07 414.81,433.69 415.49,433.25 416.24,432.77 417.07,432.23 418.00,431.63 419.08,430.95 420.28,430.20 421.53,429.39 422.76,428.55 424.00,427.70 425.27,426.84 426.50,425.88 427.58,424.78 428.50,423.48 429.29,422.02 430.00,420.49 430.69,418.96 431.36,417.44 431.99,415.90 432.58,414.34 433.14,412.80 433.67,411.25 434.17,409.71 434.64,408.17 435.11,406.63 435.56,405.09 436.00,403.55 436.43,402.01 436.85,400.47 437.26,398.94 437.66,397.43 438.06,395.89 438.48,394.30 438.92,392.64 439.37,390.92 439.82,389.18 440.28,387.45 440.74,385.67 441.21,383.85 441.67,382.12 442.08,380.60 442.44,379.39 442.75,378.40 443.05,377.48 443.34,376.49 443.64,375.41 443.93,374.32 444.21,373.19 444.47,372.04 444.61,370.86 444.68,369.65 444.86,368.40 445.35,367.11 446.22,365.69 447.36,364.19 448.71,362.73 450.22,361.42 451.98,360.31 453.98,359.34 456.04,358.44 457.97,357.58 459.68,356.76 461.29,355.99 462.90,355.27 464.61,354.57 466.33,353.92 468.06,353.33 469.97,352.74 472.27,352.10 475.24,351.38 478.71,350.61 482.14,349.87 485.01,349.23 487.09,348.74 488.70,348.37 490.11,348.01 491.63,347.58 493.32,347.08 495.03,346.54 496.70,345.96 498.28,345.32 499.76,344.63 501.16,343.88 502.49,343.08 503.72,342.24 504.84,341.35 505.84,340.40 506.80,339.42 507.79,338.40 508.80,337.38 509.81,336.34 510.82,335.23 511.83,334.02 512.84,332.69 513.85,331.26 514.86,329.76 515.84,328.20 516.78,326.57 517.70,324.88 518.62,323.13 519.56,321.35 520.55,319.51 521.56,317.62 522.57,315.71 523.57,313.81 524.55,311.93 525.51,310.04 526.46,308.16 527.43,306.28 528.40,304.39 529.38,302.51 530.36,300.64 531.34,298.81 532.32,297.04 533.31,295.31 534.29,293.60 535.26,291.89 536.22,290.19 537.17,288.50 538.11,286.81 539.06,285.11 540.01,283.37 540.97,281.59 541.91,279.85 542.83,278.19 543.78,276.56 544.75,274.93 545.62,273.49 546.28,272.37 546.66,271.68 546.83,271.32 546.90,271.14 546.96,271.00" fill="none" stroke="#000" stroke-width="0.95" stroke-linejoin="round" stroke-linecap="round" />
<text x="540.50" y="438.00" font-family='"Liberation Serif", "Times New Roman", serif' font-size="12" font-weight="bold" fill="#111" textLength="68.50" lengthAdjust="spacingAndGlyphs" >@ 10 μA.cm</text>
<text x="609.80" y="431.80" font-family='"Liberation Sans", Arial, sans-serif' font-size="10" font-weight="bold" fill="#111" textLength="10.00" lengthAdjust="spacingAndGlyphs" >-2</text>
<text x="491.00" y="451.70" font-family='"Liberation Serif", "Times New Roman", serif' font-size="9" font-weight="bold" fill="#111" textLength="10.90" lengthAdjust="spacingAndGlyphs" >10</text>
<text x="502.30" y="447.30" font-family='"Liberation Serif", "Times New Roman", serif' font-size="8.5" font-weight="bold" fill="#111" textLength="9.40" lengthAdjust="spacingAndGlyphs" >th</text>
<text x="546.60" y="454.40" font-family='"Liberation Serif", "Times New Roman", serif' font-size="11.5" font-weight="bold" fill="#111" >1</text>
<line x1="524.50" y1="450.70" x2="537.40" y2="450.70" stroke="#000" stroke-width="1.6" />
<polygon points="519.2,450.7 525.8,448.3 525.8,453.1" fill="#000"/>
<path d="M73.25,691.33 L76.05,696.20 L70.45,696.20ZM73.38,689.58 L76.18,694.45 L70.58,694.45ZM73.60,687.85 L76.40,692.72 L70.80,692.72ZM74.13,685.92 L76.93,690.79 L71.33,690.79ZM74.99,684.12 L77.79,689.00 L72.19,689.00ZM76.66,682.28 L79.46,687.16 L73.86,687.16ZM79.70,680.55 L82.50,685.42 L76.90,685.42ZM83.57,678.81 L86.37,683.68 L80.77,683.68ZM86.63,677.10 L89.43,681.97 L83.83,681.97ZM89.30,675.26 L92.10,680.13 L86.50,680.13ZM91.38,673.46 L94.18,678.33 L88.58,678.33ZM93.06,671.61 L95.86,676.48 L90.26,676.48ZM94.27,669.72 L97.07,674.59 L91.47,674.59ZM95.50,667.83 L98.30,672.70 L92.70,672.70ZM96.73,665.95 L99.53,670.82 L93.93,670.82ZM98.04,664.12 L100.84,668.99 L95.24,668.99ZM99.45,662.36 L102.25,667.24 L96.65,667.24ZM100.89,660.64 L103.69,665.51 L98.09,665.51ZM102.36,658.94 L105.16,663.81 L99.56,663.81ZM103.78,657.18 L106.58,662.06 L100.98,662.06ZM105.05,655.33 L107.85,660.20 L102.25,660.20ZM106.27,653.44 L109.07,658.31 L103.47,658.31ZM107.48,651.55 L110.28,656.42 L104.68,656.42ZM108.70,649.65 L111.50,654.53 L105.90,654.53ZM109.91,647.76 L112.71,652.63 L107.11,652.63ZM111.13,645.87 L113.93,650.74 L108.33,650.74ZM112.37,643.99 L115.17,648.86 L109.57,648.86ZM113.60,642.11 L116.40,646.98 L110.80,646.98ZM114.79,640.19 L117.59,645.07 L111.99,645.07ZM115.79,638.46 L118.59,643.33 L112.99,643.33ZM116.74,636.70 L119.54,641.58 L113.94,641.58ZM117.68,634.94 L120.48,639.81 L114.88,639.81ZM118.58,633.15 L121.38,638.02 L115.78,638.02ZM119.42,631.34 L122.22,636.21 L116.62,636.21ZM120.16,629.48 L122.96,634.35 L117.36,634.35ZM120.84,627.60 L123.64,632.47 L118.04,632.47ZM121.52,625.72 L124.32,630.59 L118.72,630.59ZM122.24,623.85 L125.04,628.72 L119.44,628.72ZM122.98,621.99 L125.78,626.86 L120.18,626.86ZM123.79,620.16 L126.59,625.04 L120.99,625.04ZM124.71,618.39 L127.51,623.26 L121.91,623.26ZM125.74,616.67 L128.54,621.55 L122.94,621.55ZM127.05,614.85 L129.85,619.72 L124.25,619.72ZM128.71,612.98 L131.51,617.85 L125.91,617.85ZM130.75,611.14 L133.55,616.01 L127.95,616.01ZM133.19,609.40 L135.99,614.27 L130.39,614.27ZM136.19,607.60 L138.99,612.47 L133.39,612.47ZM139.79,605.86 L142.59,610.73 L136.99,610.73ZM144.20,604.09 L147.00,608.96 L141.40,608.96ZM149.42,602.38 L152.22,607.25 L146.62,607.25ZM155.97,600.76 L158.77,605.64 L153.17,605.64ZM162.59,599.43 L165.39,604.31 L159.79,604.31ZM169.23,598.19 L172.03,603.06 L166.43,603.06ZM175.85,596.90 L178.65,601.77 L173.05,601.77ZM182.47,595.58 L185.27,600.46 L179.67,600.46ZM189.09,594.27 L191.89,599.14 L186.29,599.14ZM195.71,592.93 L198.51,597.80 L192.91,597.80ZM202.32,591.55 L205.12,596.42 L199.52,596.42ZM208.90,590.07 L211.70,594.94 L206.10,594.94ZM213.84,588.31 L216.64,593.18 L211.04,593.18ZM217.43,586.55 L220.23,591.42 L214.63,591.42ZM220.73,584.77 L223.53,589.64 L217.93,589.64ZM223.79,583.07 L226.59,587.94 L220.99,587.94ZM226.82,581.31 L229.62,586.18 L224.02,586.18ZM229.58,579.60 L232.38,584.47 L226.78,584.47ZM232.32,577.85 L235.12,582.72 L229.52,582.72ZM235.02,576.04 L237.82,580.91 L232.22,580.91ZM237.46,574.30 L240.26,579.17 L234.66,579.17ZM239.83,572.46 L242.63,577.33 L237.03,577.33ZM241.95,570.71 L244.75,575.58 L239.15,575.58ZM244.04,568.92 L246.84,573.79 L241.24,573.79ZM246.13,567.14 L248.93,572.01 L243.33,572.01ZM248.19,565.32 L250.99,570.19 L245.39,570.19ZM250.01,563.60 L252.81,568.47 L247.21,568.47ZM251.77,561.82 L254.57,566.69 L248.97,566.69ZM253.49,560.02 L256.29,564.89 L250.69,564.89ZM255.20,558.19 L258.00,563.06 L252.40,563.06ZM256.90,556.35 L259.70,561.23 L254.10,561.23ZM258.59,554.51 L261.39,559.38 L255.79,559.38ZM260.27,552.66 L263.07,557.54 L257.47,557.54ZM261.95,550.81 L264.75,555.68 L259.15,555.68ZM263.61,548.94 L266.41,553.81 L260.81,553.81ZM265.26,547.07 L268.06,551.94 L262.46,551.94ZM266.90,545.18 L269.70,550.05 L264.10,550.05ZM268.36,543.46 L271.16,548.34 L265.56,548.34ZM269.80,541.73 L272.60,546.60 L267.00,546.60ZM271.22,539.99 L274.02,544.86 L268.42,544.86ZM272.63,538.23 L275.43,543.11 L269.83,543.11ZM274.04,536.48 L276.84,541.35 L271.24,541.35ZM275.46,534.74 L278.26,539.61 L272.66,539.61ZM276.91,533.01 L279.71,537.89 L274.11,537.89ZM278.36,531.30 L281.16,536.17 L275.56,536.17ZM279.83,529.59 L282.63,534.47 L277.03,534.47ZM281.48,527.71 L284.28,532.59 L278.68,532.59ZM283.15,525.85 L285.95,530.73 L280.35,530.73ZM284.85,524.02 L287.65,528.90 L282.05,528.90ZM286.59,522.23 L289.39,527.10 L283.79,527.10ZM288.39,520.50 L291.19,525.37 L285.59,525.37ZM290.78,518.70 L293.58,523.57 L287.98,523.57ZM295.46,516.97 L298.26,521.84 L292.66,521.84ZM295.94,516.83 L298.74,521.70 L293.14,521.70Z" fill="#fff" stroke="#000" stroke-width="0.55"/>
<path d="M73.25,514.52 L76.05,519.40 L70.45,519.40ZM73.31,516.27 L76.11,521.14 L70.51,521.14ZM73.36,518.02 L76.16,522.89 L70.56,522.89ZM73.44,519.77 L76.24,524.64 L70.64,524.64ZM73.54,521.52 L76.34,526.39 L70.74,526.39ZM73.66,523.26 L76.46,528.13 L70.86,528.13ZM73.80,525.01 L76.60,529.88 L71.00,529.88ZM73.98,526.75 L76.78,531.62 L71.18,531.62ZM74.18,528.49 L76.98,533.36 L71.38,533.36ZM74.43,530.22 L77.23,535.09 L71.63,535.09ZM74.71,531.95 L77.51,536.82 L71.91,536.82ZM75.04,533.66 L77.84,538.54 L72.24,538.54ZM75.55,535.60 L78.35,540.47 L72.75,540.47ZM76.22,537.48 L79.02,542.35 L73.42,542.35ZM76.99,539.33 L79.79,544.20 L74.19,544.20ZM77.85,541.13 L80.65,546.00 L75.05,546.00ZM78.85,542.86 L81.65,547.73 L76.05,547.73ZM80.12,544.72 L82.92,549.60 L77.32,549.60ZM81.46,546.53 L84.26,551.40 L78.66,551.40ZM82.71,548.39 L85.51,553.27 L79.91,553.27ZM83.77,550.10 L86.57,554.97 L80.97,554.97ZM84.80,551.81 L87.60,556.68 L82.00,556.68ZM85.84,553.52 L88.64,558.39 L83.04,558.39ZM86.88,555.22 L89.68,560.09 L84.08,560.09ZM88.09,557.12 L90.89,562.00 L85.29,562.00ZM89.32,559.00 L92.12,563.88 L86.52,563.88ZM90.57,560.87 L93.37,565.75 L87.77,565.75ZM91.82,562.74 L94.62,567.62 L89.02,567.62ZM93.05,564.63 L95.85,569.50 L90.25,569.50ZM94.25,566.53 L97.05,571.41 L91.45,571.41ZM95.30,568.23 L98.10,573.11 L92.50,573.11ZM96.50,570.14 L99.30,575.01 L93.70,575.01ZM97.76,572.00 L100.56,576.87 L94.96,576.87ZM99.05,573.85 L101.85,578.72 L96.25,578.72ZM100.31,575.71 L103.11,580.58 L97.51,580.58ZM101.50,577.62 L104.30,582.49 L98.70,582.49ZM102.49,579.36 L105.29,584.23 L99.69,584.23ZM103.45,581.11 L106.25,585.98 L100.65,585.98ZM104.43,582.86 L107.23,587.73 L101.63,587.73ZM105.42,584.59 L108.22,589.46 L102.62,589.46ZM106.44,586.31 L109.24,591.18 L103.64,591.18ZM107.47,588.03 L110.27,592.90 L104.67,592.90ZM108.51,589.74 L111.31,594.61 L105.71,594.61ZM109.56,591.44 L112.36,596.31 L106.76,596.31ZM110.76,593.34 L113.56,598.21 L107.96,598.21ZM111.98,595.23 L114.78,600.11 L109.18,600.11ZM113.22,597.11 L116.02,601.98 L110.42,601.98ZM114.49,598.97 L117.29,603.84 L111.69,603.84ZM115.78,600.81 L118.58,605.68 L112.98,605.68ZM117.11,602.62 L119.91,607.50 L114.31,607.50ZM118.48,604.41 L121.28,609.28 L115.68,609.28ZM119.90,606.15 L122.70,611.02 L117.10,611.02ZM121.57,608.01 L124.37,612.88 L118.77,612.88ZM123.35,609.77 L126.15,614.64 L120.55,614.64ZM125.46,611.54 L128.26,616.41 L122.66,616.41ZM127.86,613.34 L130.66,618.21 L125.06,618.21ZM130.56,615.14 L133.36,620.01 L127.76,620.01ZM133.85,616.94 L136.65,621.81 L131.05,621.81ZM137.71,618.71 L140.51,623.58 L134.91,623.58ZM142.14,620.41 L144.94,625.28 L139.34,625.28ZM147.36,622.16 L150.16,627.03 L144.56,627.03ZM152.57,623.91 L155.37,628.79 L149.77,628.79ZM157.26,625.64 L160.06,630.52 L154.46,630.52ZM161.69,627.36 L164.49,632.23 L158.89,632.23ZM166.38,629.08 L169.18,633.95 L163.58,633.95ZM171.07,630.82 L173.87,635.70 L168.27,635.70ZM175.48,632.60 L178.28,637.47 L172.68,637.47ZM179.63,634.32 L182.43,639.19 L176.83,639.19ZM184.05,636.08 L186.85,640.95 L181.25,640.95ZM188.73,637.83 L191.53,642.70 L185.93,642.70ZM193.43,639.53 L196.23,644.40 L190.63,644.40ZM198.37,641.31 L201.17,646.18 L195.57,646.18ZM203.58,643.09 L206.38,647.96 L200.78,647.96ZM208.80,644.79 L211.60,649.66 L206.00,649.66ZM214.56,646.49 L217.36,651.37 L211.76,651.37ZM221.08,648.24 L223.88,653.11 L218.28,653.11ZM227.66,649.75 L230.46,654.62 L224.86,654.62ZM234.25,651.18 L237.05,656.05 L231.45,656.05ZM238.56,653.02 L241.36,657.89 L235.76,657.89ZM240.66,654.79 L243.46,659.66 L237.86,659.66ZM242.75,656.58 L245.55,661.45 L239.95,661.45ZM244.90,658.29 L247.70,663.16 L242.10,663.16ZM247.27,660.13 L250.07,665.00 L244.47,665.00ZM249.67,661.94 L252.47,666.81 L246.87,666.81ZM252.11,663.68 L254.91,668.55 L249.31,668.55ZM254.57,665.39 L257.37,670.26 L251.77,670.26ZM257.02,667.12 L259.82,671.99 L254.22,671.99ZM259.45,668.88 L262.25,673.75 L256.65,673.75ZM261.87,670.66 L264.67,675.53 L259.07,675.53ZM264.28,672.44 L267.08,677.31 L261.48,677.31ZM266.70,674.21 L269.50,679.08 L263.90,679.08ZM269.13,675.97 L271.93,680.84 L266.33,680.84ZM271.57,677.72 L274.37,682.59 L268.77,682.59ZM274.02,679.46 L276.82,684.33 L271.22,684.33ZM276.48,681.17 L279.28,686.05 L273.68,686.05ZM279.18,682.98 L281.98,687.85 L276.38,687.85ZM281.94,684.69 L284.74,689.56 L279.14,689.56ZM285.26,686.44 L288.06,691.31 L282.46,691.31ZM289.39,688.22 L292.19,693.09 L286.59,693.09ZM294.37,689.86 L297.17,694.73 L291.57,694.73Z" fill="#fff" stroke="#000" stroke-width="0.55"/>
<path d="M71.05,694.25a2.2,2.2 0 1,0 4.4,0a2.2,2.2 0 1,0 -4.4,0M71.28,692.52a2.2,2.2 0 1,0 4.4,0a2.2,2.2 0 1,0 -4.4,0M71.61,690.80a2.2,2.2 0 1,0 4.4,0a2.2,2.2 0 1,0 -4.4,0M72.25,688.91a2.2,2.2 0 1,0 4.4,0a2.2,2.2 0 1,0 -4.4,0M73.20,687.15a2.2,2.2 0 1,0 4.4,0a2.2,2.2 0 1,0 -4.4,0M74.93,685.36a2.2,2.2 0 1,0 4.4,0a2.2,2.2 0 1,0 -4.4,0M77.97,683.65a2.2,2.2 0 1,0 4.4,0a2.2,2.2 0 1,0 -4.4,0M82.11,681.89a2.2,2.2 0 1,0 4.4,0a2.2,2.2 0 1,0 -4.4,0M85.44,680.15a2.2,2.2 0 1,0 4.4,0a2.2,2.2 0 1,0 -4.4,0M88.16,678.39a2.2,2.2 0 1,0 4.4,0a2.2,2.2 0 1,0 -4.4,0M90.29,676.65a2.2,2.2 0 1,0 4.4,0a2.2,2.2 0 1,0 -4.4,0M92.03,674.86a2.2,2.2 0 1,0 4.4,0a2.2,2.2 0 1,0 -4.4,0M93.32,673.02a2.2,2.2 0 1,0 4.4,0a2.2,2.2 0 1,0 -4.4,0M94.56,671.14a2.2,2.2 0 1,0 4.4,0a2.2,2.2 0 1,0 -4.4,0M95.82,669.28a2.2,2.2 0 1,0 4.4,0a2.2,2.2 0 1,0 -4.4,0M97.13,667.45a2.2,2.2 0 1,0 4.4,0a2.2,2.2 0 1,0 -4.4,0M98.54,665.70a2.2,2.2 0 1,0 4.4,0a2.2,2.2 0 1,0 -4.4,0M100.00,663.99a2.2,2.2 0 1,0 4.4,0a2.2,2.2 0 1,0 -4.4,0M101.67,662.12a2.2,2.2 0 1,0 4.4,0a2.2,2.2 0 1,0 -4.4,0M103.12,660.40a2.2,2.2 0 1,0 4.4,0a2.2,2.2 0 1,0 -4.4,0M104.44,658.58a2.2,2.2 0 1,0 4.4,0a2.2,2.2 0 1,0 -4.4,0M105.69,656.71a2.2,2.2 0 1,0 4.4,0a2.2,2.2 0 1,0 -4.4,0M106.93,654.83a2.2,2.2 0 1,0 4.4,0a2.2,2.2 0 1,0 -4.4,0M108.17,652.96a2.2,2.2 0 1,0 4.4,0a2.2,2.2 0 1,0 -4.4,0M109.41,651.08a2.2,2.2 0 1,0 4.4,0a2.2,2.2 0 1,0 -4.4,0M110.65,649.20a2.2,2.2 0 1,0 4.4,0a2.2,2.2 0 1,0 -4.4,0M111.91,647.34a2.2,2.2 0 1,0 4.4,0a2.2,2.2 0 1,0 -4.4,0M113.18,645.48a2.2,2.2 0 1,0 4.4,0a2.2,2.2 0 1,0 -4.4,0M114.40,643.59a2.2,2.2 0 1,0 4.4,0a2.2,2.2 0 1,0 -4.4,0M115.44,641.88a2.2,2.2 0 1,0 4.4,0a2.2,2.2 0 1,0 -4.4,0M116.43,640.14a2.2,2.2 0 1,0 4.4,0a2.2,2.2 0 1,0 -4.4,0M117.39,638.39a2.2,2.2 0 1,0 4.4,0a2.2,2.2 0 1,0 -4.4,0M118.32,636.62a2.2,2.2 0 1,0 4.4,0a2.2,2.2 0 1,0 -4.4,0M119.20,634.82a2.2,2.2 0 1,0 4.4,0a2.2,2.2 0 1,0 -4.4,0M120.00,632.99a2.2,2.2 0 1,0 4.4,0a2.2,2.2 0 1,0 -4.4,0M120.73,631.13a2.2,2.2 0 1,0 4.4,0a2.2,2.2 0 1,0 -4.4,0M121.43,629.26a2.2,2.2 0 1,0 4.4,0a2.2,2.2 0 1,0 -4.4,0M122.17,627.40a2.2,2.2 0 1,0 4.4,0a2.2,2.2 0 1,0 -4.4,0M122.93,625.55a2.2,2.2 0 1,0 4.4,0a2.2,2.2 0 1,0 -4.4,0M123.73,623.71a2.2,2.2 0 1,0 4.4,0a2.2,2.2 0 1,0 -4.4,0M124.65,621.94a2.2,2.2 0 1,0 4.4,0a2.2,2.2 0 1,0 -4.4,0M125.66,620.21a2.2,2.2 0 1,0 4.4,0a2.2,2.2 0 1,0 -4.4,0M126.95,618.37a2.2,2.2 0 1,0 4.4,0a2.2,2.2 0 1,0 -4.4,0M128.61,616.51a2.2,2.2 0 1,0 4.4,0a2.2,2.2 0 1,0 -4.4,0M130.67,614.68a2.2,2.2 0 1,0 4.4,0a2.2,2.2 0 1,0 -4.4,0M133.13,612.97a2.2,2.2 0 1,0 4.4,0a2.2,2.2 0 1,0 -4.4,0M136.16,611.22a2.2,2.2 0 1,0 4.4,0a2.2,2.2 0 1,0 -4.4,0M140.02,609.44a2.2,2.2 0 1,0 4.4,0a2.2,2.2 0 1,0 -4.4,0M144.69,607.68a2.2,2.2 0 1,0 4.4,0a2.2,2.2 0 1,0 -4.4,0M150.44,605.94a2.2,2.2 0 1,0 4.4,0a2.2,2.2 0 1,0 -4.4,0M157.02,604.44a2.2,2.2 0 1,0 4.4,0a2.2,2.2 0 1,0 -4.4,0M163.65,603.20a2.2,2.2 0 1,0 4.4,0a2.2,2.2 0 1,0 -4.4,0M170.05,602.07a2.2,2.2 0 1,0 4.4,0a2.2,2.2 0 1,0 -4.4,0M176.69,600.85a2.2,2.2 0 1,0 4.4,0a2.2,2.2 0 1,0 -4.4,0M183.33,599.62a2.2,2.2 0 1,0 4.4,0a2.2,2.2 0 1,0 -4.4,0M189.96,598.38a2.2,2.2 0 1,0 4.4,0a2.2,2.2 0 1,0 -4.4,0M196.59,597.12a2.2,2.2 0 1,0 4.4,0a2.2,2.2 0 1,0 -4.4,0M203.22,595.83a2.2,2.2 0 1,0 4.4,0a2.2,2.2 0 1,0 -4.4,0M209.83,594.45a2.2,2.2 0 1,0 4.4,0a2.2,2.2 0 1,0 -4.4,0M215.55,592.69a2.2,2.2 0 1,0 4.4,0a2.2,2.2 0 1,0 -4.4,0M219.41,590.91a2.2,2.2 0 1,0 4.4,0a2.2,2.2 0 1,0 -4.4,0M222.75,589.20a2.2,2.2 0 1,0 4.4,0a2.2,2.2 0 1,0 -4.4,0M226.06,587.45a2.2,2.2 0 1,0 4.4,0a2.2,2.2 0 1,0 -4.4,0M229.11,585.74a2.2,2.2 0 1,0 4.4,0a2.2,2.2 0 1,0 -4.4,0M232.12,583.94a2.2,2.2 0 1,0 4.4,0a2.2,2.2 0 1,0 -4.4,0M234.87,582.22a2.2,2.2 0 1,0 4.4,0a2.2,2.2 0 1,0 -4.4,0M237.60,580.45a2.2,2.2 0 1,0 4.4,0a2.2,2.2 0 1,0 -4.4,0M240.07,578.75a2.2,2.2 0 1,0 4.4,0a2.2,2.2 0 1,0 -4.4,0M242.48,576.95a2.2,2.2 0 1,0 4.4,0a2.2,2.2 0 1,0 -4.4,0M244.62,575.24a2.2,2.2 0 1,0 4.4,0a2.2,2.2 0 1,0 -4.4,0M246.74,573.48a2.2,2.2 0 1,0 4.4,0a2.2,2.2 0 1,0 -4.4,0M248.86,571.73a2.2,2.2 0 1,0 4.4,0a2.2,2.2 0 1,0 -4.4,0M250.96,569.95a2.2,2.2 0 1,0 4.4,0a2.2,2.2 0 1,0 -4.4,0M252.99,568.10a2.2,2.2 0 1,0 4.4,0a2.2,2.2 0 1,0 -4.4,0M254.78,566.36a2.2,2.2 0 1,0 4.4,0a2.2,2.2 0 1,0 -4.4,0M256.54,564.58a2.2,2.2 0 1,0 4.4,0a2.2,2.2 0 1,0 -4.4,0M258.28,562.78a2.2,2.2 0 1,0 4.4,0a2.2,2.2 0 1,0 -4.4,0M260.00,560.97a2.2,2.2 0 1,0 4.4,0a2.2,2.2 0 1,0 -4.4,0M261.72,559.16a2.2,2.2 0 1,0 4.4,0a2.2,2.2 0 1,0 -4.4,0M263.43,557.33a2.2,2.2 0 1,0 4.4,0a2.2,2.2 0 1,0 -4.4,0M265.14,555.50a2.2,2.2 0 1,0 4.4,0a2.2,2.2 0 1,0 -4.4,0M266.83,553.67a2.2,2.2 0 1,0 4.4,0a2.2,2.2 0 1,0 -4.4,0M268.51,551.82a2.2,2.2 0 1,0 4.4,0a2.2,2.2 0 1,0 -4.4,0M270.18,549.96a2.2,2.2 0 1,0 4.4,0a2.2,2.2 0 1,0 -4.4,0M271.83,548.08a2.2,2.2 0 1,0 4.4,0a2.2,2.2 0 1,0 -4.4,0M273.30,546.37a2.2,2.2 0 1,0 4.4,0a2.2,2.2 0 1,0 -4.4,0M274.75,544.65a2.2,2.2 0 1,0 4.4,0a2.2,2.2 0 1,0 -4.4,0M276.19,542.92a2.2,2.2 0 1,0 4.4,0a2.2,2.2 0 1,0 -4.4,0M277.62,541.19a2.2,2.2 0 1,0 4.4,0a2.2,2.2 0 1,0 -4.4,0M279.07,539.47a2.2,2.2 0 1,0 4.4,0a2.2,2.2 0 1,0 -4.4,0M280.53,537.75a2.2,2.2 0 1,0 4.4,0a2.2,2.2 0 1,0 -4.4,0M282.18,535.87a2.2,2.2 0 1,0 4.4,0a2.2,2.2 0 1,0 -4.4,0M283.84,534.00a2.2,2.2 0 1,0 4.4,0a2.2,2.2 0 1,0 -4.4,0M285.51,532.14a2.2,2.2 0 1,0 4.4,0a2.2,2.2 0 1,0 -4.4,0M287.20,530.31a2.2,2.2 0 1,0 4.4,0a2.2,2.2 0 1,0 -4.4,0M288.94,528.50a2.2,2.2 0 1,0 4.4,0a2.2,2.2 0 1,0 -4.4,0M290.72,526.75a2.2,2.2 0 1,0 4.4,0a2.2,2.2 0 1,0 -4.4,0M292.75,524.90a2.2,2.2 0 1,0 4.4,0a2.2,2.2 0 1,0 -4.4,0M294.88,523.16a2.2,2.2 0 1,0 4.4,0a2.2,2.2 0 1,0 -4.4,0M297.61,521.40a2.2,2.2 0 1,0 4.4,0a2.2,2.2 0 1,0 -4.4,0M300.44,519.80a2.2,2.2 0 1,0 4.4,0a2.2,2.2 0 1,0 -4.4,0" fill="#000" stroke="none"/>
<path d="M71.05,520.80a2.2,2.2 0 1,0 4.4,0a2.2,2.2 0 1,0 -4.4,0M71.11,522.55a2.2,2.2 0 1,0 4.4,0a2.2,2.2 0 1,0 -4.4,0M71.16,524.30a2.2,2.2 0 1,0 4.4,0a2.2,2.2 0 1,0 -4.4,0M71.24,526.04a2.2,2.2 0 1,0 4.4,0a2.2,2.2 0 1,0 -4.4,0M71.34,527.79a2.2,2.2 0 1,0 4.4,0a2.2,2.2 0 1,0 -4.4,0M71.46,529.54a2.2,2.2 0 1,0 4.4,0a2.2,2.2 0 1,0 -4.4,0M71.60,531.28a2.2,2.2 0 1,0 4.4,0a2.2,2.2 0 1,0 -4.4,0M71.78,533.02a2.2,2.2 0 1,0 4.4,0a2.2,2.2 0 1,0 -4.4,0M71.98,534.76a2.2,2.2 0 1,0 4.4,0a2.2,2.2 0 1,0 -4.4,0M72.23,536.49a2.2,2.2 0 1,0 4.4,0a2.2,2.2 0 1,0 -4.4,0M72.51,538.22a2.2,2.2 0 1,0 4.4,0a2.2,2.2 0 1,0 -4.4,0M72.84,539.94a2.2,2.2 0 1,0 4.4,0a2.2,2.2 0 1,0 -4.4,0M73.35,541.87a2.2,2.2 0 1,0 4.4,0a2.2,2.2 0 1,0 -4.4,0M74.02,543.75a2.2,2.2 0 1,0 4.4,0a2.2,2.2 0 1,0 -4.4,0M74.79,545.60a2.2,2.2 0 1,0 4.4,0a2.2,2.2 0 1,0 -4.4,0M75.65,547.40a2.2,2.2 0 1,0 4.4,0a2.2,2.2 0 1,0 -4.4,0M76.65,549.13a2.2,2.2 0 1,0 4.4,0a2.2,2.2 0 1,0 -4.4,0M77.92,551.00a2.2,2.2 0 1,0 4.4,0a2.2,2.2 0 1,0 -4.4,0M79.26,552.80a2.2,2.2 0 1,0 4.4,0a2.2,2.2 0 1,0 -4.4,0M80.51,554.67a2.2,2.2 0 1,0 4.4,0a2.2,2.2 0 1,0 -4.4,0M81.57,556.37a2.2,2.2 0 1,0 4.4,0a2.2,2.2 0 1,0 -4.4,0M82.60,558.08a2.2,2.2 0 1,0 4.4,0a2.2,2.2 0 1,0 -4.4,0M83.64,559.79a2.2,2.2 0 1,0 4.4,0a2.2,2.2 0 1,0 -4.4,0M84.68,561.50a2.2,2.2 0 1,0 4.4,0a2.2,2.2 0 1,0 -4.4,0M85.89,563.40a2.2,2.2 0 1,0 4.4,0a2.2,2.2 0 1,0 -4.4,0M87.12,565.28a2.2,2.2 0 1,0 4.4,0a2.2,2.2 0 1,0 -4.4,0M88.37,567.15a2.2,2.2 0 1,0 4.4,0a2.2,2.2 0 1,0 -4.4,0M89.62,569.02a2.2,2.2 0 1,0 4.4,0a2.2,2.2 0 1,0 -4.4,0M90.85,570.90a2.2,2.2 0 1,0 4.4,0a2.2,2.2 0 1,0 -4.4,0M92.05,572.81a2.2,2.2 0 1,0 4.4,0a2.2,2.2 0 1,0 -4.4,0M93.10,574.51a2.2,2.2 0 1,0 4.4,0a2.2,2.2 0 1,0 -4.4,0M94.30,576.41a2.2,2.2 0 1,0 4.4,0a2.2,2.2 0 1,0 -4.4,0M95.56,578.28a2.2,2.2 0 1,0 4.4,0a2.2,2.2 0 1,0 -4.4,0M96.85,580.12a2.2,2.2 0 1,0 4.4,0a2.2,2.2 0 1,0 -4.4,0M98.11,581.98a2.2,2.2 0 1,0 4.4,0a2.2,2.2 0 1,0 -4.4,0M99.30,583.90a2.2,2.2 0 1,0 4.4,0a2.2,2.2 0 1,0 -4.4,0M100.29,585.63a2.2,2.2 0 1,0 4.4,0a2.2,2.2 0 1,0 -4.4,0M101.25,587.38a2.2,2.2 0 1,0 4.4,0a2.2,2.2 0 1,0 -4.4,0M102.23,589.13a2.2,2.2 0 1,0 4.4,0a2.2,2.2 0 1,0 -4.4,0M103.22,590.86a2.2,2.2 0 1,0 4.4,0a2.2,2.2 0 1,0 -4.4,0M104.24,592.59a2.2,2.2 0 1,0 4.4,0a2.2,2.2 0 1,0 -4.4,0M105.27,594.30a2.2,2.2 0 1,0 4.4,0a2.2,2.2 0 1,0 -4.4,0M106.31,596.01a2.2,2.2 0 1,0 4.4,0a2.2,2.2 0 1,0 -4.4,0M107.36,597.71a2.2,2.2 0 1,0 4.4,0a2.2,2.2 0 1,0 -4.4,0M108.56,599.62a2.2,2.2 0 1,0 4.4,0a2.2,2.2 0 1,0 -4.4,0M109.78,601.51a2.2,2.2 0 1,0 4.4,0a2.2,2.2 0 1,0 -4.4,0M111.02,603.38a2.2,2.2 0 1,0 4.4,0a2.2,2.2 0 1,0 -4.4,0M112.29,605.24a2.2,2.2 0 1,0 4.4,0a2.2,2.2 0 1,0 -4.4,0M113.58,607.08a2.2,2.2 0 1,0 4.4,0a2.2,2.2 0 1,0 -4.4,0M114.91,608.90a2.2,2.2 0 1,0 4.4,0a2.2,2.2 0 1,0 -4.4,0M116.28,610.68a2.2,2.2 0 1,0 4.4,0a2.2,2.2 0 1,0 -4.4,0M117.70,612.43a2.2,2.2 0 1,0 4.4,0a2.2,2.2 0 1,0 -4.4,0M119.37,614.28a2.2,2.2 0 1,0 4.4,0a2.2,2.2 0 1,0 -4.4,0M121.15,616.04a2.2,2.2 0 1,0 4.4,0a2.2,2.2 0 1,0 -4.4,0M123.26,617.81a2.2,2.2 0 1,0 4.4,0a2.2,2.2 0 1,0 -4.4,0M125.66,619.61a2.2,2.2 0 1,0 4.4,0a2.2,2.2 0 1,0 -4.4,0M128.36,621.41a2.2,2.2 0 1,0 4.4,0a2.2,2.2 0 1,0 -4.4,0M131.65,623.21a2.2,2.2 0 1,0 4.4,0a2.2,2.2 0 1,0 -4.4,0M135.51,624.98a2.2,2.2 0 1,0 4.4,0a2.2,2.2 0 1,0 -4.4,0M139.94,626.68a2.2,2.2 0 1,0 4.4,0a2.2,2.2 0 1,0 -4.4,0M145.16,628.43a2.2,2.2 0 1,0 4.4,0a2.2,2.2 0 1,0 -4.4,0M150.37,630.19a2.2,2.2 0 1,0 4.4,0a2.2,2.2 0 1,0 -4.4,0M155.06,631.92a2.2,2.2 0 1,0 4.4,0a2.2,2.2 0 1,0 -4.4,0M159.49,633.63a2.2,2.2 0 1,0 4.4,0a2.2,2.2 0 1,0 -4.4,0M164.18,635.36a2.2,2.2 0 1,0 4.4,0a2.2,2.2 0 1,0 -4.4,0M168.87,637.10a2.2,2.2 0 1,0 4.4,0a2.2,2.2 0 1,0 -4.4,0M173.28,638.87a2.2,2.2 0 1,0 4.4,0a2.2,2.2 0 1,0 -4.4,0M177.43,640.60a2.2,2.2 0 1,0 4.4,0a2.2,2.2 0 1,0 -4.4,0M181.85,642.36a2.2,2.2 0 1,0 4.4,0a2.2,2.2 0 1,0 -4.4,0M186.53,644.10a2.2,2.2 0 1,0 4.4,0a2.2,2.2 0 1,0 -4.4,0M191.23,645.81a2.2,2.2 0 1,0 4.4,0a2.2,2.2 0 1,0 -4.4,0M196.17,647.59a2.2,2.2 0 1,0 4.4,0a2.2,2.2 0 1,0 -4.4,0M201.38,649.36a2.2,2.2 0 1,0 4.4,0a2.2,2.2 0 1,0 -4.4,0M206.60,651.06a2.2,2.2 0 1,0 4.4,0a2.2,2.2 0 1,0 -4.4,0M212.36,652.77a2.2,2.2 0 1,0 4.4,0a2.2,2.2 0 1,0 -4.4,0M218.88,654.51a2.2,2.2 0 1,0 4.4,0a2.2,2.2 0 1,0 -4.4,0M225.45,656.06a2.2,2.2 0 1,0 4.4,0a2.2,2.2 0 1,0 -4.4,0M232.06,657.44a2.2,2.2 0 1,0 4.4,0a2.2,2.2 0 1,0 -4.4,0M238.68,658.72a2.2,2.2 0 1,0 4.4,0a2.2,2.2 0 1,0 -4.4,0M245.20,659.03a2.2,2.2 0 1,0 4.4,0a2.2,2.2 0 1,0 -4.4,0M247.35,660.74a2.2,2.2 0 1,0 4.4,0a2.2,2.2 0 1,0 -4.4,0M250.05,662.54a2.2,2.2 0 1,0 4.4,0a2.2,2.2 0 1,0 -4.4,0M252.77,664.32a2.2,2.2 0 1,0 4.4,0a2.2,2.2 0 1,0 -4.4,0M255.53,666.04a2.2,2.2 0 1,0 4.4,0a2.2,2.2 0 1,0 -4.4,0M258.54,667.83a2.2,2.2 0 1,0 4.4,0a2.2,2.2 0 1,0 -4.4,0M261.27,669.58a2.2,2.2 0 1,0 4.4,0a2.2,2.2 0 1,0 -4.4,0M263.69,671.35a2.2,2.2 0 1,0 4.4,0a2.2,2.2 0 1,0 -4.4,0M265.84,673.07a2.2,2.2 0 1,0 4.4,0a2.2,2.2 0 1,0 -4.4,0M267.93,674.85a2.2,2.2 0 1,0 4.4,0a2.2,2.2 0 1,0 -4.4,0M270.01,676.65a2.2,2.2 0 1,0 4.4,0a2.2,2.2 0 1,0 -4.4,0M272.07,678.47a2.2,2.2 0 1,0 4.4,0a2.2,2.2 0 1,0 -4.4,0M274.12,680.31a2.2,2.2 0 1,0 4.4,0a2.2,2.2 0 1,0 -4.4,0M276.14,682.17a2.2,2.2 0 1,0 4.4,0a2.2,2.2 0 1,0 -4.4,0M278.17,684.03a2.2,2.2 0 1,0 4.4,0a2.2,2.2 0 1,0 -4.4,0M280.20,685.88a2.2,2.2 0 1,0 4.4,0a2.2,2.2 0 1,0 -4.4,0M282.28,687.68a2.2,2.2 0 1,0 4.4,0a2.2,2.2 0 1,0 -4.4,0M284.40,689.44a2.2,2.2 0 1,0 4.4,0a2.2,2.2 0 1,0 -4.4,0M286.54,691.16a2.2,2.2 0 1,0 4.4,0a2.2,2.2 0 1,0 -4.4,0M286.54,691.16a2.2,2.2 0 1,0 4.4,0a2.2,2.2 0 1,0 -4.4,0" fill="#000" stroke="none"/>
<path d="M73.25,691.15 L74.07,693.12 L76.20,693.29 L74.58,694.68 L75.07,696.76 L73.25,695.64 L71.43,696.76 L71.92,694.68 L70.30,693.29 L72.43,693.12ZM73.21,689.40 L74.03,691.37 L76.16,691.54 L74.53,692.93 L75.03,695.01 L73.21,693.90 L71.39,695.01 L71.88,692.93 L70.26,691.54 L72.39,691.37ZM73.26,687.65 L74.08,689.62 L76.21,689.79 L74.59,691.18 L75.08,693.26 L73.26,692.15 L71.44,693.26 L71.93,691.18 L70.31,689.79 L72.44,689.62ZM73.53,685.93 L74.35,687.90 L76.48,688.07 L74.86,689.46 L75.36,691.53 L73.53,690.42 L71.71,691.53 L72.21,689.46 L70.59,688.07 L72.71,687.90ZM74.16,684.04 L74.98,686.01 L77.11,686.18 L75.49,687.57 L75.99,689.64 L74.16,688.53 L72.34,689.64 L72.84,687.57 L71.22,686.18 L73.34,686.01ZM75.49,682.23 L76.31,684.20 L78.44,684.37 L76.82,685.76 L77.31,687.84 L75.49,686.73 L73.67,687.84 L74.16,685.76 L72.54,684.37 L74.67,684.20ZM78.19,680.44 L79.01,682.41 L81.14,682.58 L79.51,683.97 L80.01,686.04 L78.19,684.93 L76.37,686.04 L76.86,683.97 L75.24,682.58 L77.37,682.41ZM81.76,678.63 L82.58,680.61 L84.71,680.78 L83.08,682.17 L83.58,684.24 L81.76,683.13 L79.94,684.24 L80.43,682.17 L78.81,680.78 L80.94,680.61ZM84.52,676.93 L85.34,678.90 L87.47,679.07 L85.85,680.46 L86.35,682.54 L84.52,681.42 L82.70,682.54 L83.20,680.46 L81.58,679.07 L83.70,678.90ZM86.92,675.13 L87.74,677.11 L89.87,677.28 L88.25,678.67 L88.75,680.74 L86.92,679.63 L85.10,680.74 L85.60,678.67 L83.98,677.28 L86.10,677.11ZM88.95,673.28 L89.77,675.25 L91.90,675.42 L90.28,676.81 L90.77,678.88 L88.95,677.77 L87.13,678.88 L87.62,676.81 L86.00,675.42 L88.13,675.25ZM90.41,671.57 L91.23,673.54 L93.36,673.71 L91.74,675.10 L92.23,677.18 L90.41,676.06 L88.59,677.18 L89.09,675.10 L87.46,673.71 L89.59,673.54ZM91.46,669.87 L92.28,671.84 L94.41,672.01 L92.79,673.40 L93.28,675.48 L91.46,674.36 L89.64,675.48 L90.13,673.40 L88.51,672.01 L90.64,671.84ZM92.49,668.16 L93.31,670.13 L95.44,670.30 L93.82,671.69 L94.32,673.76 L92.49,672.65 L90.67,673.76 L91.17,671.69 L89.55,670.30 L91.67,670.13ZM93.54,666.45 L94.36,668.42 L96.49,668.59 L94.86,669.98 L95.36,672.06 L93.54,670.94 L91.72,672.06 L92.21,669.98 L90.59,668.59 L92.72,668.42ZM94.75,664.55 L95.57,666.53 L97.70,666.70 L96.08,668.09 L96.57,670.16 L94.75,669.05 L92.93,670.16 L93.42,668.09 L91.80,666.70 L93.93,666.53ZM96.08,662.74 L96.90,664.71 L99.02,664.88 L97.40,666.27 L97.90,668.34 L96.08,667.23 L94.25,668.34 L94.75,666.27 L93.13,664.88 L95.26,664.71ZM97.45,660.96 L98.27,662.93 L100.40,663.10 L98.78,664.49 L99.28,666.57 L97.45,665.45 L95.63,666.57 L96.13,664.49 L94.51,663.10 L96.63,662.93ZM98.87,659.21 L99.69,661.18 L101.82,661.35 L100.20,662.74 L100.69,664.82 L98.87,663.71 L97.05,664.82 L97.54,662.74 L95.92,661.35 L98.05,661.18ZM100.24,657.43 L101.06,659.40 L103.19,659.57 L101.57,660.96 L102.07,663.04 L100.24,661.92 L98.42,663.04 L98.92,660.96 L97.30,659.57 L99.42,659.40ZM101.50,655.56 L102.32,657.53 L104.45,657.70 L102.82,659.09 L103.32,661.17 L101.50,660.06 L99.68,661.17 L100.17,659.09 L98.55,657.70 L100.68,657.53ZM102.54,653.85 L103.36,655.82 L105.49,655.99 L103.86,657.38 L104.36,659.46 L102.54,658.35 L100.72,659.46 L101.21,657.38 L99.59,655.99 L101.72,655.82ZM103.56,652.14 L104.38,654.11 L106.51,654.28 L104.89,655.67 L105.39,657.74 L103.56,656.63 L101.74,657.74 L102.24,655.67 L100.62,654.28 L102.74,654.11ZM104.59,650.42 L105.41,652.39 L107.54,652.56 L105.92,653.95 L106.42,656.03 L104.59,654.92 L102.77,656.03 L103.27,653.95 L101.65,652.56 L103.77,652.39ZM105.62,648.71 L106.44,650.68 L108.57,650.85 L106.95,652.24 L107.45,654.32 L105.62,653.20 L103.80,654.32 L104.30,652.24 L102.68,650.85 L104.80,650.68ZM106.65,646.99 L107.47,648.96 L109.60,649.13 L107.98,650.52 L108.48,652.60 L106.65,651.49 L104.83,652.60 L105.33,650.52 L103.70,649.13 L105.83,648.96ZM107.69,645.28 L108.51,647.25 L110.64,647.42 L109.02,648.81 L109.51,650.89 L107.69,649.78 L105.87,650.89 L106.36,648.81 L104.74,647.42 L106.87,647.25ZM108.74,643.58 L109.56,645.55 L111.69,645.72 L110.07,647.11 L110.56,649.19 L108.74,648.08 L106.92,649.19 L107.41,647.11 L105.79,645.72 L107.92,645.55ZM109.79,641.88 L110.61,643.85 L112.73,644.02 L111.11,645.41 L111.61,647.48 L109.79,646.37 L107.96,647.48 L108.46,645.41 L106.84,644.02 L108.97,643.85ZM110.79,640.15 L111.61,642.12 L113.74,642.29 L112.12,643.68 L112.61,645.75 L110.79,644.64 L108.97,645.75 L109.46,643.68 L107.84,642.29 L109.97,642.12ZM111.75,638.39 L112.57,640.36 L114.70,640.53 L113.07,641.92 L113.57,644.00 L111.75,642.88 L109.93,644.00 L110.42,641.92 L108.80,640.53 L110.93,640.36ZM112.65,636.61 L113.47,638.58 L115.60,638.75 L113.98,640.14 L114.48,642.22 L112.65,641.10 L110.83,642.22 L111.33,640.14 L109.71,638.75 L111.83,638.58ZM113.54,634.82 L114.36,636.79 L116.49,636.96 L114.87,638.35 L115.36,640.42 L113.54,639.31 L111.72,640.42 L112.22,638.35 L110.59,636.96 L112.72,636.79ZM114.40,633.01 L115.22,634.98 L117.35,635.15 L115.73,636.54 L116.22,638.62 L114.40,637.50 L112.58,638.62 L113.07,636.54 L111.45,635.15 L113.58,634.98ZM115.20,631.17 L116.02,633.15 L118.14,633.32 L116.52,634.70 L117.02,636.78 L115.20,635.67 L113.37,636.78 L113.87,634.70 L112.25,633.32 L114.38,633.15ZM115.88,629.30 L116.70,631.27 L118.83,631.44 L117.21,632.83 L117.70,634.90 L115.88,633.79 L114.06,634.90 L114.55,632.83 L112.93,631.44 L115.06,631.27ZM116.51,627.40 L117.33,629.37 L119.46,629.54 L117.83,630.93 L118.33,633.00 L116.51,631.89 L114.68,633.00 L115.18,630.93 L113.56,629.54 L115.69,629.37ZM117.14,625.50 L117.96,627.47 L120.09,627.64 L118.47,629.03 L118.96,631.11 L117.14,629.99 L115.32,631.11 L115.82,629.03 L114.19,627.64 L116.32,627.47ZM117.82,623.62 L118.64,625.59 L120.77,625.76 L119.15,627.15 L119.64,629.23 L117.82,628.11 L116.00,629.23 L116.50,627.15 L114.87,625.76 L117.00,625.59ZM118.53,621.75 L119.35,623.72 L121.47,623.89 L119.85,625.28 L120.35,627.35 L118.53,626.24 L116.70,627.35 L117.20,625.28 L115.58,623.89 L117.71,623.72ZM119.30,619.90 L120.12,621.87 L122.24,622.04 L120.62,623.43 L121.12,625.51 L119.30,624.40 L117.47,625.51 L117.97,623.43 L116.35,622.04 L118.48,621.87ZM120.20,618.12 L121.02,620.09 L123.14,620.26 L121.52,621.65 L122.02,623.72 L120.20,622.61 L118.37,623.72 L118.87,621.65 L117.25,620.26 L119.38,620.09ZM121.21,616.39 L122.03,618.36 L124.16,618.53 L122.53,619.92 L123.03,622.00 L121.21,620.89 L119.39,622.00 L119.88,619.92 L118.26,618.53 L120.39,618.36ZM122.48,614.54 L123.30,616.51 L125.43,616.68 L123.81,618.07 L124.30,620.15 L122.48,619.03 L120.66,620.15 L121.15,618.07 L119.53,616.68 L121.66,616.51ZM123.93,612.81 L124.75,614.79 L126.87,614.96 L125.25,616.34 L125.75,618.42 L123.93,617.31 L122.10,618.42 L122.60,616.34 L120.98,614.96 L123.11,614.79ZM125.68,611.03 L126.50,613.00 L128.63,613.17 L127.00,614.56 L127.50,616.64 L125.68,615.53 L123.85,616.64 L124.35,614.56 L122.73,613.17 L124.86,613.00ZM127.81,609.30 L128.63,611.27 L130.76,611.44 L129.14,612.83 L129.63,614.91 L127.81,613.80 L125.99,614.91 L126.48,612.83 L124.86,611.44 L126.99,611.27ZM130.51,607.49 L131.33,609.46 L133.46,609.63 L131.83,611.02 L132.33,613.10 L130.51,611.98 L128.68,613.10 L129.18,611.02 L127.56,609.63 L129.69,609.46ZM133.54,605.75 L134.36,607.72 L136.49,607.89 L134.87,609.28 L135.37,611.36 L133.54,610.24 L131.72,611.36 L132.22,609.28 L130.59,607.89 L132.72,607.72ZM137.40,603.96 L138.22,605.93 L140.35,606.10 L138.72,607.49 L139.22,609.57 L137.40,608.46 L135.58,609.57 L136.07,607.49 L134.45,606.10 L136.58,605.93ZM141.82,602.23 L142.64,604.20 L144.77,604.37 L143.15,605.76 L143.64,607.84 L141.82,606.73 L140.00,607.84 L140.49,605.76 L138.87,604.37 L141.00,604.20ZM147.31,600.52 L148.13,602.49 L150.26,602.66 L148.63,604.05 L149.13,606.13 L147.31,605.02 L145.49,606.13 L145.98,604.05 L144.36,602.66 L146.49,602.49ZM153.87,598.96 L154.69,600.93 L156.82,601.10 L155.20,602.49 L155.70,604.57 L153.87,603.46 L152.05,604.57 L152.55,602.49 L150.93,601.10 L153.05,600.93ZM160.48,597.58 L161.30,599.55 L163.43,599.72 L161.81,601.11 L162.30,603.19 L160.48,602.07 L158.66,603.19 L159.15,601.11 L157.53,599.72 L159.66,599.55ZM167.09,596.19 L167.91,598.16 L170.03,598.33 L168.41,599.72 L168.91,601.80 L167.09,600.68 L165.26,601.80 L165.76,599.72 L164.14,598.33 L166.27,598.16ZM173.68,594.75 L174.50,596.72 L176.63,596.89 L175.01,598.28 L175.50,600.36 L173.68,599.24 L171.86,600.36 L172.35,598.28 L170.73,596.89 L172.86,596.72ZM180.27,593.30 L181.09,595.28 L183.22,595.45 L181.60,596.84 L182.10,598.91 L180.27,597.80 L178.45,598.91 L178.95,596.84 L177.33,595.45 L179.45,595.28ZM186.86,591.84 L187.68,593.81 L189.81,593.98 L188.19,595.37 L188.69,597.45 L186.86,596.33 L185.04,597.45 L185.54,595.37 L183.92,593.98 L186.04,593.81ZM193.44,590.33 L194.26,592.31 L196.39,592.48 L194.77,593.87 L195.27,595.94 L193.44,594.83 L191.62,595.94 L192.12,593.87 L190.50,592.48 L192.62,592.31ZM200.00,588.72 L200.82,590.69 L202.95,590.86 L201.32,592.25 L201.82,594.33 L200.00,593.22 L198.18,594.33 L198.67,592.25 L197.05,590.86 L199.18,590.69ZM204.67,586.96 L205.49,588.93 L207.61,589.10 L205.99,590.49 L206.49,592.57 L204.67,591.45 L202.84,592.57 L203.34,590.49 L201.72,589.10 L203.85,588.93ZM207.97,585.19 L208.79,587.16 L210.92,587.34 L209.30,588.72 L209.80,590.80 L207.97,589.69 L206.15,590.80 L206.65,588.72 L205.03,587.34 L207.15,587.16ZM210.99,583.43 L211.81,585.40 L213.94,585.57 L212.32,586.96 L212.82,589.03 L210.99,587.92 L209.17,589.03 L209.67,586.96 L208.05,585.57 L210.17,585.40ZM213.99,581.62 L214.81,583.59 L216.94,583.77 L215.32,585.15 L215.82,587.23 L213.99,586.12 L212.17,587.23 L212.67,585.15 L211.05,583.77 L213.17,583.59ZM216.76,579.92 L217.58,581.89 L219.71,582.06 L218.09,583.45 L218.58,585.52 L216.76,584.41 L214.94,585.52 L215.43,583.45 L213.81,582.06 L215.94,581.89ZM219.48,578.14 L220.30,580.11 L222.43,580.28 L220.81,581.67 L221.30,583.74 L219.48,582.63 L217.66,583.74 L218.15,581.67 L216.53,580.28 L218.66,580.11ZM222.16,576.30 L222.98,578.27 L225.11,578.44 L223.49,579.83 L223.98,581.91 L222.16,580.80 L220.34,581.91 L220.84,579.83 L219.21,578.44 L221.34,578.27ZM224.60,574.56 L225.42,576.53 L227.55,576.70 L225.93,578.09 L226.43,580.17 L224.60,579.05 L222.78,580.17 L223.28,578.09 L221.66,576.70 L223.78,576.53ZM226.99,572.74 L227.81,574.72 L229.94,574.89 L228.32,576.28 L228.81,578.35 L226.99,577.24 L225.17,578.35 L225.67,576.28 L224.04,574.89 L226.17,574.72ZM229.11,570.99 L229.93,572.97 L232.06,573.14 L230.44,574.53 L230.94,576.60 L229.11,575.49 L227.29,576.60 L227.79,574.53 L226.17,573.14 L228.29,572.97ZM231.18,569.18 L232.00,571.15 L234.12,571.32 L232.50,572.71 L233.00,574.78 L231.18,573.67 L229.35,574.78 L229.85,572.71 L228.23,571.32 L230.36,571.15ZM233.21,567.32 L234.03,569.29 L236.16,569.46 L234.53,570.85 L235.03,572.93 L233.21,571.82 L231.39,572.93 L231.88,570.85 L230.26,569.46 L232.39,569.29ZM235.24,565.47 L236.06,567.44 L238.19,567.61 L236.56,569.00 L237.06,571.08 L235.24,569.96 L233.42,571.08 L233.91,569.00 L232.29,567.61 L234.42,567.44ZM237.06,563.76 L237.88,565.73 L240.01,565.90 L238.39,567.29 L238.88,569.36 L237.06,568.25 L235.24,569.36 L235.73,567.29 L234.11,565.90 L236.24,565.73ZM238.82,561.98 L239.64,563.95 L241.76,564.12 L240.14,565.51 L240.64,567.58 L238.82,566.47 L236.99,567.58 L237.49,565.51 L235.87,564.12 L238.00,563.95ZM240.51,560.14 L241.33,562.11 L243.46,562.28 L241.84,563.67 L242.33,565.75 L240.51,564.64 L238.69,565.75 L239.19,563.67 L237.56,562.28 L239.69,562.11ZM242.18,558.28 L243.00,560.25 L245.13,560.42 L243.50,561.81 L244.00,563.89 L242.18,562.77 L240.36,563.89 L240.85,561.81 L239.23,560.42 L241.36,560.25ZM243.83,556.40 L244.65,558.37 L246.77,558.54 L245.15,559.93 L245.65,562.01 L243.83,560.89 L242.00,562.01 L242.50,559.93 L240.88,558.54 L243.01,558.37ZM245.30,554.69 L246.12,556.67 L248.24,556.84 L246.62,558.23 L247.12,560.30 L245.30,559.19 L243.47,560.30 L243.97,558.23 L242.35,556.84 L244.48,556.67ZM246.76,552.99 L247.58,554.96 L249.71,555.13 L248.09,556.52 L248.58,558.60 L246.76,557.48 L244.94,558.60 L245.44,556.52 L243.81,555.13 L245.94,554.96ZM248.22,551.28 L249.04,553.25 L251.17,553.42 L249.55,554.81 L250.04,556.88 L248.22,555.77 L246.40,556.88 L246.90,554.81 L245.27,553.42 L247.40,553.25ZM249.68,549.56 L250.50,551.53 L252.62,551.70 L251.00,553.09 L251.50,555.17 L249.68,554.05 L247.85,555.17 L248.35,553.09 L246.73,551.70 L248.86,551.53ZM251.12,547.83 L251.94,549.80 L254.07,549.98 L252.45,551.36 L252.94,553.44 L251.12,552.33 L249.30,553.44 L249.79,551.36 L248.17,549.98 L250.30,549.80ZM252.56,546.10 L253.38,548.07 L255.51,548.24 L253.88,549.63 L254.38,551.71 L252.56,550.60 L250.73,551.71 L251.23,549.63 L249.61,548.24 L251.74,548.07ZM253.98,544.36 L254.80,546.33 L256.93,546.50 L255.30,547.89 L255.80,549.96 L253.98,548.85 L252.16,549.96 L252.65,547.89 L251.03,546.50 L253.16,546.33ZM255.39,542.60 L256.21,544.57 L258.33,544.74 L256.71,546.13 L257.21,548.21 L255.39,547.10 L253.56,548.21 L254.06,546.13 L252.44,544.74 L254.57,544.57ZM256.78,540.83 L257.60,542.80 L259.72,542.97 L258.10,544.36 L258.60,546.44 L256.78,545.33 L254.95,546.44 L255.45,544.36 L253.83,542.97 L255.96,542.80ZM258.15,539.05 L258.97,541.02 L261.10,541.19 L259.48,542.58 L259.97,544.66 L258.15,543.54 L256.33,544.66 L256.82,542.58 L255.20,541.19 L257.33,541.02ZM259.50,537.25 L260.32,539.22 L262.45,539.39 L260.83,540.78 L261.32,542.86 L259.50,541.75 L257.68,542.86 L258.18,540.78 L256.55,539.39 L258.68,539.22ZM260.86,535.46 L261.68,537.43 L263.80,537.60 L262.18,538.99 L262.68,541.06 L260.86,539.95 L259.03,541.06 L259.53,538.99 L257.91,537.60 L260.04,537.43ZM262.22,533.67 L263.04,535.64 L265.17,535.81 L263.55,537.20 L264.04,539.27 L262.22,538.16 L260.40,539.27 L260.89,537.20 L259.27,535.81 L261.40,535.64ZM263.60,531.89 L264.42,533.86 L266.55,534.03 L264.93,535.42 L265.42,537.50 L263.60,536.38 L261.78,537.50 L262.27,535.42 L260.65,534.03 L262.78,533.86ZM265.00,530.13 L265.82,532.10 L267.95,532.27 L266.33,533.66 L266.82,535.74 L265.00,534.62 L263.18,535.74 L263.67,533.66 L262.05,532.27 L264.18,532.10ZM266.41,528.37 L267.23,530.35 L269.36,530.52 L267.74,531.90 L268.23,533.98 L266.41,532.87 L264.59,533.98 L265.08,531.90 L263.46,530.52 L265.59,530.35ZM267.83,526.63 L268.65,528.60 L270.78,528.77 L269.16,530.16 L269.65,532.24 L267.83,531.12 L266.01,532.24 L266.50,530.16 L264.88,528.77 L267.01,528.60ZM269.27,524.90 L270.09,526.87 L272.22,527.04 L270.59,528.43 L271.09,530.51 L269.27,529.39 L267.44,530.51 L267.94,528.43 L266.32,527.04 L268.45,526.87ZM270.74,523.20 L271.56,525.17 L273.69,525.34 L272.06,526.73 L272.56,528.80 L270.74,527.69 L268.92,528.80 L269.41,526.73 L267.79,525.34 L269.92,525.17ZM272.38,521.31 L273.20,523.28 L275.33,523.46 L273.71,524.84 L274.21,526.92 L272.38,525.81 L270.56,526.92 L271.06,524.84 L269.44,523.46 L271.56,523.28ZM274.06,519.46 L274.88,521.43 L277.01,521.60 L275.39,522.99 L275.88,525.07 L274.06,523.96 L272.24,525.07 L272.74,522.99 L271.11,521.60 L273.24,521.43ZM276.13,517.66 L276.95,519.63 L279.08,519.80 L277.46,521.19 L277.95,523.27 L276.13,522.16 L274.31,523.27 L274.81,521.19 L273.18,519.80 L275.31,519.63ZM281.68,516.65 L282.50,518.62 L284.62,518.79 L283.00,520.18 L283.50,522.26 L281.68,521.15 L279.85,522.26 L280.35,520.18 L278.73,518.79 L280.86,518.62Z" fill="#fff" stroke="#000" stroke-width="0.5"/>
<path d="M73.25,518.05 L74.07,520.02 L76.20,520.19 L74.58,521.58 L75.07,523.65 L73.25,522.54 L71.43,523.65 L71.92,521.58 L70.30,520.19 L72.43,520.02ZM73.31,519.80 L74.13,521.77 L76.25,521.94 L74.63,523.33 L75.13,525.40 L73.31,524.29 L71.48,525.40 L71.98,523.33 L70.36,521.94 L72.49,521.77ZM73.36,521.54 L74.18,523.52 L76.31,523.69 L74.69,525.08 L75.19,527.15 L73.36,526.04 L71.54,527.15 L72.04,525.08 L70.42,523.69 L72.54,523.52ZM73.44,523.29 L74.26,525.26 L76.39,525.43 L74.77,526.82 L75.26,528.90 L73.44,527.79 L71.62,528.90 L72.11,526.82 L70.49,525.43 L72.62,525.26ZM73.54,525.04 L74.36,527.01 L76.49,527.18 L74.87,528.57 L75.36,530.65 L73.54,529.53 L71.72,530.65 L72.21,528.57 L70.59,527.18 L72.72,527.01ZM73.66,526.79 L74.48,528.76 L76.61,528.93 L74.99,530.32 L75.48,532.39 L73.66,531.28 L71.84,532.39 L72.33,530.32 L70.71,528.93 L72.84,528.76ZM73.80,528.53 L74.62,530.50 L76.75,530.67 L75.13,532.06 L75.63,534.14 L73.80,533.02 L71.98,534.14 L72.48,532.06 L70.86,530.67 L72.98,530.50ZM73.98,530.27 L74.80,532.24 L76.92,532.41 L75.30,533.80 L75.80,535.88 L73.98,534.77 L72.15,535.88 L72.65,533.80 L71.03,532.41 L73.16,532.24ZM74.18,532.01 L75.00,533.98 L77.13,534.15 L75.51,535.54 L76.01,537.62 L74.18,536.50 L72.36,537.62 L72.86,535.54 L71.24,534.15 L73.36,533.98ZM74.43,533.74 L75.25,535.71 L77.38,535.88 L75.75,537.27 L76.25,539.35 L74.43,538.24 L72.61,539.35 L73.10,537.27 L71.48,535.88 L73.61,535.71ZM74.71,535.47 L75.53,537.44 L77.66,537.61 L76.04,539.00 L76.53,541.08 L74.71,539.96 L72.89,541.08 L73.38,539.00 L71.76,537.61 L73.89,537.44ZM75.04,537.19 L75.86,539.16 L77.99,539.33 L76.37,540.72 L76.86,542.79 L75.04,541.68 L73.22,542.79 L73.71,540.72 L72.09,539.33 L74.22,539.16ZM75.55,539.12 L76.37,541.09 L78.49,541.26 L76.87,542.65 L77.37,544.73 L75.55,543.62 L73.72,544.73 L74.22,542.65 L72.60,541.26 L74.73,541.09ZM76.22,541.00 L77.04,542.97 L79.17,543.15 L77.55,544.53 L78.04,546.61 L76.22,545.50 L74.40,546.61 L74.89,544.53 L73.27,543.15 L75.40,542.97ZM76.99,542.85 L77.81,544.82 L79.94,544.99 L78.32,546.38 L78.81,548.46 L76.99,547.34 L75.17,548.46 L75.66,546.38 L74.04,544.99 L76.17,544.82ZM77.85,544.65 L78.67,546.63 L80.80,546.80 L79.18,548.19 L79.67,550.26 L77.85,549.15 L76.03,550.26 L76.52,548.19 L74.90,546.80 L77.03,546.63ZM78.85,546.38 L79.67,548.35 L81.80,548.53 L80.18,549.91 L80.68,551.99 L78.85,550.88 L77.03,551.99 L77.53,549.91 L75.91,548.53 L78.03,548.35ZM80.12,548.25 L80.94,550.22 L83.06,550.39 L81.44,551.78 L81.94,553.85 L80.12,552.74 L78.29,553.85 L78.79,551.78 L77.17,550.39 L79.30,550.22ZM81.46,550.05 L82.28,552.02 L84.41,552.19 L82.79,553.58 L83.28,555.66 L81.46,554.55 L79.64,555.66 L80.13,553.58 L78.51,552.19 L80.64,552.02ZM82.71,551.92 L83.53,553.89 L85.66,554.06 L84.04,555.45 L84.54,557.52 L82.71,556.41 L80.89,557.52 L81.39,555.45 L79.77,554.06 L81.89,553.89ZM83.77,553.62 L84.59,555.59 L86.71,555.76 L85.09,557.15 L85.59,559.23 L83.77,558.11 L81.94,559.23 L82.44,557.15 L80.82,555.76 L82.95,555.59ZM84.80,555.33 L85.62,557.30 L87.75,557.47 L86.13,558.86 L86.62,560.94 L84.80,559.83 L82.98,560.94 L83.47,558.86 L81.85,557.47 L83.98,557.30ZM85.84,557.04 L86.66,559.01 L88.78,559.18 L87.16,560.57 L87.66,562.65 L85.84,561.54 L84.01,562.65 L84.51,560.57 L82.89,559.18 L85.02,559.01ZM86.88,558.74 L87.70,560.72 L89.83,560.89 L88.21,562.28 L88.71,564.35 L86.88,563.24 L85.06,564.35 L85.56,562.28 L83.93,560.89 L86.06,560.72ZM88.09,560.65 L88.91,562.62 L91.03,562.79 L89.41,564.18 L89.91,566.25 L88.09,565.14 L86.26,566.25 L86.76,564.18 L85.14,562.79 L87.27,562.62ZM89.32,562.53 L90.14,564.50 L92.27,564.67 L90.65,566.06 L91.14,568.13 L89.32,567.02 L87.50,568.13 L87.99,566.06 L86.37,564.67 L88.50,564.50ZM90.57,564.40 L91.39,566.37 L93.52,566.54 L91.90,567.93 L92.40,570.00 L90.57,568.89 L88.75,570.00 L89.25,567.93 L87.63,566.54 L89.75,566.37ZM91.82,566.27 L92.64,568.24 L94.77,568.41 L93.15,569.80 L93.65,571.87 L91.82,570.76 L90.00,571.87 L90.50,569.80 L88.88,568.41 L91.00,568.24ZM93.05,568.15 L93.87,570.12 L96.00,570.29 L94.38,571.68 L94.88,573.76 L93.05,572.65 L91.23,573.76 L91.73,571.68 L90.11,570.29 L92.23,570.12ZM94.25,570.06 L95.07,572.03 L97.20,572.20 L95.58,573.59 L96.07,575.66 L94.25,574.55 L92.43,575.66 L92.92,573.59 L91.30,572.20 L93.43,572.03ZM95.30,571.76 L96.12,573.73 L98.25,573.90 L96.63,575.29 L97.12,577.37 L95.30,576.25 L93.48,577.37 L93.97,575.29 L92.35,573.90 L94.48,573.73ZM96.50,573.66 L97.32,575.63 L99.45,575.80 L97.83,577.19 L98.33,579.27 L96.50,578.15 L94.68,579.27 L95.18,577.19 L93.56,575.80 L95.68,575.63ZM97.76,575.53 L98.58,577.50 L100.71,577.67 L99.09,579.06 L99.58,581.13 L97.76,580.02 L95.94,581.13 L96.43,579.06 L94.81,577.67 L96.94,577.50ZM99.05,577.37 L99.87,579.34 L102.00,579.51 L100.38,580.90 L100.87,582.98 L99.05,581.86 L97.23,582.98 L97.72,580.90 L96.10,579.51 L98.23,579.34ZM100.31,579.23 L101.13,581.20 L103.26,581.37 L101.64,582.76 L102.13,584.84 L100.31,583.73 L98.49,584.84 L98.98,582.76 L97.36,581.37 L99.49,581.20ZM101.50,581.14 L102.32,583.12 L104.44,583.29 L102.82,584.68 L103.32,586.75 L101.50,585.64 L99.67,586.75 L100.17,584.68 L98.55,583.29 L100.68,583.12ZM102.49,582.88 L103.31,584.85 L105.43,585.02 L103.81,586.41 L104.31,588.49 L102.49,587.38 L100.66,588.49 L101.16,586.41 L99.54,585.02 L101.67,584.85ZM103.45,584.63 L104.27,586.60 L106.40,586.78 L104.78,588.16 L105.27,590.24 L103.45,589.13 L101.63,590.24 L102.12,588.16 L100.50,586.78 L102.63,586.60ZM104.43,586.38 L105.24,588.35 L107.37,588.52 L105.75,589.91 L106.25,591.99 L104.43,590.88 L102.60,591.99 L103.10,589.91 L101.48,588.52 L103.61,588.35ZM105.42,588.11 L106.24,590.08 L108.37,590.25 L106.75,591.64 L107.25,593.72 L105.42,592.61 L103.60,593.72 L104.10,591.64 L102.48,590.25 L104.60,590.08ZM106.44,589.83 L107.26,591.81 L109.39,591.98 L107.77,593.37 L108.26,595.44 L106.44,594.33 L104.62,595.44 L105.12,593.37 L103.49,591.98 L105.62,591.81ZM107.47,591.55 L108.29,593.52 L110.42,593.69 L108.80,595.08 L109.29,597.16 L107.47,596.04 L105.65,597.16 L106.14,595.08 L104.52,593.69 L106.65,593.52ZM108.51,593.26 L109.33,595.23 L111.46,595.40 L109.84,596.79 L110.33,598.87 L108.51,597.75 L106.69,598.87 L107.18,596.79 L105.56,595.40 L107.69,595.23ZM109.56,594.96 L110.38,596.93 L112.51,597.10 L110.89,598.49 L111.39,600.57 L109.56,599.45 L107.74,600.57 L108.24,598.49 L106.61,597.10 L108.74,596.93ZM110.76,596.86 L111.58,598.84 L113.71,599.01 L112.09,600.40 L112.58,602.47 L110.76,601.36 L108.94,602.47 L109.43,600.40 L107.81,599.01 L109.94,598.84ZM111.98,598.76 L112.80,600.73 L114.92,600.90 L113.30,602.29 L113.80,604.37 L111.98,603.25 L110.15,604.37 L110.65,602.29 L109.03,600.90 L111.16,600.73ZM113.22,600.63 L114.04,602.60 L116.17,602.77 L114.55,604.16 L115.04,606.24 L113.22,605.13 L111.40,606.24 L111.89,604.16 L110.27,602.77 L112.40,602.60ZM114.49,602.49 L115.31,604.46 L117.44,604.63 L115.81,606.02 L116.31,608.10 L114.49,606.99 L112.67,608.10 L113.16,606.02 L111.54,604.63 L113.67,604.46ZM115.78,604.33 L116.60,606.30 L118.73,606.47 L117.11,607.86 L117.60,609.94 L115.78,608.83 L113.96,609.94 L114.45,607.86 L112.83,606.47 L114.96,606.30ZM117.11,606.15 L117.93,608.12 L120.06,608.29 L118.44,609.68 L118.93,611.75 L117.11,610.64 L115.29,611.75 L115.78,609.68 L114.16,608.29 L116.29,608.12ZM118.48,607.93 L119.30,609.90 L121.43,610.07 L119.81,611.46 L120.30,613.54 L118.48,612.43 L116.66,613.54 L117.16,611.46 L115.53,610.07 L117.66,609.90ZM119.90,609.67 L120.72,611.65 L122.85,611.82 L121.23,613.21 L121.73,615.28 L119.90,614.17 L118.08,615.28 L118.58,613.21 L116.95,611.82 L119.08,611.65ZM121.57,611.53 L122.39,613.51 L124.52,613.68 L122.90,615.07 L123.40,617.14 L121.57,616.03 L119.75,617.14 L120.25,615.07 L118.63,613.68 L120.75,613.51ZM123.35,613.29 L124.17,615.26 L126.30,615.43 L124.68,616.82 L125.18,618.90 L123.35,617.78 L121.53,618.90 L122.03,616.82 L120.40,615.43 L122.53,615.26ZM125.46,615.06 L126.28,617.03 L128.40,617.20 L126.78,618.59 L127.28,620.67 L125.46,619.56 L123.63,620.67 L124.13,618.59 L122.51,617.20 L124.64,617.03ZM127.86,616.86 L128.68,618.83 L130.80,619.00 L129.18,620.39 L129.68,622.47 L127.86,621.35 L126.03,622.47 L126.53,620.39 L124.91,619.00 L127.04,618.83ZM130.56,618.66 L131.38,620.63 L133.51,620.80 L131.89,622.19 L132.38,624.27 L130.56,623.16 L128.74,624.27 L129.23,622.19 L127.61,620.80 L129.74,620.63ZM133.85,620.46 L134.67,622.44 L136.79,622.61 L135.17,623.99 L135.67,626.07 L133.85,624.96 L132.02,626.07 L132.52,623.99 L130.90,622.61 L133.03,622.44ZM137.71,622.23 L138.53,624.20 L140.66,624.37 L139.04,625.76 L139.53,627.84 L137.71,626.72 L135.89,627.84 L136.38,625.76 L134.76,624.37 L136.89,624.20ZM142.14,623.93 L142.96,625.90 L145.09,626.08 L143.47,627.46 L143.97,629.54 L142.14,628.43 L140.32,629.54 L140.82,627.46 L139.19,626.08 L141.32,625.90ZM147.36,625.68 L148.18,627.65 L150.31,627.82 L148.69,629.21 L149.18,631.29 L147.36,630.17 L145.54,631.29 L146.03,629.21 L144.41,627.82 L146.54,627.65ZM152.57,627.44 L153.39,629.41 L155.52,629.58 L153.90,630.97 L154.39,633.05 L152.57,631.93 L150.75,633.05 L151.24,630.97 L149.62,629.58 L151.75,629.41ZM157.26,629.17 L158.08,631.14 L160.21,631.31 L158.59,632.70 L159.08,634.77 L157.26,633.66 L155.44,634.77 L155.93,632.70 L154.31,631.31 L156.44,631.14ZM161.69,630.88 L162.51,632.85 L164.64,633.02 L163.02,634.41 L163.51,636.49 L161.69,635.37 L159.87,636.49 L160.37,634.41 L158.74,633.02 L160.87,632.85ZM166.38,632.60 L167.20,634.58 L169.33,634.75 L167.71,636.14 L168.21,638.21 L166.38,637.10 L164.56,638.21 L165.06,636.14 L163.44,634.75 L165.56,634.58ZM171.07,634.35 L171.89,636.32 L174.02,636.49 L172.40,637.88 L172.89,639.95 L171.07,638.84 L169.25,639.95 L169.74,637.88 L168.12,636.49 L170.25,636.32ZM175.48,636.12 L176.30,638.09 L178.43,638.26 L176.80,639.65 L177.30,641.73 L175.48,640.61 L173.66,641.73 L174.15,639.65 L172.53,638.26 L174.66,638.09ZM179.63,637.85 L180.45,639.82 L182.58,639.99 L180.96,641.38 L181.46,643.45 L179.63,642.34 L177.81,643.45 L178.31,641.38 L176.69,639.99 L178.81,639.82ZM184.05,639.61 L184.87,641.58 L186.99,641.75 L185.37,643.14 L185.87,645.21 L184.05,644.10 L182.22,645.21 L182.72,643.14 L181.10,641.75 L183.23,641.58ZM188.73,641.35 L189.55,643.32 L191.68,643.49 L190.06,644.88 L190.55,646.96 L188.73,645.84 L186.91,646.96 L187.40,644.88 L185.78,643.49 L187.91,643.32ZM193.43,643.05 L194.25,645.03 L196.38,645.20 L194.76,646.59 L195.25,648.66 L193.43,647.55 L191.61,648.66 L192.10,646.59 L190.48,645.20 L192.61,645.03ZM198.37,644.83 L199.19,646.81 L201.32,646.98 L199.70,648.37 L200.19,650.44 L198.37,649.33 L196.55,650.44 L197.04,648.37 L195.42,646.98 L197.55,646.81ZM203.58,646.61 L204.40,648.58 L206.52,648.75 L204.90,650.14 L205.40,652.22 L203.58,651.10 L201.75,652.22 L202.25,650.14 L200.63,648.75 L202.76,648.58ZM208.81,648.31 L209.63,650.28 L211.75,650.45 L210.13,651.84 L210.63,653.92 L208.81,652.81 L206.98,653.92 L207.48,651.84 L205.86,650.45 L207.99,650.28ZM215.06,650.06 L215.88,652.03 L218.01,652.20 L216.39,653.59 L216.89,655.67 L215.06,654.56 L213.24,655.67 L213.74,653.59 L212.12,652.20 L214.24,652.03ZM221.31,651.83 L222.13,653.80 L224.26,653.97 L222.64,655.36 L223.14,657.44 L221.31,656.33 L219.49,657.44 L219.99,655.36 L218.37,653.97 L220.49,653.80ZM224.60,653.61 L225.42,655.58 L227.55,655.75 L225.93,657.14 L226.42,659.22 L224.60,658.10 L222.78,659.22 L223.27,657.14 L221.65,655.75 L223.78,655.58ZM227.33,655.37 L228.15,657.34 L230.28,657.51 L228.66,658.90 L229.15,660.98 L227.33,659.87 L225.51,660.98 L226.01,658.90 L224.38,657.51 L226.51,657.34ZM230.06,657.14 L230.88,659.11 L233.01,659.28 L231.39,660.67 L231.88,662.75 L230.06,661.63 L228.24,662.75 L228.73,660.67 L227.11,659.28 L229.24,659.11ZM232.74,658.97 L233.56,660.94 L235.69,661.11 L234.07,662.50 L234.57,664.58 L232.74,663.47 L230.92,664.58 L231.42,662.50 L229.79,661.11 L231.92,660.94ZM235.18,660.73 L236.00,662.70 L238.12,662.87 L236.50,664.26 L237.00,666.34 L235.18,665.22 L233.35,666.34 L233.85,664.26 L232.23,662.87 L234.36,662.70ZM237.57,662.53 L238.39,664.51 L240.52,664.68 L238.90,666.07 L239.39,668.14 L237.57,667.03 L235.75,668.14 L236.24,666.07 L234.62,664.68 L236.75,664.51ZM239.93,664.38 L240.75,666.35 L242.88,666.52 L241.26,667.91 L241.76,669.99 L239.93,668.88 L238.11,669.99 L238.61,667.91 L236.99,666.52 L239.11,666.35ZM242.08,666.10 L242.90,668.08 L245.03,668.25 L243.40,669.64 L243.90,671.71 L242.08,670.60 L240.26,671.71 L240.75,669.64 L239.13,668.25 L241.26,668.08ZM244.19,667.87 L245.01,669.84 L247.14,670.01 L245.52,671.40 L246.01,673.47 L244.19,672.36 L242.37,673.47 L242.86,671.40 L241.24,670.01 L243.37,669.84ZM246.28,669.65 L247.10,671.62 L249.23,671.80 L247.61,673.18 L248.10,675.26 L246.28,674.15 L244.46,675.26 L244.95,673.18 L243.33,671.80 L245.46,671.62ZM248.36,671.45 L249.18,673.42 L251.31,673.59 L249.69,674.98 L250.18,677.06 L248.36,675.94 L246.54,677.06 L247.04,674.98 L245.41,673.59 L247.54,673.42ZM250.45,673.24 L251.27,675.21 L253.40,675.38 L251.78,676.77 L252.27,678.85 L250.45,677.73 L248.63,678.85 L249.12,676.77 L247.50,675.38 L249.63,675.21ZM252.54,675.03 L253.36,677.00 L255.49,677.17 L253.87,678.56 L254.36,680.63 L252.54,679.52 L250.72,680.63 L251.21,678.56 L249.59,677.17 L251.72,677.00ZM254.63,676.81 L255.45,678.78 L257.58,678.95 L255.96,680.34 L256.45,682.42 L254.63,681.31 L252.81,682.42 L253.30,680.34 L251.68,678.95 L253.81,678.78ZM256.73,678.59 L257.55,680.56 L259.68,680.73 L258.06,682.12 L258.55,684.20 L256.73,683.08 L254.91,684.20 L255.40,682.12 L253.78,680.73 L255.91,680.56ZM258.85,680.34 L259.67,682.31 L261.80,682.48 L260.18,683.87 L260.67,685.95 L258.85,684.84 L257.03,685.95 L257.52,683.87 L255.90,682.48 L258.03,682.31ZM261.00,682.05 L261.82,684.02 L263.95,684.19 L262.33,685.58 L262.82,687.66 L261.00,686.55 L259.18,687.66 L259.68,685.58 L258.05,684.19 L260.18,684.02ZM263.36,683.90 L264.18,685.88 L266.31,686.05 L264.69,687.44 L265.18,689.51 L263.36,688.40 L261.54,689.51 L262.03,687.44 L260.41,686.05 L262.54,685.88ZM265.49,685.65 L266.31,687.62 L268.44,687.79 L266.82,689.18 L267.31,691.26 L265.49,690.14 L263.67,691.26 L264.16,689.18 L262.54,687.79 L264.67,687.62ZM267.57,687.44 L268.39,689.41 L270.52,689.58 L268.90,690.97 L269.40,693.05 L267.57,691.93 L265.75,693.05 L266.25,690.97 L264.63,689.58 L266.75,689.41ZM269.67,689.22 L270.49,691.20 L272.61,691.37 L270.99,692.76 L271.49,694.83 L269.67,693.72 L267.84,694.83 L268.34,692.76 L266.72,691.37 L268.85,691.20ZM270.24,689.71 L271.06,691.68 L273.19,691.85 L271.56,693.24 L272.06,695.32 L270.24,694.20 L268.42,695.32 L268.91,693.24 L267.29,691.85 L269.42,691.68Z" fill="#fff" stroke="#000" stroke-width="0.5"/>
<path d="M73.25,691.25 L74.04,693.16 L76.10,693.32 L74.53,694.67 L75.01,696.68 L73.25,695.60 L71.49,696.68 L71.97,694.67 L70.40,693.32 L72.46,693.16ZM72.94,689.53 L73.74,691.43 L75.80,691.60 L74.23,692.94 L74.71,694.95 L72.94,693.88 L71.18,694.95 L71.66,692.94 L70.09,691.60 L72.15,691.43ZM72.72,687.79 L73.51,689.70 L75.57,689.86 L74.01,691.21 L74.48,693.22 L72.72,692.14 L70.96,693.22 L71.44,691.21 L69.87,689.86 L71.93,689.70ZM72.71,686.04 L73.51,687.95 L75.57,688.12 L74.00,689.46 L74.48,691.47 L72.71,690.39 L70.95,691.47 L71.43,689.46 L69.86,688.12 L71.92,687.95ZM72.96,684.32 L73.75,686.22 L75.81,686.39 L74.24,687.73 L74.72,689.74 L72.96,688.67 L71.19,689.74 L71.67,687.73 L70.10,686.39 L72.16,686.22ZM73.84,682.53 L74.64,684.44 L76.70,684.61 L75.13,685.95 L75.61,687.96 L73.84,686.88 L72.08,687.96 L72.56,685.95 L70.99,684.61 L73.05,684.44ZM75.93,680.77 L76.72,682.68 L78.78,682.84 L77.21,684.19 L77.69,686.20 L75.93,685.12 L74.17,686.20 L74.65,684.19 L73.08,682.84 L75.14,682.68ZM78.95,679.01 L79.75,680.92 L81.81,681.08 L80.24,682.43 L80.72,684.44 L78.95,683.36 L77.19,684.44 L77.67,682.43 L76.10,681.08 L78.16,680.92ZM81.65,677.19 L82.44,679.10 L84.50,679.27 L82.93,680.61 L83.41,682.62 L81.65,681.54 L79.88,682.62 L80.36,680.61 L78.79,679.27 L80.85,679.10ZM83.80,675.48 L84.59,677.39 L86.65,677.55 L85.08,678.89 L85.56,680.90 L83.80,679.83 L82.03,680.90 L82.51,678.89 L80.94,677.55 L83.00,677.39ZM85.62,673.77 L86.41,675.68 L88.47,675.84 L86.90,677.18 L87.38,679.19 L85.62,678.12 L83.85,679.19 L84.33,677.18 L82.77,675.84 L84.82,675.68ZM87.25,671.88 L88.04,673.78 L90.10,673.95 L88.53,675.29 L89.01,677.30 L87.25,676.23 L85.48,677.30 L85.96,675.29 L84.40,673.95 L86.45,673.78ZM88.29,670.17 L89.08,672.08 L91.14,672.24 L89.57,673.59 L90.05,675.60 L88.29,674.52 L86.52,675.60 L87.00,673.59 L85.43,672.24 L87.49,672.08ZM89.27,668.43 L90.07,670.34 L92.13,670.50 L90.56,671.85 L91.04,673.86 L89.27,672.78 L87.51,673.86 L87.99,671.85 L86.42,670.50 L88.48,670.34ZM90.28,666.70 L91.07,668.61 L93.13,668.77 L91.56,670.12 L92.04,672.13 L90.28,671.05 L88.52,672.13 L89.00,670.12 L87.43,668.77 L89.49,668.61ZM91.31,664.99 L92.10,666.90 L94.16,667.06 L92.59,668.40 L93.07,670.41 L91.31,669.34 L89.55,670.41 L90.03,668.40 L88.46,667.06 L90.52,666.90ZM92.57,663.12 L93.36,665.03 L95.42,665.20 L93.85,666.54 L94.33,668.55 L92.57,667.47 L90.81,668.55 L91.29,666.54 L89.72,665.20 L91.78,665.03ZM93.90,661.31 L94.69,663.22 L96.75,663.38 L95.18,664.73 L95.66,666.74 L93.90,665.66 L92.14,666.74 L92.62,664.73 L91.05,663.38 L93.11,663.22ZM95.27,659.52 L96.06,661.43 L98.12,661.60 L96.55,662.94 L97.03,664.95 L95.27,663.87 L93.50,664.95 L93.98,662.94 L92.41,661.60 L94.47,661.43ZM96.61,657.72 L97.40,659.62 L99.46,659.79 L97.89,661.13 L98.37,663.14 L96.61,662.07 L94.84,663.14 L95.32,661.13 L93.76,659.79 L95.81,659.62ZM97.83,655.83 L98.62,657.74 L100.68,657.90 L99.11,659.25 L99.59,661.25 L97.83,660.18 L96.07,661.25 L96.55,659.25 L94.98,657.90 L97.04,657.74ZM98.84,654.10 L99.63,656.01 L101.69,656.17 L100.12,657.52 L100.60,659.53 L98.84,658.45 L97.07,659.53 L97.55,657.52 L95.98,656.17 L98.04,656.01ZM99.82,652.36 L100.62,654.27 L102.68,654.43 L101.11,655.78 L101.59,657.79 L99.82,656.71 L98.06,657.79 L98.54,655.78 L96.97,654.43 L99.03,654.27ZM100.81,650.62 L101.61,652.53 L103.67,652.70 L102.10,654.04 L102.58,656.05 L100.81,654.97 L99.05,656.05 L99.53,654.04 L97.96,652.70 L100.02,652.53ZM101.81,648.89 L102.60,650.79 L104.66,650.96 L103.09,652.30 L103.57,654.31 L101.81,653.24 L100.04,654.31 L100.52,652.30 L98.95,650.96 L101.01,650.79ZM102.80,647.15 L103.59,649.06 L105.65,649.22 L104.08,650.57 L104.56,652.58 L102.80,651.50 L101.03,652.58 L101.51,650.57 L99.94,649.22 L102.00,649.06ZM103.79,645.41 L104.59,647.32 L106.65,647.49 L105.08,648.83 L105.56,650.84 L103.79,649.76 L102.03,650.84 L102.51,648.83 L100.94,647.49 L103.00,647.32ZM104.80,643.69 L105.60,645.60 L107.66,645.76 L106.09,647.11 L106.57,649.12 L104.80,648.04 L103.04,649.12 L103.52,647.11 L101.95,645.76 L104.01,645.60ZM105.81,641.96 L106.61,643.87 L108.67,644.03 L107.10,645.38 L107.58,647.39 L105.81,646.31 L104.05,647.39 L104.53,645.38 L102.96,644.03 L105.02,643.87ZM106.78,640.21 L107.57,642.12 L109.63,642.28 L108.06,643.63 L108.54,645.64 L106.78,644.56 L105.02,645.64 L105.49,643.63 L103.93,642.28 L105.99,642.12ZM107.70,638.43 L108.49,640.34 L110.55,640.51 L108.98,641.85 L109.46,643.86 L107.70,642.78 L105.93,643.86 L106.41,641.85 L104.84,640.51 L106.90,640.34ZM108.57,636.63 L109.36,638.54 L111.42,638.71 L109.85,640.05 L110.33,642.06 L108.57,640.98 L106.80,642.06 L107.28,640.05 L105.71,638.71 L107.77,638.54ZM109.42,634.82 L110.21,636.73 L112.27,636.90 L110.70,638.24 L111.18,640.25 L109.42,639.17 L107.65,640.25 L108.13,638.24 L106.56,636.90 L108.62,636.73ZM110.24,633.00 L111.03,634.91 L113.09,635.07 L111.52,636.42 L112.00,638.43 L110.24,637.35 L108.48,638.43 L108.95,636.42 L107.39,635.07 L109.45,634.91ZM110.99,631.15 L111.78,633.05 L113.84,633.22 L112.27,634.56 L112.75,636.57 L110.99,635.50 L109.23,636.57 L109.71,634.56 L108.14,633.22 L110.20,633.05ZM111.63,629.25 L112.42,631.16 L114.48,631.32 L112.91,632.67 L113.39,634.68 L111.63,633.60 L109.86,634.68 L110.34,632.67 L108.77,631.32 L110.83,631.16ZM112.21,627.34 L113.00,629.24 L115.06,629.41 L113.49,630.75 L113.97,632.76 L112.21,631.69 L110.44,632.76 L110.92,630.75 L109.35,629.41 L111.41,629.24ZM112.81,625.43 L113.60,627.34 L115.66,627.50 L114.09,628.85 L114.57,630.86 L112.81,629.78 L111.05,630.86 L111.53,628.85 L109.96,627.50 L112.02,627.34ZM113.47,623.54 L114.26,625.45 L116.32,625.62 L114.75,626.96 L115.23,628.97 L113.47,627.89 L111.71,628.97 L112.19,626.96 L110.62,625.62 L112.68,625.45ZM114.17,621.67 L114.96,623.58 L117.02,623.74 L115.45,625.09 L115.93,627.10 L114.17,626.02 L112.41,627.10 L112.88,625.09 L111.32,623.74 L113.38,623.58ZM114.94,619.82 L115.74,621.73 L117.80,621.90 L116.23,623.24 L116.71,625.25 L114.94,624.17 L113.18,625.25 L113.66,623.24 L112.09,621.90 L114.15,621.73ZM115.86,618.05 L116.65,619.96 L118.71,620.12 L117.15,621.47 L117.62,623.48 L115.86,622.40 L114.10,623.48 L114.58,621.47 L113.01,620.12 L115.07,619.96ZM116.91,616.35 L117.71,618.26 L119.76,618.42 L118.20,619.77 L118.68,621.77 L116.91,620.70 L115.15,621.77 L115.63,619.77 L114.06,618.42 L116.12,618.26ZM118.22,614.52 L119.02,616.43 L121.08,616.59 L119.51,617.94 L119.99,619.95 L118.22,618.87 L116.46,619.95 L116.94,617.94 L115.37,616.59 L117.43,616.43ZM119.67,612.80 L120.47,614.71 L122.53,614.87 L120.96,616.22 L121.44,618.23 L119.67,617.15 L117.91,618.23 L118.39,616.22 L116.82,614.87 L118.88,614.71ZM121.41,611.01 L122.20,612.91 L124.26,613.08 L122.70,614.42 L123.17,616.43 L121.41,615.36 L119.65,616.43 L120.13,614.42 L118.56,613.08 L120.62,612.91ZM123.50,609.22 L124.29,611.13 L126.35,611.29 L124.78,612.64 L125.26,614.65 L123.50,613.57 L121.74,614.65 L122.22,612.64 L120.65,611.29 L122.71,611.13ZM125.94,607.48 L126.73,609.38 L128.79,609.55 L127.22,610.89 L127.70,612.90 L125.94,611.83 L124.18,612.90 L124.66,610.89 L123.09,609.55 L125.15,609.38ZM128.71,605.77 L129.50,607.68 L131.56,607.85 L129.99,609.19 L130.47,611.20 L128.71,610.12 L126.94,611.20 L127.42,609.19 L125.85,607.85 L127.91,607.68ZM132.03,604.04 L132.83,605.95 L134.89,606.12 L133.32,607.46 L133.80,609.47 L132.03,608.39 L130.27,609.47 L130.75,607.46 L129.18,606.12 L131.24,605.95ZM136.16,602.25 L136.95,604.16 L139.01,604.32 L137.44,605.67 L137.92,607.68 L136.16,606.60 L134.40,607.68 L134.87,605.67 L133.31,604.32 L135.37,604.16ZM140.86,600.54 L141.65,602.45 L143.71,602.61 L142.14,603.96 L142.62,605.97 L140.86,604.89 L139.09,605.97 L139.57,603.96 L138.00,602.61 L140.06,602.45ZM146.87,598.84 L147.66,600.74 L149.72,600.91 L148.15,602.25 L148.63,604.26 L146.87,603.19 L145.10,604.26 L145.58,602.25 L144.01,600.91 L146.07,600.74ZM153.44,597.30 L154.23,599.21 L156.29,599.37 L154.72,600.72 L155.20,602.73 L153.44,601.65 L151.68,602.73 L152.16,600.72 L150.59,599.37 L152.65,599.21ZM160.03,595.83 L160.82,597.74 L162.88,597.90 L161.31,599.25 L161.79,601.26 L160.03,600.18 L158.26,601.26 L158.74,599.25 L157.17,597.90 L159.23,597.74ZM166.60,594.29 L167.39,596.20 L169.45,596.36 L167.88,597.71 L168.36,599.72 L166.60,598.64 L164.84,599.72 L165.32,597.71 L163.75,596.36 L165.81,596.20ZM173.17,592.73 L173.96,594.64 L176.02,594.80 L174.45,596.15 L174.93,598.16 L173.17,597.08 L171.40,598.16 L171.88,596.15 L170.31,594.80 L172.37,594.64ZM179.73,591.15 L180.52,593.06 L182.58,593.23 L181.01,594.57 L181.49,596.58 L179.73,595.50 L177.97,596.58 L178.45,594.57 L176.88,593.23 L178.94,593.06ZM186.28,589.54 L187.08,591.45 L189.14,591.61 L187.57,592.96 L188.05,594.97 L186.28,593.89 L184.52,594.97 L185.00,592.96 L183.43,591.61 L185.49,591.45ZM192.81,587.81 L193.60,589.72 L195.66,589.88 L194.09,591.23 L194.57,593.24 L192.81,592.16 L191.05,593.24 L191.52,591.23 L189.96,589.88 L192.01,589.72ZM197.49,586.09 L198.29,588.00 L200.35,588.16 L198.78,589.51 L199.26,591.52 L197.49,590.44 L195.73,591.52 L196.21,589.51 L194.64,588.16 L196.70,588.00ZM200.54,584.38 L201.34,586.29 L203.40,586.45 L201.83,587.80 L202.31,589.81 L200.54,588.73 L198.78,589.81 L199.26,587.80 L197.69,586.45 L199.75,586.29ZM203.31,582.66 L204.10,584.57 L206.16,584.74 L204.59,586.08 L205.07,588.09 L203.31,587.01 L201.54,588.09 L202.02,586.08 L200.45,584.74 L202.51,584.57ZM206.04,580.91 L206.84,582.82 L208.90,582.99 L207.33,584.33 L207.81,586.34 L206.04,585.26 L204.28,586.34 L204.76,584.33 L203.19,582.99 L205.25,582.82ZM208.77,579.15 L209.57,581.06 L211.63,581.22 L210.06,582.57 L210.54,584.58 L208.77,583.50 L207.01,584.58 L207.49,582.57 L205.92,581.22 L207.98,581.06ZM211.47,577.33 L212.26,579.24 L214.32,579.40 L212.75,580.75 L213.23,582.76 L211.47,581.68 L209.70,582.76 L210.18,580.75 L208.61,579.40 L210.67,579.24ZM213.91,575.59 L214.70,577.50 L216.76,577.66 L215.19,579.01 L215.67,581.02 L213.91,579.94 L212.15,581.02 L212.63,579.01 L211.06,577.66 L213.12,577.50ZM216.32,573.81 L217.12,575.72 L219.18,575.88 L217.61,577.23 L218.09,579.24 L216.32,578.16 L214.56,579.24 L215.04,577.23 L213.47,575.88 L215.53,575.72ZM218.68,571.96 L219.48,573.87 L221.54,574.03 L219.97,575.37 L220.45,577.38 L218.68,576.31 L216.92,577.38 L217.40,575.37 L215.83,574.03 L217.89,573.87ZM220.78,570.18 L221.57,572.09 L223.63,572.25 L222.06,573.60 L222.54,575.61 L220.78,574.53 L219.02,575.61 L219.50,573.60 L217.93,572.25 L219.99,572.09ZM222.81,568.32 L223.60,570.23 L225.66,570.40 L224.09,571.74 L224.57,573.75 L222.81,572.67 L221.05,573.75 L221.53,571.74 L219.96,570.40 L222.02,570.23ZM224.62,566.60 L225.41,568.51 L227.47,568.67 L225.90,570.02 L226.38,572.02 L224.62,570.95 L222.86,572.02 L223.33,570.02 L221.77,568.67 L223.83,568.51ZM226.42,564.86 L227.21,566.77 L229.27,566.94 L227.70,568.28 L228.18,570.29 L226.42,569.21 L224.66,570.29 L225.13,568.28 L223.57,566.94 L225.63,566.77ZM228.22,563.13 L229.01,565.03 L231.07,565.20 L229.50,566.54 L229.98,568.55 L228.22,567.48 L226.45,568.55 L226.93,566.54 L225.36,565.20 L227.42,565.03ZM229.95,561.32 L230.74,563.23 L232.80,563.40 L231.23,564.74 L231.71,566.75 L229.95,565.67 L228.19,566.75 L228.67,564.74 L227.10,563.40 L229.16,563.23ZM231.62,559.46 L232.41,561.37 L234.47,561.54 L232.90,562.88 L233.38,564.89 L231.62,563.81 L229.85,564.89 L230.33,562.88 L228.76,561.54 L230.82,561.37ZM233.08,557.76 L233.88,559.66 L235.94,559.83 L234.37,561.17 L234.85,563.18 L233.08,562.11 L231.32,563.18 L231.80,561.17 L230.23,559.83 L232.29,559.66ZM234.53,556.03 L235.32,557.94 L237.38,558.10 L235.81,559.45 L236.29,561.46 L234.53,560.38 L232.76,561.46 L233.24,559.45 L231.67,558.10 L233.73,557.94ZM235.96,554.29 L236.75,556.20 L238.81,556.37 L237.24,557.71 L237.72,559.72 L235.96,558.64 L234.20,559.72 L234.68,557.71 L233.11,556.37 L235.17,556.20ZM237.38,552.55 L238.18,554.46 L240.24,554.63 L238.67,555.97 L239.15,557.98 L237.38,556.90 L235.62,557.98 L236.10,555.97 L234.53,554.63 L236.59,554.46ZM238.80,550.81 L239.60,552.71 L241.66,552.88 L240.09,554.22 L240.57,556.23 L238.80,555.16 L237.04,556.23 L237.52,554.22 L235.95,552.88 L238.01,552.71ZM240.22,549.06 L241.01,550.96 L243.07,551.13 L241.50,552.47 L241.98,554.48 L240.22,553.41 L238.45,554.48 L238.93,552.47 L237.36,551.13 L239.42,550.96ZM241.62,547.30 L242.42,549.21 L244.48,549.37 L242.91,550.72 L243.39,552.73 L241.62,551.65 L239.86,552.73 L240.34,550.72 L238.77,549.37 L240.83,549.21ZM243.02,545.54 L243.81,547.44 L245.87,547.61 L244.30,548.95 L244.78,550.96 L243.02,549.89 L241.25,550.96 L241.73,548.95 L240.16,547.61 L242.22,547.44ZM244.40,543.76 L245.19,545.67 L247.25,545.83 L245.68,547.18 L246.16,549.19 L244.40,548.11 L242.64,549.19 L243.12,547.18 L241.55,545.83 L243.61,545.67ZM245.77,541.98 L246.56,543.88 L248.62,544.05 L247.05,545.39 L247.53,547.40 L245.77,546.33 L244.01,547.40 L244.49,545.39 L242.92,544.05 L244.98,543.88ZM247.13,540.18 L247.92,542.09 L249.98,542.25 L248.41,543.60 L248.89,545.61 L247.13,544.53 L245.36,545.61 L245.84,543.60 L244.27,542.25 L246.33,542.09ZM248.46,538.37 L249.25,540.27 L251.31,540.44 L249.74,541.78 L250.22,543.79 L248.46,542.72 L246.70,543.79 L247.18,541.78 L245.61,540.44 L247.67,540.27ZM249.77,536.54 L250.57,538.45 L252.63,538.61 L251.06,539.96 L251.54,541.97 L249.77,540.89 L248.01,541.97 L248.49,539.96 L246.92,538.61 L248.98,538.45ZM251.08,534.71 L251.88,536.62 L253.94,536.78 L252.37,538.13 L252.85,540.14 L251.08,539.06 L249.32,540.14 L249.80,538.13 L248.23,536.78 L250.29,536.62ZM252.39,532.88 L253.19,534.79 L255.25,534.96 L253.68,536.30 L254.16,538.31 L252.39,537.23 L250.63,538.31 L251.11,536.30 L249.54,534.96 L251.60,534.79ZM253.73,531.07 L254.52,532.98 L256.58,533.14 L255.01,534.49 L255.49,536.50 L253.73,535.42 L251.96,536.50 L252.44,534.49 L250.87,533.14 L252.93,532.98ZM255.07,529.27 L255.87,531.18 L257.93,531.34 L256.36,532.69 L256.84,534.69 L255.07,533.62 L253.31,534.69 L253.79,532.69 L252.22,531.34 L254.28,531.18ZM256.43,527.47 L257.22,529.38 L259.28,529.54 L257.71,530.89 L258.19,532.90 L256.43,531.82 L254.67,532.90 L255.15,530.89 L253.58,529.54 L255.64,529.38ZM257.79,525.68 L258.59,527.59 L260.65,527.75 L259.08,529.10 L259.56,531.11 L257.79,530.03 L256.03,531.11 L256.51,529.10 L254.94,527.75 L257.00,527.59ZM259.18,523.91 L259.98,525.82 L262.04,525.99 L260.47,527.33 L260.95,529.34 L259.18,528.26 L257.42,529.34 L257.90,527.33 L256.33,525.99 L258.39,525.82ZM260.62,522.18 L261.41,524.09 L263.47,524.25 L261.90,525.60 L262.38,527.61 L260.62,526.53 L258.86,527.61 L259.34,525.60 L257.77,524.25 L259.83,524.09ZM262.27,520.31 L263.07,522.21 L265.13,522.38 L263.56,523.72 L264.04,525.73 L262.27,524.66 L260.51,525.73 L260.99,523.72 L259.42,522.38 L261.48,522.21ZM264.01,518.51 L264.80,520.41 L266.86,520.58 L265.29,521.92 L265.77,523.93 L264.01,522.86 L262.24,523.93 L262.72,521.92 L261.15,520.58 L263.21,520.41ZM266.42,516.74 L267.21,518.65 L269.27,518.82 L267.70,520.16 L268.18,522.17 L266.42,521.09 L264.66,522.17 L265.14,520.16 L263.57,518.82 L265.63,518.65ZM271.36,516.75 L272.15,518.66 L274.21,518.82 L272.64,520.17 L273.12,522.18 L271.36,521.10 L269.59,522.18 L270.07,520.17 L268.50,518.82 L270.56,518.66Z" fill="#000" stroke="none"/>
<path d="M73.25,518.50 L74.04,520.40 L76.10,520.57 L74.53,521.91 L75.01,523.92 L73.25,522.85 L71.49,523.92 L71.97,521.91 L70.40,520.57 L72.46,520.40ZM73.31,520.24 L74.10,522.15 L76.16,522.32 L74.59,523.66 L75.07,525.67 L73.31,524.59 L71.54,525.67 L72.02,523.66 L70.45,522.32 L72.51,522.15ZM73.36,521.99 L74.16,523.90 L76.22,524.07 L74.65,525.41 L75.13,527.42 L73.36,526.34 L71.60,527.42 L72.08,525.41 L70.51,524.07 L72.57,523.90ZM73.44,523.74 L74.23,525.65 L76.29,525.81 L74.72,527.16 L75.20,529.17 L73.44,528.09 L71.68,529.17 L72.16,527.16 L70.59,525.81 L72.65,525.65ZM73.54,525.49 L74.33,527.40 L76.39,527.56 L74.82,528.91 L75.30,530.92 L73.54,529.84 L71.78,530.92 L72.25,528.91 L70.69,527.56 L72.74,527.40ZM73.66,527.23 L74.45,529.14 L76.51,529.31 L74.94,530.65 L75.42,532.66 L73.66,531.58 L71.90,532.66 L72.38,530.65 L70.81,529.31 L72.87,529.14ZM73.80,528.98 L74.60,530.89 L76.66,531.05 L75.09,532.40 L75.57,534.41 L73.80,533.33 L72.04,534.41 L72.52,532.40 L70.95,531.05 L73.01,530.89ZM73.98,530.72 L74.77,532.63 L76.83,532.79 L75.26,534.14 L75.74,536.15 L73.98,535.07 L72.21,536.15 L72.69,534.14 L71.12,532.79 L73.18,532.63ZM74.18,532.46 L74.98,534.37 L77.04,534.53 L75.47,535.87 L75.95,537.88 L74.18,536.81 L72.42,537.88 L72.90,535.87 L71.33,534.53 L73.39,534.37ZM74.43,534.19 L75.22,536.10 L77.28,536.26 L75.71,537.61 L76.19,539.62 L74.43,538.54 L72.66,539.62 L73.14,537.61 L71.57,536.26 L73.63,536.10ZM74.71,535.92 L75.50,537.83 L77.56,537.99 L75.99,539.33 L76.47,541.34 L74.71,540.27 L72.95,541.34 L73.42,539.33 L71.86,537.99 L73.91,537.83ZM75.04,537.64 L75.83,539.54 L77.89,539.71 L76.32,541.05 L76.80,543.06 L75.04,541.99 L73.28,543.06 L73.76,541.05 L72.19,539.71 L74.25,539.54ZM75.55,539.57 L76.34,541.48 L78.40,541.64 L76.83,542.99 L77.31,545.00 L75.55,543.92 L73.78,545.00 L74.26,542.99 L72.69,541.64 L74.75,541.48ZM76.22,541.45 L77.01,543.36 L79.07,543.53 L77.50,544.87 L77.98,546.88 L76.22,545.80 L74.46,546.88 L74.94,544.87 L73.37,543.53 L75.43,543.36ZM76.99,543.30 L77.78,545.21 L79.84,545.37 L78.28,546.71 L78.75,548.72 L76.99,547.65 L75.23,548.72 L75.71,546.71 L74.14,545.37 L76.20,545.21ZM77.85,545.10 L78.64,547.01 L80.70,547.18 L79.13,548.52 L79.61,550.53 L77.85,549.45 L76.09,550.53 L76.57,548.52 L75.00,547.18 L77.06,547.01ZM78.85,546.83 L79.65,548.74 L81.71,548.91 L80.14,550.25 L80.62,552.26 L78.85,551.18 L77.09,552.26 L77.57,550.25 L76.00,548.91 L78.06,548.74ZM80.12,548.69 L80.91,550.60 L82.97,550.77 L81.40,552.11 L81.88,554.12 L80.12,553.04 L78.35,554.12 L78.83,552.11 L77.26,550.77 L79.32,550.60ZM81.46,550.50 L82.25,552.41 L84.31,552.57 L82.74,553.92 L83.22,555.93 L81.46,554.85 L79.70,555.93 L80.18,553.92 L78.61,552.57 L80.67,552.41ZM82.71,552.37 L83.51,554.27 L85.57,554.44 L84.00,555.78 L84.48,557.79 L82.71,556.72 L80.95,557.79 L81.43,555.78 L79.86,554.44 L81.92,554.27ZM83.77,554.07 L84.56,555.98 L86.62,556.14 L85.05,557.48 L85.53,559.49 L83.77,558.42 L82.00,559.49 L82.48,557.48 L80.91,556.14 L82.97,555.98ZM84.80,555.78 L85.59,557.69 L87.65,557.85 L86.08,559.20 L86.56,561.21 L84.80,560.13 L83.04,561.21 L83.52,559.20 L81.95,557.85 L84.01,557.69ZM85.84,557.49 L86.63,559.40 L88.69,559.56 L87.12,560.91 L87.60,562.92 L85.84,561.84 L84.07,562.92 L84.55,560.91 L82.98,559.56 L85.04,559.40ZM86.88,559.19 L87.68,561.10 L89.74,561.27 L88.17,562.61 L88.65,564.62 L86.88,563.54 L85.12,564.62 L85.60,562.61 L84.03,561.27 L86.09,561.10ZM88.09,561.09 L88.88,563.00 L90.94,563.17 L89.37,564.51 L89.85,566.52 L88.09,565.44 L86.32,566.52 L86.80,564.51 L85.23,563.17 L87.29,563.00ZM89.32,562.98 L90.11,564.88 L92.17,565.05 L90.60,566.39 L91.08,568.40 L89.32,567.33 L87.56,568.40 L88.04,566.39 L86.47,565.05 L88.53,564.88ZM90.57,564.84 L91.37,566.75 L93.43,566.92 L91.86,568.26 L92.34,570.27 L90.57,569.19 L88.81,570.27 L89.29,568.26 L87.72,566.92 L89.78,566.75ZM91.82,566.71 L92.62,568.62 L94.68,568.79 L93.11,570.13 L93.59,572.14 L91.82,571.06 L90.06,572.14 L90.54,570.13 L88.97,568.79 L91.03,568.62ZM93.05,568.60 L93.85,570.51 L95.91,570.67 L94.34,572.02 L94.82,574.03 L93.05,572.95 L91.29,574.03 L91.77,572.02 L90.20,570.67 L92.26,570.51ZM94.25,570.51 L95.04,572.41 L97.10,572.58 L95.53,573.92 L96.01,575.93 L94.25,574.86 L92.49,575.93 L92.97,573.92 L91.40,572.58 L93.46,572.41ZM95.30,572.21 L96.10,574.11 L98.15,574.28 L96.59,575.62 L97.06,577.63 L95.30,576.56 L93.54,577.63 L94.02,575.62 L92.45,574.28 L94.51,574.11ZM96.50,574.11 L97.30,576.02 L99.36,576.18 L97.79,577.53 L98.27,579.54 L96.50,578.46 L94.74,579.54 L95.22,577.53 L93.65,576.18 L95.71,576.02ZM97.76,575.97 L98.55,577.88 L100.61,578.05 L99.04,579.39 L99.52,581.40 L97.76,580.32 L96.00,581.40 L96.48,579.39 L94.91,578.05 L96.97,577.88ZM99.05,577.82 L99.84,579.73 L101.90,579.89 L100.33,581.24 L100.81,583.25 L99.05,582.17 L97.29,583.25 L97.77,581.24 L96.20,579.89 L98.26,579.73ZM100.31,579.68 L101.10,581.59 L103.16,581.75 L101.59,583.10 L102.07,585.11 L100.31,584.03 L98.55,585.11 L99.03,583.10 L97.46,581.75 L99.52,581.59ZM101.50,581.59 L102.29,583.50 L104.35,583.67 L102.78,585.01 L103.26,587.02 L101.50,585.94 L99.73,587.02 L100.21,585.01 L98.64,583.67 L100.70,583.50ZM102.49,583.33 L103.28,585.24 L105.34,585.40 L103.77,586.75 L104.25,588.76 L102.49,587.68 L100.72,588.76 L101.20,586.75 L99.63,585.40 L101.69,585.24ZM103.45,585.08 L104.24,586.99 L106.30,587.16 L104.74,588.50 L105.21,590.51 L103.45,589.43 L101.69,590.51 L102.17,588.50 L100.60,587.16 L102.66,586.99ZM104.43,586.83 L105.22,588.74 L107.28,588.90 L105.71,590.25 L106.19,592.26 L104.43,591.18 L102.66,592.26 L103.14,590.25 L101.57,588.90 L103.63,588.74ZM105.42,588.56 L106.22,590.47 L108.28,590.63 L106.71,591.98 L107.19,593.99 L105.42,592.91 L103.66,593.99 L104.14,591.98 L102.57,590.63 L104.63,590.47ZM106.44,590.28 L107.24,592.19 L109.30,592.36 L107.73,593.70 L108.21,595.71 L106.44,594.63 L104.68,595.71 L105.16,593.70 L103.59,592.36 L105.65,592.19ZM107.47,592.00 L108.26,593.91 L110.32,594.07 L108.76,595.42 L109.23,597.43 L107.47,596.35 L105.71,597.43 L106.19,595.42 L104.62,594.07 L106.68,593.91ZM108.51,593.71 L109.30,595.61 L111.36,595.78 L109.80,597.12 L110.27,599.13 L108.51,598.06 L106.75,599.13 L107.23,597.12 L105.66,595.78 L107.72,595.61ZM109.56,595.41 L110.36,597.32 L112.42,597.48 L110.85,598.83 L111.33,600.83 L109.56,599.76 L107.80,600.83 L108.28,598.83 L106.71,597.48 L108.77,597.32ZM110.76,597.31 L111.55,599.22 L113.61,599.39 L112.04,600.73 L112.52,602.74 L110.76,601.66 L109.00,602.74 L109.48,600.73 L107.91,599.39 L109.97,599.22ZM111.98,599.21 L112.77,601.11 L114.83,601.28 L113.26,602.62 L113.74,604.63 L111.98,603.56 L110.21,604.63 L110.69,602.62 L109.12,601.28 L111.18,601.11ZM113.22,601.08 L114.01,602.99 L116.07,603.15 L114.50,604.50 L114.98,606.51 L113.22,605.43 L111.46,606.51 L111.94,604.50 L110.37,603.15 L112.43,602.99ZM114.49,602.94 L115.28,604.85 L117.34,605.01 L115.77,606.36 L116.25,608.37 L114.49,607.29 L112.72,608.37 L113.20,606.36 L111.63,605.01 L113.69,604.85ZM115.78,604.78 L116.57,606.69 L118.63,606.85 L117.07,608.20 L117.54,610.21 L115.78,609.13 L114.02,610.21 L114.50,608.20 L112.93,606.85 L114.99,606.69ZM117.11,606.60 L117.90,608.50 L119.96,608.67 L118.39,610.01 L118.87,612.02 L117.11,610.95 L115.35,612.02 L115.83,610.01 L114.26,608.67 L116.32,608.50ZM118.48,608.38 L119.28,610.29 L121.34,610.45 L119.77,611.80 L120.25,613.81 L118.48,612.73 L116.72,613.81 L117.20,611.80 L115.63,610.45 L117.69,610.29ZM119.90,610.12 L120.70,612.03 L122.76,612.20 L121.19,613.54 L121.67,615.55 L119.90,614.47 L118.14,615.55 L118.62,613.54 L117.05,612.20 L119.11,612.03ZM121.57,611.98 L122.37,613.89 L124.43,614.06 L122.86,615.40 L123.34,617.41 L121.57,616.33 L119.81,617.41 L120.29,615.40 L118.72,614.06 L120.78,613.89ZM123.35,613.74 L124.15,615.65 L126.21,615.81 L124.64,617.15 L125.12,619.16 L123.35,618.09 L121.59,619.16 L122.07,617.15 L120.50,615.81 L122.56,615.65ZM125.46,615.51 L126.25,617.42 L128.31,617.58 L126.74,618.93 L127.22,620.94 L125.46,619.86 L123.69,620.94 L124.17,618.93 L122.60,617.58 L124.66,617.42ZM127.86,617.31 L128.65,619.22 L130.71,619.38 L129.14,620.73 L129.62,622.74 L127.86,621.66 L126.09,622.74 L126.57,620.73 L125.00,619.38 L127.06,619.22ZM130.56,619.11 L131.35,621.02 L133.41,621.18 L131.84,622.53 L132.32,624.54 L130.56,623.46 L128.80,624.54 L129.28,622.53 L127.71,621.18 L129.77,621.02ZM133.85,620.91 L134.64,622.82 L136.70,622.99 L135.13,624.33 L135.61,626.34 L133.85,625.26 L132.08,626.34 L132.56,624.33 L130.99,622.99 L133.05,622.82ZM137.71,622.68 L138.50,624.59 L140.56,624.75 L138.99,626.10 L139.47,628.11 L137.71,627.03 L135.95,628.11 L136.43,626.10 L134.86,624.75 L136.92,624.59ZM142.14,624.38 L142.94,626.29 L145.00,626.45 L143.43,627.80 L143.91,629.81 L142.14,628.73 L140.38,629.81 L140.86,627.80 L139.29,626.45 L141.35,626.29ZM147.36,626.13 L148.15,628.04 L150.21,628.20 L148.64,629.55 L149.12,631.56 L147.36,630.48 L145.60,631.56 L146.07,629.55 L144.51,628.20 L146.56,628.04ZM152.57,627.89 L153.36,629.79 L155.42,629.96 L153.85,631.30 L154.33,633.31 L152.57,632.24 L150.81,633.31 L151.29,631.30 L149.72,629.96 L151.78,629.79ZM157.26,629.61 L158.05,631.52 L160.11,631.69 L158.55,633.03 L159.02,635.04 L157.26,633.96 L155.50,635.04 L155.98,633.03 L154.41,631.69 L156.47,631.52ZM161.69,631.33 L162.49,633.24 L164.54,633.40 L162.98,634.74 L163.46,636.75 L161.69,635.68 L159.93,636.75 L160.41,634.74 L158.84,633.40 L160.90,633.24ZM166.38,633.05 L167.18,634.96 L169.24,635.13 L167.67,636.47 L168.15,638.48 L166.38,637.40 L164.62,638.48 L165.10,636.47 L163.53,635.13 L165.59,634.96ZM171.07,634.79 L171.86,636.70 L173.92,636.87 L172.36,638.21 L172.83,640.22 L171.07,639.14 L169.31,640.22 L169.79,638.21 L168.22,636.87 L170.28,636.70ZM175.48,636.57 L176.27,638.48 L178.33,638.64 L176.76,639.98 L177.24,641.99 L175.48,640.92 L173.71,641.99 L174.19,639.98 L172.62,638.64 L174.68,638.48ZM179.63,638.29 L180.43,640.20 L182.49,640.37 L180.92,641.71 L181.40,643.72 L179.63,642.64 L177.87,643.72 L178.35,641.71 L176.78,640.37 L178.84,640.20ZM184.05,640.05 L184.84,641.96 L186.90,642.13 L185.33,643.47 L185.81,645.48 L184.05,644.40 L182.28,645.48 L182.76,643.47 L181.19,642.13 L183.25,641.96ZM188.73,641.80 L189.52,643.70 L191.58,643.87 L190.02,645.21 L190.49,647.22 L188.73,646.15 L186.97,647.22 L187.45,645.21 L185.88,643.87 L187.94,643.70ZM193.43,643.50 L194.22,645.41 L196.28,645.58 L194.72,646.92 L195.19,648.93 L193.43,647.85 L191.67,648.93 L192.15,646.92 L190.58,645.58 L192.64,645.41ZM198.37,645.28 L199.16,647.19 L201.22,647.36 L199.65,648.70 L200.13,650.71 L198.37,649.63 L196.61,650.71 L197.09,648.70 L195.52,647.36 L197.58,647.19ZM203.85,647.02 L204.64,648.93 L206.70,649.09 L205.13,650.44 L205.61,652.45 L203.85,651.37 L202.09,652.45 L202.57,650.44 L201.00,649.09 L203.06,648.93ZM208.81,648.72 L209.61,650.63 L211.67,650.79 L210.10,652.14 L210.58,654.15 L208.81,653.07 L207.05,654.15 L207.53,652.14 L205.96,650.79 L208.02,650.63ZM211.86,650.43 L212.66,652.34 L214.72,652.50 L213.15,653.85 L213.63,655.86 L211.86,654.78 L210.10,655.86 L210.58,653.85 L209.01,652.50 L211.07,652.34ZM214.33,652.14 L215.13,654.04 L217.18,654.21 L215.62,655.55 L216.10,657.56 L214.33,656.49 L212.57,657.56 L213.05,655.55 L211.48,654.21 L213.54,654.04ZM216.79,653.85 L217.59,655.76 L219.65,655.92 L218.08,657.27 L218.56,659.28 L216.79,658.20 L215.03,659.28 L215.51,657.27 L213.94,655.92 L216.00,655.76ZM219.22,655.61 L220.02,657.52 L222.08,657.68 L220.51,659.03 L220.99,661.04 L219.22,659.96 L217.46,661.04 L217.94,659.03 L216.37,657.68 L218.43,657.52ZM221.63,657.40 L222.43,659.31 L224.48,659.47 L222.92,660.81 L223.40,662.82 L221.63,661.75 L219.87,662.82 L220.35,660.81 L218.78,659.47 L220.84,659.31ZM224.02,659.21 L224.81,661.12 L226.87,661.29 L225.30,662.63 L225.78,664.64 L224.02,663.56 L222.26,664.64 L222.74,662.63 L221.17,661.29 L223.23,661.12ZM226.38,661.06 L227.18,662.97 L229.24,663.14 L227.67,664.48 L228.15,666.49 L226.38,665.41 L224.62,666.49 L225.10,664.48 L223.53,663.14 L225.59,662.97ZM228.54,662.77 L229.33,664.68 L231.39,664.84 L229.82,666.19 L230.30,668.20 L228.54,667.12 L226.77,668.20 L227.25,666.19 L225.68,664.84 L227.74,664.68ZM230.69,664.48 L231.48,666.39 L233.54,666.56 L231.97,667.90 L232.45,669.91 L230.69,668.83 L228.92,669.91 L229.40,667.90 L227.84,666.56 L229.89,666.39ZM232.84,666.20 L233.63,668.11 L235.69,668.28 L234.12,669.62 L234.60,671.63 L232.84,670.55 L231.07,671.63 L231.55,669.62 L229.98,668.28 L232.04,668.11ZM234.97,667.93 L235.77,669.84 L237.83,670.00 L236.26,671.35 L236.74,673.36 L234.97,672.28 L233.21,673.36 L233.69,671.35 L232.12,670.00 L234.18,669.84ZM237.10,669.67 L237.89,671.58 L239.95,671.75 L238.38,673.09 L238.86,675.10 L237.10,674.02 L235.34,675.10 L235.82,673.09 L234.25,671.75 L236.31,671.58ZM239.21,671.44 L240.00,673.35 L242.06,673.51 L240.49,674.86 L240.97,676.87 L239.21,675.79 L237.44,676.87 L237.92,674.86 L236.35,673.51 L238.41,673.35ZM241.30,673.23 L242.09,675.14 L244.15,675.30 L242.58,676.65 L243.06,678.66 L241.30,677.58 L239.53,678.66 L240.01,676.65 L238.44,675.30 L240.50,675.14ZM243.38,675.02 L244.18,676.93 L246.24,677.09 L244.67,678.44 L245.15,680.45 L243.38,679.37 L241.62,680.45 L242.10,678.44 L240.53,677.09 L242.59,676.93ZM245.49,676.79 L246.28,678.70 L248.34,678.87 L246.77,680.21 L247.25,682.22 L245.49,681.14 L243.72,682.22 L244.20,680.21 L242.63,678.87 L244.69,678.70ZM247.61,678.54 L248.41,680.44 L250.47,680.61 L248.90,681.95 L249.38,683.96 L247.61,682.89 L245.85,683.96 L246.33,681.95 L244.76,680.61 L246.82,680.44ZM249.76,680.25 L250.56,682.16 L252.62,682.32 L251.05,683.67 L251.53,685.68 L249.76,684.60 L248.00,685.68 L248.48,683.67 L246.91,682.32 L248.97,682.16ZM251.92,681.96 L252.71,683.86 L254.77,684.03 L253.20,685.37 L253.68,687.38 L251.92,686.31 L250.16,687.38 L250.64,685.37 L249.07,684.03 L251.13,683.86ZM254.08,683.66 L254.87,685.57 L256.93,685.73 L255.36,687.08 L255.84,689.09 L254.08,688.01 L252.32,689.09 L252.80,687.08 L251.23,685.73 L253.29,685.57ZM256.45,685.50 L257.24,687.41 L259.30,687.58 L257.73,688.92 L258.21,690.93 L256.45,689.85 L254.68,690.93 L255.16,688.92 L253.59,687.58 L255.65,687.41ZM258.59,687.22 L259.39,689.13 L261.45,689.30 L259.88,690.64 L260.36,692.65 L258.59,691.57 L256.83,692.65 L257.31,690.64 L255.74,689.30 L257.80,689.13ZM260.68,689.01 L261.47,690.92 L263.53,691.09 L261.96,692.43 L262.44,694.44 L260.68,693.36 L258.92,694.44 L259.40,692.43 L257.83,691.09 L259.89,690.92ZM260.68,689.01 L261.47,690.92 L263.53,691.09 L261.96,692.43 L262.44,694.44 L260.68,693.36 L258.92,694.44 L259.40,692.43 L257.83,691.09 L259.89,690.92Z" fill="#000" stroke="none"/>
<circle cx="295.6" cy="612.9" r="2.5" fill="#000"/>
<path d="M295.60,628.15 L298.90,633.90 L292.30,633.90Z" fill="#fff" stroke="#000" stroke-width="0.6"/>
<path d="M295.60,647.40 L296.45,649.44 L298.64,649.61 L296.97,651.04 L297.48,653.19 L295.60,652.04 L293.72,653.19 L294.23,651.04 L292.56,649.61 L294.75,649.44Z" fill="#fff" stroke="#000" stroke-width="0.55"/>
<path d="M295.60,666.00 L296.53,668.23 L298.93,668.42 L297.10,669.99 L297.66,672.33 L295.60,671.08 L293.54,672.33 L294.10,669.99 L292.27,668.42 L294.67,668.23Z" fill="#000"/>
<text x="311.00" y="616.00" font-family='"Liberation Serif", "Times New Roman", serif' font-size="10" font-weight="bold" fill="#111" textLength="5.00" lengthAdjust="spacingAndGlyphs" >2</text>
<text x="316.50" y="610.30" font-family='"Liberation Serif", "Times New Roman", serif' font-size="9" font-weight="bold" fill="#111" textLength="11.80" lengthAdjust="spacingAndGlyphs" >nd</text>
<text x="311.00" y="635.00" font-family='"Liberation Serif", "Times New Roman", serif' font-size="10" font-weight="bold" fill="#111" textLength="11.00" lengthAdjust="spacingAndGlyphs" >25</text>
<text x="322.50" y="629.00" font-family='"Liberation Serif", "Times New Roman", serif' font-size="9" font-weight="bold" fill="#111" textLength="9.70" lengthAdjust="spacingAndGlyphs" >th</text>
<text x="311.00" y="654.00" font-family='"Liberation Serif", "Times New Roman", serif' font-size="10" font-weight="bold" fill="#111" textLength="11.00" lengthAdjust="spacingAndGlyphs" >50</text>
<text x="322.50" y="648.00" font-family='"Liberation Serif", "Times New Roman", serif' font-size="9" font-weight="bold" fill="#111" textLength="9.70" lengthAdjust="spacingAndGlyphs" >th</text>
<text x="311.00" y="672.80" font-family='"Liberation Serif", "Times New Roman", serif' font-size="10" font-weight="bold" fill="#111" textLength="11.00" lengthAdjust="spacingAndGlyphs" >75</text>
<text x="322.50" y="666.70" font-family='"Liberation Serif", "Times New Roman", serif' font-size="9" font-weight="bold" fill="#111" textLength="9.70" lengthAdjust="spacingAndGlyphs" >th</text>
<line x1="410.25" y1="715.75" x2="410.25" y2="503.5" stroke="#555" stroke-width="1.5" stroke-dasharray="3.2 4.9" stroke-dashoffset="0.95"/>
<line x1="441.05" y1="715.75" x2="441.05" y2="503.5" stroke="#555" stroke-width="1.5" stroke-dasharray="3.2 4.9" stroke-dashoffset="0.95"/>
<line x1="471.85" y1="715.75" x2="471.85" y2="503.5" stroke="#555" stroke-width="1.5" stroke-dasharray="3.2 4.9" stroke-dashoffset="0.95"/>
<line x1="502.65" y1="715.75" x2="502.65" y2="503.5" stroke="#555" stroke-width="1.5" stroke-dasharray="3.2 4.9" stroke-dashoffset="0.95"/>
<line x1="533.45" y1="715.75" x2="533.45" y2="503.5" stroke="#555" stroke-width="1.5" stroke-dasharray="3.2 4.9" stroke-dashoffset="0.95"/>
<line x1="564.25" y1="715.75" x2="564.25" y2="503.5" stroke="#555" stroke-width="1.5" stroke-dasharray="3.2 4.9" stroke-dashoffset="0.95"/>
<line x1="595.05" y1="715.75" x2="595.05" y2="503.5" stroke="#555" stroke-width="1.5" stroke-dasharray="3.2 4.9" stroke-dashoffset="0.95"/>
<line x1="625.85" y1="715.75" x2="625.85" y2="503.5" stroke="#555" stroke-width="1.5" stroke-dasharray="3.2 4.9" stroke-dashoffset="0.95"/>
<polyline points="413.33,522.10 416.41,529.55 419.49,534.87 422.57,537.00 425.65,543.38 428.73,544.45 431.81,545.51 434.89,546.57 437.97,547.11 441.05,546.57" fill="none" stroke="#000" stroke-width="2.2" stroke-linejoin="round" stroke-linecap="round" />
<polyline points="444.13,563.60 447.21,564.66 450.29,565.73 453.37,563.60 456.45,561.47 459.53,561.47 462.61,562.53 465.69,561.47 468.77,562.00 471.85,562.53" fill="none" stroke="#000" stroke-width="2.2" stroke-linejoin="round" stroke-linecap="round" />
<polyline points="474.93,587.54 478.01,588.07 481.09,588.60 484.17,589.13 487.25,589.13 490.33,589.13 493.41,589.67 496.49,590.20 499.57,590.73 502.65,590.73" fill="none" stroke="#000" stroke-width="2.2" stroke-linejoin="round" stroke-linecap="round" />
<polyline points="505.73,614.14 508.81,614.14 511.89,614.67 514.97,615.20 518.05,615.73 521.13,615.73 524.21,616.27 527.29,616.80 530.37,617.86 533.45,618.39" fill="none" stroke="#000" stroke-width="2.2" stroke-linejoin="round" stroke-linecap="round" />
<polyline points="536.53,605.09 539.61,602.97 542.69,602.97 545.77,603.50 548.85,604.03 551.93,604.03 555.01,604.56 558.09,604.56 561.17,604.03 564.25,603.50" fill="none" stroke="#000" stroke-width="2.2" stroke-linejoin="round" stroke-linecap="round" />
<polyline points="567.33,581.69 570.41,581.15 573.49,580.62 576.57,580.09 579.65,579.03 582.73,579.56 585.81,580.62 588.89,581.69 591.97,582.22 595.05,582.75" fill="none" stroke="#000" stroke-width="2.2" stroke-linejoin="round" stroke-linecap="round" />
<polyline points="598.13,559.34 601.21,559.34 604.29,559.87 607.37,559.87 610.45,559.34 613.53,559.87 616.61,560.41 619.69,561.47 622.77,561.47 625.85,562.00" fill="none" stroke="#000" stroke-width="2.2" stroke-linejoin="round" stroke-linecap="round" />
<polyline points="413.33,508.18 416.41,508.02 419.49,507.47 422.57,508.16 425.65,508.09 428.73,507.98 431.81,508.58 434.89,508.09 437.97,507.91 441.05,507.67 444.13,508.71 447.21,508.40 450.29,508.72 453.37,507.64 456.45,507.82 459.53,508.79 462.61,507.39 465.69,507.41 468.77,507.88 471.85,507.93 474.93,508.62 478.01,508.83 481.09,508.06 484.17,508.76 487.25,508.57 490.33,508.49 493.41,508.81 496.49,508.16 499.57,508.19 502.65,507.60 505.73,508.08 508.81,507.90 511.89,508.11 514.97,507.86 518.05,508.17 521.13,508.44 524.21,507.36 527.29,507.37 530.37,507.60 533.45,507.80 536.53,508.38 539.61,508.51 542.69,508.42 545.77,508.75 548.85,507.71 551.93,508.25 555.01,507.59 558.09,508.28 561.17,507.42 564.25,507.59 567.33,508.85 570.41,508.54 573.49,507.50 576.57,508.15 579.65,507.39 582.73,508.26 585.81,508.74 588.89,507.91 591.97,507.69 595.05,508.45 598.13,509.36 601.21,508.99 604.29,508.05 607.37,508.36 610.45,509.31 613.53,509.12 616.61,509.34 619.69,509.40 622.77,508.30 625.85,509.22" fill="none" stroke="#000" stroke-width="2.2" stroke-linejoin="round" stroke-linecap="round" />
<path d="M411.53,520.30h3.6v3.6h-3.6zM414.61,527.75h3.6v3.6h-3.6zM417.69,533.07h3.6v3.6h-3.6zM420.77,535.20h3.6v3.6h-3.6zM423.85,541.58h3.6v3.6h-3.6zM426.93,542.65h3.6v3.6h-3.6zM430.01,543.71h3.6v3.6h-3.6zM433.09,544.77h3.6v3.6h-3.6zM436.17,545.31h3.6v3.6h-3.6zM439.25,544.77h3.6v3.6h-3.6zM442.33,561.80h3.6v3.6h-3.6zM445.41,562.86h3.6v3.6h-3.6zM448.49,563.93h3.6v3.6h-3.6zM451.57,561.80h3.6v3.6h-3.6zM454.65,559.67h3.6v3.6h-3.6zM457.73,559.67h3.6v3.6h-3.6zM460.81,560.73h3.6v3.6h-3.6zM463.89,559.67h3.6v3.6h-3.6zM466.97,560.20h3.6v3.6h-3.6zM470.05,560.73h3.6v3.6h-3.6zM473.13,585.74h3.6v3.6h-3.6zM476.21,586.27h3.6v3.6h-3.6zM479.29,586.80h3.6v3.6h-3.6zM482.37,587.33h3.6v3.6h-3.6zM485.45,587.33h3.6v3.6h-3.6zM488.53,587.33h3.6v3.6h-3.6zM491.61,587.87h3.6v3.6h-3.6zM494.69,588.40h3.6v3.6h-3.6zM497.77,588.93h3.6v3.6h-3.6zM500.85,588.93h3.6v3.6h-3.6zM503.93,612.34h3.6v3.6h-3.6zM507.01,612.34h3.6v3.6h-3.6zM510.09,612.87h3.6v3.6h-3.6zM513.17,613.40h3.6v3.6h-3.6zM516.25,613.93h3.6v3.6h-3.6zM519.33,613.93h3.6v3.6h-3.6zM522.41,614.47h3.6v3.6h-3.6zM525.49,615.00h3.6v3.6h-3.6zM528.57,616.06h3.6v3.6h-3.6zM531.65,616.59h3.6v3.6h-3.6zM534.73,603.29h3.6v3.6h-3.6zM537.81,601.17h3.6v3.6h-3.6zM540.89,601.17h3.6v3.6h-3.6zM543.97,601.70h3.6v3.6h-3.6zM547.05,602.23h3.6v3.6h-3.6zM550.13,602.23h3.6v3.6h-3.6zM553.21,602.76h3.6v3.6h-3.6zM556.29,602.76h3.6v3.6h-3.6zM559.37,602.23h3.6v3.6h-3.6zM562.45,601.70h3.6v3.6h-3.6zM565.53,579.89h3.6v3.6h-3.6zM568.61,579.35h3.6v3.6h-3.6zM571.69,578.82h3.6v3.6h-3.6zM574.77,578.29h3.6v3.6h-3.6zM577.85,577.23h3.6v3.6h-3.6zM580.93,577.76h3.6v3.6h-3.6zM584.01,578.82h3.6v3.6h-3.6zM587.09,579.89h3.6v3.6h-3.6zM590.17,580.42h3.6v3.6h-3.6zM593.25,580.95h3.6v3.6h-3.6zM596.33,557.54h3.6v3.6h-3.6zM599.41,557.54h3.6v3.6h-3.6zM602.49,558.07h3.6v3.6h-3.6zM605.57,558.07h3.6v3.6h-3.6zM608.65,557.54h3.6v3.6h-3.6zM611.73,558.07h3.6v3.6h-3.6zM614.81,558.61h3.6v3.6h-3.6zM617.89,559.67h3.6v3.6h-3.6zM620.97,559.67h3.6v3.6h-3.6zM624.05,560.20h3.6v3.6h-3.6zM411.53,506.38h3.6v3.6h-3.6zM414.61,506.22h3.6v3.6h-3.6zM417.69,505.67h3.6v3.6h-3.6zM420.77,506.36h3.6v3.6h-3.6zM423.85,506.29h3.6v3.6h-3.6zM426.93,506.18h3.6v3.6h-3.6zM430.01,506.78h3.6v3.6h-3.6zM433.09,506.29h3.6v3.6h-3.6zM436.17,506.11h3.6v3.6h-3.6zM439.25,505.87h3.6v3.6h-3.6zM442.33,506.91h3.6v3.6h-3.6zM445.41,506.60h3.6v3.6h-3.6zM448.49,506.92h3.6v3.6h-3.6zM451.57,505.84h3.6v3.6h-3.6zM454.65,506.02h3.6v3.6h-3.6zM457.73,506.99h3.6v3.6h-3.6zM460.81,505.59h3.6v3.6h-3.6zM463.89,505.61h3.6v3.6h-3.6zM466.97,506.08h3.6v3.6h-3.6zM470.05,506.13h3.6v3.6h-3.6zM473.13,506.82h3.6v3.6h-3.6zM476.21,507.03h3.6v3.6h-3.6zM479.29,506.26h3.6v3.6h-3.6zM482.37,506.96h3.6v3.6h-3.6zM485.45,506.77h3.6v3.6h-3.6zM488.53,506.69h3.6v3.6h-3.6zM491.61,507.01h3.6v3.6h-3.6zM494.69,506.36h3.6v3.6h-3.6zM497.77,506.39h3.6v3.6h-3.6zM500.85,505.80h3.6v3.6h-3.6zM503.93,506.28h3.6v3.6h-3.6zM507.01,506.10h3.6v3.6h-3.6zM510.09,506.31h3.6v3.6h-3.6zM513.17,506.06h3.6v3.6h-3.6zM516.25,506.37h3.6v3.6h-3.6zM519.33,506.64h3.6v3.6h-3.6zM522.41,505.56h3.6v3.6h-3.6zM525.49,505.57h3.6v3.6h-3.6zM528.57,505.80h3.6v3.6h-3.6zM531.65,506.00h3.6v3.6h-3.6zM534.73,506.58h3.6v3.6h-3.6zM537.81,506.71h3.6v3.6h-3.6zM540.89,506.62h3.6v3.6h-3.6zM543.97,506.95h3.6v3.6h-3.6zM547.05,505.91h3.6v3.6h-3.6zM550.13,506.45h3.6v3.6h-3.6zM553.21,505.79h3.6v3.6h-3.6zM556.29,506.48h3.6v3.6h-3.6zM559.37,505.62h3.6v3.6h-3.6zM562.45,505.79h3.6v3.6h-3.6zM565.53,507.05h3.6v3.6h-3.6zM568.61,506.74h3.6v3.6h-3.6zM571.69,505.70h3.6v3.6h-3.6zM574.77,506.35h3.6v3.6h-3.6zM577.85,505.59h3.6v3.6h-3.6zM580.93,506.46h3.6v3.6h-3.6zM584.01,506.94h3.6v3.6h-3.6zM587.09,506.11h3.6v3.6h-3.6zM590.17,505.89h3.6v3.6h-3.6zM593.25,506.65h3.6v3.6h-3.6zM596.33,507.56h3.6v3.6h-3.6zM599.41,507.19h3.6v3.6h-3.6zM602.49,506.25h3.6v3.6h-3.6zM605.57,506.56h3.6v3.6h-3.6zM608.65,507.51h3.6v3.6h-3.6zM611.73,507.32h3.6v3.6h-3.6zM614.81,507.54h3.6v3.6h-3.6zM617.89,507.60h3.6v3.6h-3.6zM620.97,506.50h3.6v3.6h-3.6zM624.05,507.42h3.6v3.6h-3.6z" fill="#000"/>
<polyline points="424.60,560.30 424.60,574.50 403.50,574.50" fill="none" stroke="#000" stroke-width="1.7" stroke-linejoin="round" stroke-linecap="round" stroke-linecap="butt" stroke-linejoin="miter"/>
<polygon points="397.2,574.5 404.5,571.8 404.5,577.2" fill="#000"/>
<polyline points="620.80,512.00 620.80,527.30 645.50,527.30" fill="none" stroke="#000" stroke-width="1.7" stroke-linejoin="round" stroke-linecap="round" stroke-linecap="butt" stroke-linejoin="miter"/>
<polygon points="652.4,527.3 644.8,524.6 644.8,530.0" fill="#000"/>
<text x="427.00" y="539.00" font-family='"Liberation Sans", Arial, sans-serif' font-size="11" font-weight="bold" fill="#111" textLength="11.60" lengthAdjust="spacingAndGlyphs" >10</text>
<text x="439.00" y="539.00" font-family='"Liberation Serif", "Times New Roman", serif' font-size="11.5" font-weight="bold" fill="#111" textLength="29.60" lengthAdjust="spacingAndGlyphs" >μA.cm</text>
<text x="469.60" y="532.70" font-family='"Liberation Sans", Arial, sans-serif' font-size="6.5" font-weight="bold" fill="#111" >-2</text>
<text x="456.80" y="556.50" font-family='"Liberation Sans", Arial, sans-serif' font-size="11" font-weight="bold" fill="#111" textLength="11.60" lengthAdjust="spacingAndGlyphs" >20</text>
<text x="468.80" y="556.50" font-family='"Liberation Serif", "Times New Roman", serif' font-size="11.5" font-weight="bold" fill="#111" textLength="29.60" lengthAdjust="spacingAndGlyphs" >μA.cm</text>
<text x="499.40" y="550.20" font-family='"Liberation Sans", Arial, sans-serif' font-size="6.5" font-weight="bold" fill="#111" >-2</text>
<text x="478.80" y="581.30" font-family='"Liberation Sans", Arial, sans-serif' font-size="11" font-weight="bold" fill="#111" textLength="11.60" lengthAdjust="spacingAndGlyphs" >30</text>
<text x="490.80" y="581.30" font-family='"Liberation Serif", "Times New Roman", serif' font-size="11.5" font-weight="bold" fill="#111" textLength="29.60" lengthAdjust="spacingAndGlyphs" >μA.cm</text>
<text x="521.40" y="575.00" font-family='"Liberation Sans", Arial, sans-serif' font-size="6.5" font-weight="bold" fill="#111" >-2</text>
<text x="496.20" y="610.80" font-family='"Liberation Sans", Arial, sans-serif' font-size="11" font-weight="bold" fill="#111" textLength="11.60" lengthAdjust="spacingAndGlyphs" >40</text>
<text x="508.20" y="610.80" font-family='"Liberation Serif", "Times New Roman", serif' font-size="11.5" font-weight="bold" fill="#111" textLength="29.60" lengthAdjust="spacingAndGlyphs" >μA.cm</text>
<text x="534.80" y="596.40" font-family='"Liberation Sans", Arial, sans-serif' font-size="11" font-weight="bold" fill="#111" textLength="11.60" lengthAdjust="spacingAndGlyphs" >30</text>
<text x="546.80" y="596.40" font-family='"Liberation Serif", "Times New Roman", serif' font-size="11.5" font-weight="bold" fill="#111" textLength="29.60" lengthAdjust="spacingAndGlyphs" >μA.cm</text>
<text x="577.40" y="590.10" font-family='"Liberation Sans", Arial, sans-serif' font-size="6.5" font-weight="bold" fill="#111" >-2</text>
<text x="564.90" y="573.50" font-family='"Liberation Sans", Arial, sans-serif' font-size="11" font-weight="bold" fill="#111" textLength="11.60" lengthAdjust="spacingAndGlyphs" >20</text>
<text x="576.90" y="573.50" font-family='"Liberation Serif", "Times New Roman", serif' font-size="11.5" font-weight="bold" fill="#111" textLength="29.60" lengthAdjust="spacingAndGlyphs" >μA.cm</text>
<text x="607.50" y="567.20" font-family='"Liberation Sans", Arial, sans-serif' font-size="6.5" font-weight="bold" fill="#111" >-2</text>
<text x="601.00" y="551.30" font-family='"Liberation Sans", Arial, sans-serif' font-size="11" font-weight="bold" fill="#111" textLength="11.60" lengthAdjust="spacingAndGlyphs" >10</text>
<text x="613.00" y="551.30" font-family='"Liberation Serif", "Times New Roman", serif' font-size="11.5" font-weight="bold" fill="#111" textLength="29.60" lengthAdjust="spacingAndGlyphs" >μA.cm</text>
<text x="643.60" y="545.00" font-family='"Liberation Sans", Arial, sans-serif' font-size="6.5" font-weight="bold" fill="#111" >-2</text>
</svg>
</body></html>
